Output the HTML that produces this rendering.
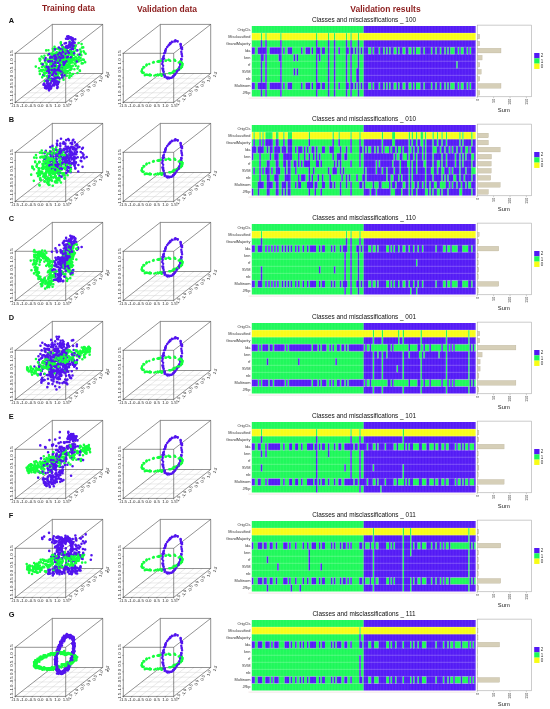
<!DOCTYPE html>
<html><head><meta charset="utf-8"><title>Classification figure</title>
<style>html,body{margin:0;padding:0;background:#fff;overflow:hidden}svg{display:block}</style>
</head><body>
<svg width="550" height="709" viewBox="0 0 550 709">
<defs><pattern id="vgrid" x="251.8" y="0" width="1.49200" height="10" patternUnits="userSpaceOnUse"><rect width="0.35" height="10" fill="#fff" fill-opacity="0.15"/></pattern></defs>
<rect width="550" height="709" fill="#fff"/>
<g font-family="Liberation Sans, Arial, sans-serif" font-weight="bold" font-size="8.5" fill="#8c1d1d" text-anchor="middle">
<text x="68.5" y="11">Training data</text>
<text x="167" y="11.5">Validation data</text>
<text x="385.5" y="12">Validation results</text>
</g>
<text x="8.8" y="22.5" font-family="Liberation Sans, Arial, sans-serif" font-weight="bold" font-size="7.4" fill="#111">A</text>
<path d="M23.7 102.4l37 -28.9M32.1 102.4l37 -28.9M40.5 102.4l37 -28.9M48.9 102.4l37 -28.9M57.3 102.4l37 -28.9M21.47 97.58h50.4M27.63 92.77h50.4M33.8 87.95h50.4M39.97 83.13h50.4M46.13 78.32h50.4" stroke="#c9c9c9" stroke-width="0.4" fill="none"/>
<path d="M15.3 53.3h50.4v49.1h-50.4zM52.3 24.4h50.4v49.1h-50.4zM15.3 53.3l37 -28.9M65.7 53.3l37 -28.9M15.3 102.4l37 -28.9M65.7 102.4l37 -28.9M15.3 102.4h-0.9M15.3 102.4v0.9M15.3 94.22h-0.9M23.7 102.4v0.9M15.3 86.03h-0.9M32.1 102.4v0.9M15.3 77.85h-0.9M40.5 102.4v0.9M15.3 69.67h-0.9M48.9 102.4v0.9M15.3 61.48h-0.9M57.3 102.4v0.9M15.3 53.3h-0.9M65.7 102.4v0.9" stroke="#262626" stroke-width="0.5" fill="none"/>
<g font-family="Liberation Sans, Arial, sans-serif" font-size="4.4" fill="#262626" text-anchor="middle">
<text x="15.3" y="107.4">-1.5</text>
<text x="23.7" y="107.4">-1.0</text>
<text x="32.1" y="107.4">-0.5</text>
<text x="40.5" y="107.4">0.0</text>
<text x="48.9" y="107.4">0.5</text>
<text x="57.3" y="107.4">1.0</text>
<text x="65.7" y="107.4">1.5</text>
<text transform="translate(13.4,102.4) rotate(-90)">-1.5</text>
<text transform="translate(13.4,94.22) rotate(-90)">-1.0</text>
<text transform="translate(13.4,86.03) rotate(-90)">-0.5</text>
<text transform="translate(13.4,77.85) rotate(-90)">0.0</text>
<text transform="translate(13.4,69.67) rotate(-90)">0.5</text>
<text transform="translate(13.4,61.48) rotate(-90)">1.0</text>
<text transform="translate(13.4,53.3) rotate(-90)">1.5</text>
<text transform="translate(71.3,103.6) rotate(-72)" font-size="4.1">-1.5</text>
<text transform="translate(77.47,98.78) rotate(-72)" font-size="4.1">-1.0</text>
<text transform="translate(83.63,93.97) rotate(-72)" font-size="4.1">-0.5</text>
<text transform="translate(89.8,89.15) rotate(-72)" font-size="4.1">0.0</text>
<text transform="translate(95.97,84.33) rotate(-72)" font-size="4.1">0.5</text>
<text transform="translate(102.13,79.52) rotate(-72)" font-size="4.1">1.0</text>
<text transform="translate(108.3,74.7) rotate(-72)" font-size="4.1">1.5</text>
</g>
<path d="M60.97 69.94h0M41.2 63.67h0M57.05 66.67h0M58.08 62.51h0M62.02 71.28h0M65.27 64.36h0M64.56 70.34h0M63.25 77.65h0M55.76 74.55h0M82.85 63.23h0M71.1 54.25h0M56.94 56.14h0M58.31 76.51h0M64.87 62.39h0M56.38 57.38h0M69.6 77.34h0M62.17 49.84h0M74.31 53.45h0M48.15 67.54h0M69.36 67.47h0M45.59 67.47h0M62.87 50.43h0M58.36 53.41h0M67.34 56.07h0M78.33 66.45h0M56.6 52.22h0M75.07 48.02h0M60.88 60.59h0M61.09 69.29h0M73.6 59.85h0M73.35 53.83h0M57.23 68.8h0M59.91 50.19h0M66.1 70.68h0M77.69 54.86h0M72.15 59.61h0M59.11 81.67h0M48.02 76.84h0M63.67 65.18h0M81.29 55.17h0M63.89 66.42h0M61.56 59.69h0M48.43 50.27h0M66.64 56.89h0M67.77 60.61h0M69.29 77.64h0M65.99 51.21h0M70.18 54.06h0M58.05 48.93h0M47.14 72.49h0M79.75 70.57h0M74.11 59.71h0M70.46 50.15h0M74.21 58h0" stroke="#14ff3e" stroke-width="2.6" stroke-linecap="round"/>
<path d="M51.45 72.72h0M52.26 61.9h0M57.34 68.29h0M44.76 67.2h0M59.69 62.78h0M59.13 60.82h0M49.42 76.71h0M46.75 69.02h0M59.82 49.42h0M74.73 63.74h0M52.15 63.97h0M44.8 70.43h0M56.86 57.38h0M57.2 75.47h0M85.15 62.17h0M56.46 61.24h0M48.93 77.85h0M53.81 65.55h0M72.02 47.83h0M45.17 61.36h0M51.79 63.84h0M70.5 62.35h0M51.57 74.8h0M53.19 63.32h0M40.23 59.06h0M54.91 75.86h0M70.11 60.91h0M55.23 75.86h0M71.07 59.39h0M65.06 64.03h0M50.3 64.16h0M64.08 55.21h0M63.05 64.7h0M53.49 71.99h0M46.95 80.88h0M65.79 51.98h0M52.11 56.35h0M54.57 53.92h0M58.88 58.21h0M58.46 77.05h0M55.01 67.86h0M61.65 61.34h0M67.38 72.68h0M39.88 60.84h0M66.47 56.67h0M58.66 68.32h0M57.05 72.37h0M65.09 62.68h0M57.82 56.55h0M52.81 48.84h0M63.68 64.89h0M64.52 66.93h0M62.11 65.61h0M63.37 72.1h0" stroke="#14ff3e" stroke-width="2.6" stroke-linecap="round"/>
<path d="M62.87 76.42h0M71.82 56.92h0M84.07 52.24h0M70.14 49.92h0M68.33 65.81h0M53.79 65.77h0M54.89 63.3h0M75.8 65.8h0M83.56 51.31h0M52.44 73.81h0M65.2 52.58h0M69.5 75.55h0M75.84 45.83h0M66.62 49.2h0M51.32 62.08h0M58.37 59.76h0M53.9 81.71h0M54.16 68.18h0M72.98 74.06h0M76.31 50.42h0M72.95 45.49h0M76.71 59.13h0M65.94 56.09h0M80.91 60.53h0M71.92 46.86h0M49.55 72.33h0M72.21 54.61h0M85.6 53.79h0M47.64 60.12h0M55.51 69.71h0M67.66 51.83h0M58.2 61.26h0M74.39 69.21h0M60.75 60.01h0M57.08 48.7h0M74.01 51.48h0M60.49 62.62h0M58.16 73.73h0M64.73 58.23h0M75.49 60.2h0M66.74 75.84h0M66.67 60.33h0M66.07 57.12h0M67.88 71.09h0M49.92 58.96h0M65.36 66.05h0M65.13 74.75h0M83.75 59.88h0M58.89 54.08h0M53.42 51.22h0M55.85 74.3h0M58.68 62.54h0M61.48 49.35h0M56.58 53.06h0" stroke="#14ff3e" stroke-width="2.6" stroke-linecap="round"/>
<path d="M81.6 44.1h0M39.56 71.26h0M69.11 53.8h0M56.81 55.97h0M35.8 66.6h0M67.29 64.64h0M78.68 61.34h0M80.54 58.01h0M75.48 60.4h0M54.51 58.9h0M46.67 63.89h0M61.32 60.06h0M64.84 68.29h0M60.51 71.03h0M68.67 66.53h0M39.86 73.97h0M46.05 72.86h0M59.09 59.77h0M65.46 58.83h0M43.6 58.19h0M57.35 67.89h0M61.3 55.78h0M67.84 59.01h0M42.17 71.32h0M42.18 77.37h0M54.32 65.32h0M49.2 66.67h0M72.7 62.47h0M51.15 62.67h0M56.78 76.62h0M41.61 56.51h0M51.85 53.58h0M68.72 54.94h0M72.29 54.01h0M64.32 49.54h0M66.88 61.84h0M55.7 63.86h0M72.22 66.23h0M80.92 51.54h0M59.56 72.28h0M77.5 72.98h0M63.24 67.44h0M63.61 52.16h0M40.92 70.03h0M67.73 53.12h0M61.4 44.99h0M62.94 59.55h0M42.04 71.08h0M58.47 72.63h0" stroke="#14ff3e" stroke-width="2.6" stroke-linecap="round"/>
<path d="M49.79 85.36h0M48.29 84.88h0M47.01 70.84h0M63.4 50.48h0M58.02 59.14h0" stroke="#5214ee" stroke-width="2.6" stroke-linecap="round"/>
<path d="M82 47.61h0M52.92 67.23h0M58.6 77.83h0M63.88 49.96h0M47.05 59.86h0M66.05 58.6h0M62.52 67.02h0M55.65 64.79h0M61.88 56.16h0M57.53 60.81h0M60.02 61.3h0M58.8 54.95h0M67.68 67.82h0M56.9 58.57h0M66.36 51.39h0M78.62 42.99h0M60.95 70.63h0M65.17 57.03h0M46.39 65.63h0M49.87 53.73h0M69.48 60.98h0M57.88 71h0M50.26 60.31h0M57.97 66.27h0M62.27 49.36h0M40.09 60.06h0M64.06 61.79h0M44.41 75.78h0M49.29 61.66h0M69.26 58.14h0M72.29 52.75h0M46.17 69.15h0M47.98 54.94h0M62.85 75.85h0M62.9 59.62h0M64.79 57.27h0M49.08 67.39h0M59.6 78.82h0M50.69 58.23h0" stroke="#14ff3e" stroke-width="2.6" stroke-linecap="round"/>
<path d="M67.15 52.21h0M69.23 53.29h0M53.4 78.99h0M62.8 49.87h0M70.43 50.38h0M62.5 55.93h0M68.49 45.53h0M70.82 37.2h0M49.44 73.1h0M64.44 75.38h0M48.98 76.36h0M47.61 82.66h0M54.73 80.42h0M45.02 87.84h0M67.6 47.9h0" stroke="#5214ee" stroke-width="2.6" stroke-linecap="round"/>
<path d="M57.96 60.23h0M69.57 70.24h0M69.15 65.39h0M74.75 60.49h0M57.47 62.26h0M64.56 64.53h0M70.67 69.82h0M47.91 78.62h0M61.49 61.2h0M56.89 78.54h0M63.86 58.07h0M50.03 58.98h0M47.69 59.72h0M70.97 60.3h0M65.76 65.85h0M43.63 65.7h0M61.78 74.97h0M44.73 81.26h0M64.19 50.25h0M74.06 54.95h0M63.68 56.53h0M54.7 57.02h0M65.06 72.38h0M62.77 70.46h0M54.7 61.35h0M55.21 66.59h0M76.61 57.68h0M57.71 54.76h0M68.91 63.4h0M55.98 55.44h0M72.13 52.11h0M65.65 60.59h0M58.57 66.28h0M52.46 72.89h0M75.51 63.18h0M60.75 71.87h0M59.09 52.85h0" stroke="#14ff3e" stroke-width="2.6" stroke-linecap="round"/>
<path d="M56.11 60.05h0M54.02 72.49h0M67.91 38.84h0M47.12 83.32h0M62.41 52.23h0M59.6 55.99h0M55.78 83h0M68.25 60.68h0M62.11 45.39h0M63.61 47.2h0M49.06 71.23h0M55.73 78.57h0M53.06 69.68h0M72.43 44.1h0M60.2 64.9h0M73 47.67h0M73.14 47.16h0M55.37 77.45h0" stroke="#5214ee" stroke-width="2.6" stroke-linecap="round"/>
<path d="M61.42 54.07h0M62.61 70.76h0M45.39 62.47h0M52.98 54.25h0M63.98 51.51h0M74.53 48.08h0M69.65 41.45h0M51.98 71.22h0M57.85 73.28h0M57.57 75.75h0M51.19 63.71h0M54.87 62.67h0M41.94 67.05h0M75.56 57.05h0M39.47 58.84h0M47.17 80.84h0M55.47 56.76h0M60.26 66.82h0M53.77 70.64h0M69.62 59.87h0M50.01 75.81h0M55.78 57.18h0M71.23 61.89h0M70.31 67.1h0M78.73 59.47h0M53.33 71.16h0M55.11 56.81h0M54.93 81.47h0M57.17 53.71h0M77.59 68.51h0M61.36 62h0M54.65 72.09h0" stroke="#14ff3e" stroke-width="2.6" stroke-linecap="round"/>
<path d="M58.88 61.36h0M59.67 56.44h0M56.11 81.72h0M54.55 80.7h0M68.42 38.27h0M59.25 66.41h0M67.16 36.54h0M63.2 71.84h0M54.34 58.5h0M48.15 77.47h0M54.4 76.25h0M52.22 80.74h0M66.82 50.96h0M46.74 66.91h0M49.6 85.43h0M59.67 67.89h0M62.12 68.26h0M70.78 51.14h0M45.5 85.98h0M57.25 62.07h0M55.73 55.41h0M73.83 42.66h0" stroke="#5214ee" stroke-width="2.6" stroke-linecap="round"/>
<path d="M63.85 60.19h0M43.1 75.57h0M55.51 61.66h0M64.52 65.68h0M67.2 57.76h0M70.49 63.25h0M61.74 72.69h0M50.41 59.19h0M55.04 48.92h0M57.72 62.13h0M52.67 68.22h0M59.3 68.99h0M83.21 47.41h0M68.06 65.84h0M42.85 63.87h0M63.21 63.1h0M64.12 68.15h0M63.99 63.41h0M65.63 62.72h0M79.95 70.92h0M53.88 64.38h0M53.41 58.91h0M54.09 68.57h0M79.04 57.13h0M51.17 68.82h0M66.71 51.77h0M59.19 59.94h0M61.62 64.77h0M62.54 46.96h0M48.43 68.43h0M74.92 45.43h0M64.33 65.15h0M60.84 49.88h0M54.54 46.68h0M46.18 50.42h0M62.07 69.17h0M71.55 69.07h0" stroke="#14ff3e" stroke-width="2.6" stroke-linecap="round"/>
<path d="M43.43 74.79h0M49.03 54.04h0M58.8 47.47h0M72.1 42.97h0M44.44 84.6h0M70.11 44.58h0M62.37 72.66h0M67.71 38.42h0M52.95 74.32h0M51.37 78.65h0M46.36 88.57h0M47.89 75.8h0M71.84 49.09h0M50.41 78.96h0M53.72 83.41h0M68.35 36.27h0M70.9 38.24h0" stroke="#5214ee" stroke-width="2.6" stroke-linecap="round"/>
<path d="M76.86 61.52h0M57.29 59.97h0M71.41 75.63h0M70.7 51.26h0M67.11 66.37h0M64.34 60.52h0M69.35 51.84h0M61.02 60.4h0M61.26 68.29h0M67.21 60.02h0M66.18 57.55h0M59.6 71.76h0M64.02 71.35h0M65.27 71.25h0M71.57 56.45h0M55.24 67.05h0M71.94 44.85h0M66.93 65.2h0M61.43 66.19h0M55.46 64.63h0M50.42 60.45h0M60.82 43.36h0M51.76 65.58h0M61.13 52.53h0M51.14 80.81h0M80.64 52.79h0M61.58 61.53h0M38.94 68.32h0M59.67 54.16h0M72.86 58.84h0M61.03 72.26h0M59.84 52.78h0M43.12 69.73h0M58.17 72.68h0M44.44 74.19h0M51.07 69.76h0M58.57 62.74h0M81.69 63.41h0" stroke="#14ff3e" stroke-width="2.6" stroke-linecap="round"/>
<path d="M69.96 43.9h0M61.27 68.74h0M48.23 83.94h0M54.4 81.76h0M46.63 87.51h0M63.04 56.14h0M49.36 72.92h0M74.7 42.77h0M71.88 39.82h0M72.95 48.92h0M72.65 38.53h0M54.92 62.24h0M52.22 75.13h0M48.89 84.47h0M60.63 48.79h0M52.28 61.37h0" stroke="#5214ee" stroke-width="2.6" stroke-linecap="round"/>
<path d="M70.04 65.76h0M68.97 61.15h0M80.12 49.51h0M67.78 65.93h0M82.7 59.57h0M61.36 69.05h0M50.2 79.83h0M60.85 42.19h0M64.85 56.36h0M60.82 73.84h0M62.86 63.18h0M47.07 76.31h0M72.74 65.76h0M57.5 54.99h0M69.94 73.17h0M69.95 53.93h0M56.08 69.25h0M44.43 55.8h0M60.68 55.46h0M62.17 57.85h0M63.56 79.72h0M64.77 48.83h0M55.38 75.71h0M59.68 63.11h0M65.83 68.29h0M62.89 63.78h0M60.48 57.74h0M71.63 61.37h0M57.92 52.89h0M44.13 72.9h0M70.7 54.17h0M67.18 62.03h0M61.12 72.85h0M71.2 68.2h0M56.08 60.48h0M50.2 68.58h0" stroke="#14ff3e" stroke-width="2.6" stroke-linecap="round"/>
<path d="M49.2 73.29h0M56.1 70.38h0M63.93 63.13h0M65.63 53.65h0M54.33 70.89h0M49.08 89.59h0M48.36 66.99h0M44.14 83.67h0M70.52 38.1h0M50.08 57.79h0M72.33 38.02h0M58.62 82.06h0M50.51 56.5h0M72.9 41.06h0M60.89 71.56h0M48.88 88.5h0M42.54 64.39h0M59.25 70.41h0" stroke="#5214ee" stroke-width="2.6" stroke-linecap="round"/>
<path d="M60.06 60.29h0M46.04 86.93h0M48.37 68.91h0M69.28 37.67h0M48.82 61.36h0M54.94 49.42h0M67.83 51.25h0M58 69.92h0M57.67 87.11h0M59.53 57.26h0M68.72 36.77h0M59.52 78.31h0M69.26 38.28h0M70.9 57.28h0M61.83 74.92h0M71.8 44.8h0M57.26 87.91h0M69.04 52.8h0M45.11 87.21h0M52.15 57.42h0M54.87 58.67h0M49.88 87.47h0M43.5 84.67h0M70.75 45.7h0M75.25 39.24h0M66.04 47.41h0M60.99 53.48h0M62.14 77.38h0M69.27 44.47h0M58.12 62.9h0M57.78 84.52h0M63.4 57.37h0M53.99 85.51h0M77.44 50.33h0M49.05 90.34h0M53.73 72.25h0M63.78 64.85h0M61.07 57.81h0M73.69 45.73h0M49.53 83.85h0M45.62 58.09h0M70.19 47.3h0M56.92 85.15h0M48.08 80.64h0M66.96 57.36h0M46.36 80.67h0M57.99 54.52h0M64.61 43.48h0M66.4 46.13h0M51.8 69.96h0M76.85 61.48h0M48.44 85.94h0M72.34 42.56h0M69.21 37.34h0" stroke="#5214ee" stroke-width="2.6" stroke-linecap="round"/>
<path d="M59.73 65.17h0M54.52 72.18h0M73.2 39.69h0M54.74 84.27h0M56.13 73.89h0M49.2 76.33h0M61.66 57.87h0M51.75 81.01h0M72.3 48.74h0M50.77 82.89h0M69.6 42.38h0M52.32 66.35h0M55.07 65.98h0M58.08 83.42h0M68.63 47.14h0M57.75 77.38h0M67.96 56.75h0M48.16 61.44h0M54.48 69.23h0M53.32 64.24h0M54.16 55.86h0M55.49 62.65h0M63.51 62.04h0M69.91 45.24h0M51.01 88.39h0M66.33 61.28h0M55.54 77.87h0M56.2 59.69h0M52.44 85.25h0M44.93 60.23h0M46.32 85.57h0M66 43.01h0M51.56 66.42h0M67.05 46.4h0M56.9 81.21h0M51.48 86.71h0M79.48 54.47h0M50 87.12h0M53.19 78.92h0M47.59 88.07h0M66.03 38.7h0M59.59 52.82h0M46.57 85.76h0M64.73 63.08h0M58.45 68.36h0M62.91 52.09h0M56.53 58.05h0M52.72 80.47h0M56.27 57.19h0M74.04 53.27h0M49.97 61.2h0M49.32 69.91h0M55.19 62.4h0M61.48 55.03h0M49.58 89.02h0" stroke="#5214ee" stroke-width="2.6" stroke-linecap="round"/>
<path d="M131.7 102.4l37 -28.9M140.1 102.4l37 -28.9M148.5 102.4l37 -28.9M156.9 102.4l37 -28.9M165.3 102.4l37 -28.9M129.47 97.58h50.4M135.63 92.77h50.4M141.8 87.95h50.4M147.97 83.13h50.4M154.13 78.32h50.4" stroke="#c9c9c9" stroke-width="0.4" fill="none"/>
<path d="M123.3 53.3h50.4v49.1h-50.4zM160.3 24.4h50.4v49.1h-50.4zM123.3 53.3l37 -28.9M173.7 53.3l37 -28.9M123.3 102.4l37 -28.9M173.7 102.4l37 -28.9M123.3 102.4h-0.9M123.3 102.4v0.9M123.3 94.22h-0.9M131.7 102.4v0.9M123.3 86.03h-0.9M140.1 102.4v0.9M123.3 77.85h-0.9M148.5 102.4v0.9M123.3 69.67h-0.9M156.9 102.4v0.9M123.3 61.48h-0.9M165.3 102.4v0.9M123.3 53.3h-0.9M173.7 102.4v0.9" stroke="#262626" stroke-width="0.5" fill="none"/>
<g font-family="Liberation Sans, Arial, sans-serif" font-size="4.4" fill="#262626" text-anchor="middle">
<text x="123.3" y="107.4">-1.5</text>
<text x="131.7" y="107.4">-1.0</text>
<text x="140.1" y="107.4">-0.5</text>
<text x="148.5" y="107.4">0.0</text>
<text x="156.9" y="107.4">0.5</text>
<text x="165.3" y="107.4">1.0</text>
<text x="173.7" y="107.4">1.5</text>
<text transform="translate(121.4,102.4) rotate(-90)">-1.5</text>
<text transform="translate(121.4,94.22) rotate(-90)">-1.0</text>
<text transform="translate(121.4,86.03) rotate(-90)">-0.5</text>
<text transform="translate(121.4,77.85) rotate(-90)">0.0</text>
<text transform="translate(121.4,69.67) rotate(-90)">0.5</text>
<text transform="translate(121.4,61.48) rotate(-90)">1.0</text>
<text transform="translate(121.4,53.3) rotate(-90)">1.5</text>
<text transform="translate(179.3,103.6) rotate(-72)" font-size="4.1">-1.5</text>
<text transform="translate(185.47,98.78) rotate(-72)" font-size="4.1">-1.0</text>
<text transform="translate(191.63,93.97) rotate(-72)" font-size="4.1">-0.5</text>
<text transform="translate(197.8,89.15) rotate(-72)" font-size="4.1">0.0</text>
<text transform="translate(203.97,84.33) rotate(-72)" font-size="4.1">0.5</text>
<text transform="translate(210.13,79.52) rotate(-72)" font-size="4.1">1.0</text>
<text transform="translate(216.3,74.7) rotate(-72)" font-size="4.1">1.5</text>
</g>
<path d="M180.92 68.15h0M143.51 66.92h0M162.29 74.77h0M168.72 59.68h0M180.17 61.82h0M158.05 75.05h0M153.67 62.54h0M177 70.03h0M141.9 71.09h0M143.32 73.09h0M158 61.45h0M180.8 62.98h0M158.84 61.89h0M181.44 63.79h0M182.06 64.44h0M176.28 71.04h0M152.97 62.62h0M162.74 74.37h0M149.25 64h0M148.14 75.1h0M159.09 61.04h0" stroke="#14ff3e" stroke-width="2.4" stroke-linecap="round"/>
<path d="M165.13 52.43h0M166.76 77.55h0M181.63 59.3h0M173.28 75.94h0M174.56 41.08h0M182.12 56.25h0M168.39 45.62h0M164.92 74.61h0M171.94 41.76h0M176.57 72.15h0M164.48 74.47h0M181.2 60.71h0M174.92 74.82h0M169.5 44.47h0M169.88 43.71h0M164.82 53.01h0M181.06 61.24h0M170.51 77.9h0M169.41 78.23h0M182.1 47.74h0M180.75 44.49h0M162.68 58.91h0M171.24 77.8h0M181.75 54.6h0M178.61 69.9h0" stroke="#5214ee" stroke-width="2.4" stroke-linecap="round"/>
<path d="M144.78 75.18h0M169.99 60.36h0M149.45 74.83h0M160.29 74.29h0M174.99 60.5h0M168.51 59.93h0M164.65 74.44h0M154.27 75.59h0M170.53 73.19h0M180.71 62.87h0M146.24 74.64h0M165.41 60.77h0M157.42 61.6h0M182.53 65.03h0M159.88 74.76h0M181.48 67.09h0M150.73 74.85h0M177.92 69.5h0M182.63 63.87h0M142.43 72.77h0M170.24 60.88h0" stroke="#14ff3e" stroke-width="2.4" stroke-linecap="round"/>
<path d="M163.66 72.02h0M170.59 43.24h0M175.63 40.52h0M181.07 47.62h0M180.16 65.11h0M167.52 78.57h0M180.71 44.65h0M168 77.59h0M163.91 55.83h0M163.28 57.07h0M162.59 60.88h0M162.92 70.11h0M181.65 53.4h0M181.19 59.03h0M163.4 56.46h0M178.68 68.5h0M163.5 74.59h0M173.85 75.74h0M175.16 40.43h0M164.09 58.47h0M168.47 78.09h0M173.48 76.21h0M164.66 76.82h0M162.99 58.54h0M179.25 67.23h0" stroke="#5214ee" stroke-width="2.4" stroke-linecap="round"/>
<path d="M146.58 64.58h0M149.79 75.23h0M181.46 63.39h0M143.69 67.55h0M181.95 65.16h0M153.63 61.88h0M150.88 75.26h0M160.91 60.82h0M144.27 67.21h0M178.72 62.44h0M145.93 74.84h0M174.49 59.63h0M181.39 62.51h0M181.8 62.97h0M142.05 69.43h0M161.66 75.9h0M175.09 70.95h0M181.74 62.68h0M145.83 74.74h0M173.85 71.69h0M147.51 74.59h0M181.22 66.25h0M142.31 72.31h0M169.26 73.23h0M181.43 67.19h0M141.69 71.2h0M175 71.17h0M179.39 69.36h0M158.21 75.18h0M149.85 74.47h0M142.17 69.28h0M175.02 70.6h0M180.35 61.47h0" stroke="#14ff3e" stroke-width="2.4" stroke-linecap="round"/>
<path d="M165.93 49.04h0M163.4 71.13h0M167.22 46.99h0M162.58 62.27h0M174.7 41.38h0M165.25 50.83h0M175.55 73.75h0M162.25 63.94h0M170.43 43.07h0M165.24 51.44h0M172.48 77.29h0M180.04 64.13h0M168.95 77.82h0" stroke="#5214ee" stroke-width="2.4" stroke-linecap="round"/>
<path d="M141.8 71.41h0M141.91 71h0M178.33 68.94h0M181.82 66.13h0M175.31 60.84h0M182.19 63.58h0M157.67 74.57h0M166.1 60.53h0M143.71 72.75h0M172.11 72.67h0M146.3 65.54h0M173.48 71.29h0M149.96 75.33h0M178.04 69.61h0M146.8 64.67h0M182.12 66.7h0M155.69 74.97h0M181.79 62.67h0M180.15 61.76h0M141.8 71.81h0" stroke="#14ff3e" stroke-width="2.4" stroke-linecap="round"/>
<path d="M170.27 43.68h0M166.67 77.7h0M163.22 69.72h0M180.54 43.94h0M175.08 40.83h0M180.79 46.2h0M182.08 49.15h0M181.28 51.76h0M163.04 58.74h0M164.88 75.98h0M177.57 70.71h0M176.84 71.22h0M163.15 68.55h0M163.14 65.78h0M168.92 44.84h0M162.65 59.01h0M177.72 41.21h0M181.35 48.61h0M165.28 50.42h0M172.55 42.12h0M177.66 41.49h0M165.55 50.4h0M179.03 69.33h0M165.45 50.71h0M162.34 68.57h0M164.09 53.34h0M175.68 40.97h0" stroke="#5214ee" stroke-width="2.4" stroke-linecap="round"/>
<text transform="translate(108.6,76) rotate(-90)" font-family="Liberation Sans, Arial, sans-serif" font-size="4.4" fill="#444" text-anchor="middle">x<tspan font-size="3" dy="1">3</tspan></text>
<path fill="#1cf858" d="M251.8 26h111.93v7.08h-111.93zM260.75 33.05h1.52v7.08h-1.52zM265.23 33.05h1.52v7.08h-1.52zM280.15 33.05h1.52v7.08h-1.52zM315.96 33.05h1.52v7.08h-1.52zM327.89 33.05h1.52v7.08h-1.52zM333.86 33.05h1.52v7.08h-1.52zM345.8 33.05h1.52v7.08h-1.52zM350.27 33.05h1.52v7.08h-1.52zM357.73 33.05h1.52v7.08h-1.52zM251.8 40.1h8.98v7.08h-8.98zM262.24 40.1h3.01v7.08h-3.01zM266.72 40.1h13.46v7.08h-13.46zM281.64 40.1h34.35v7.08h-34.35zM317.45 40.1h10.47v7.08h-10.47zM329.38 40.1h4.51v7.08h-4.51zM335.35 40.1h10.47v7.08h-10.47zM347.29 40.1h3.01v7.08h-3.01zM351.76 40.1h6v7.08h-6zM359.22 40.1h4.51v7.08h-4.51zM254.78 47.15h3.01v7.08h-3.01zM266.72 47.15h3.01v7.08h-3.01zM281.64 47.15h1.52v7.08h-1.52zM284.62 47.15h3.01v7.08h-3.01zM292.08 47.15h8.98v7.08h-8.98zM302.53 47.15h3.01v7.08h-3.01zM309.99 47.15h1.52v7.08h-1.52zM312.97 47.15h3.01v7.08h-3.01zM320.43 47.15h1.52v7.08h-1.52zM324.91 47.15h3.01v7.08h-3.01zM329.38 47.15h4.51v7.08h-4.51zM335.35 47.15h3.01v7.08h-3.01zM339.83 47.15h6v7.08h-6zM348.78 47.15h1.52v7.08h-1.52zM353.26 47.15h1.52v7.08h-1.52zM356.24 47.15h1.52v7.08h-1.52zM359.22 47.15h1.52v7.08h-1.52zM362.21 47.15h1.52v7.08h-1.52zM368.18 47.15h3.01v7.08h-3.01zM372.65 47.15h1.52v7.08h-1.52zM378.62 47.15h1.52v7.08h-1.52zM383.1 47.15h1.52v7.08h-1.52zM386.08 47.15h1.52v7.08h-1.52zM389.06 47.15h1.52v7.08h-1.52zM393.54 47.15h3.01v7.08h-3.01zM398.02 47.15h1.52v7.08h-1.52zM402.49 47.15h3.01v7.08h-3.01zM408.46 47.15h3.01v7.08h-3.01zM412.94 47.15h1.52v7.08h-1.52zM415.92 47.15h4.51v7.08h-4.51zM423.38 47.15h1.52v7.08h-1.52zM430.84 47.15h1.52v7.08h-1.52zM435.32 47.15h1.52v7.08h-1.52zM439.79 47.15h1.52v7.08h-1.52zM444.27 47.15h1.52v7.08h-1.52zM447.25 47.15h1.52v7.08h-1.52zM450.24 47.15h4.51v7.08h-4.51zM457.7 47.15h1.52v7.08h-1.52zM460.68 47.15h3.01v7.08h-3.01zM466.65 47.15h1.52v7.08h-1.52zM469.63 47.15h1.52v7.08h-1.52zM251.8 54.2h8.98v7.08h-8.98zM263.74 54.2h1.52v7.08h-1.52zM266.72 54.2h11.97v7.08h-11.97zM281.64 54.2h11.97v7.08h-11.97zM295.07 54.2h1.52v7.08h-1.52zM298.05 54.2h17.93v7.08h-17.93zM317.45 54.2h1.52v7.08h-1.52zM320.43 54.2h7.49v7.08h-7.49zM329.38 54.2h4.51v7.08h-4.51zM335.35 54.2h10.47v7.08h-10.47zM347.29 54.2h3.01v7.08h-3.01zM351.76 54.2h6v7.08h-6zM359.22 54.2h4.51v7.08h-4.51zM251.8 61.25h8.98v7.08h-8.98zM262.24 61.25h3.01v7.08h-3.01zM266.72 61.25h13.46v7.08h-13.46zM281.64 61.25h34.35v7.08h-34.35zM317.45 61.25h10.47v7.08h-10.47zM329.38 61.25h4.51v7.08h-4.51zM335.35 61.25h10.47v7.08h-10.47zM347.29 61.25h3.01v7.08h-3.01zM351.76 61.25h6v7.08h-6zM359.22 61.25h4.51v7.08h-4.51zM456.2 61.25h1.52v7.08h-1.52zM251.8 68.3h8.98v7.08h-8.98zM262.24 68.3h3.01v7.08h-3.01zM266.72 68.3h13.46v7.08h-13.46zM281.64 68.3h11.97v7.08h-11.97zM295.07 68.3h1.52v7.08h-1.52zM298.05 68.3h17.93v7.08h-17.93zM317.45 68.3h10.47v7.08h-10.47zM329.38 68.3h4.51v7.08h-4.51zM335.35 68.3h10.47v7.08h-10.47zM347.29 68.3h3.01v7.08h-3.01zM351.76 68.3h4.51v7.08h-4.51zM359.22 68.3h4.51v7.08h-4.51zM251.8 75.35h8.98v7.08h-8.98zM262.24 75.35h3.01v7.08h-3.01zM266.72 75.35h13.46v7.08h-13.46zM281.64 75.35h34.35v7.08h-34.35zM317.45 75.35h10.47v7.08h-10.47zM329.38 75.35h4.51v7.08h-4.51zM335.35 75.35h10.47v7.08h-10.47zM347.29 75.35h3.01v7.08h-3.01zM351.76 75.35h4.51v7.08h-4.51zM359.22 75.35h4.51v7.08h-4.51zM254.78 82.4h3.01v7.08h-3.01zM266.72 82.4h3.01v7.08h-3.01zM281.64 82.4h1.52v7.08h-1.52zM284.62 82.4h3.01v7.08h-3.01zM292.08 82.4h8.98v7.08h-8.98zM302.53 82.4h3.01v7.08h-3.01zM309.99 82.4h1.52v7.08h-1.52zM312.97 82.4h3.01v7.08h-3.01zM320.43 82.4h1.52v7.08h-1.52zM324.91 82.4h3.01v7.08h-3.01zM329.38 82.4h4.51v7.08h-4.51zM335.35 82.4h3.01v7.08h-3.01zM339.83 82.4h6v7.08h-6zM348.78 82.4h1.52v7.08h-1.52zM353.26 82.4h1.52v7.08h-1.52zM356.24 82.4h1.52v7.08h-1.52zM359.22 82.4h1.52v7.08h-1.52zM362.21 82.4h1.52v7.08h-1.52zM368.18 82.4h3.01v7.08h-3.01zM372.65 82.4h1.52v7.08h-1.52zM378.62 82.4h1.52v7.08h-1.52zM383.1 82.4h1.52v7.08h-1.52zM386.08 82.4h1.52v7.08h-1.52zM389.06 82.4h1.52v7.08h-1.52zM393.54 82.4h3.01v7.08h-3.01zM398.02 82.4h1.52v7.08h-1.52zM402.49 82.4h3.01v7.08h-3.01zM408.46 82.4h3.01v7.08h-3.01zM412.94 82.4h1.52v7.08h-1.52zM415.92 82.4h4.51v7.08h-4.51zM423.38 82.4h1.52v7.08h-1.52zM430.84 82.4h1.52v7.08h-1.52zM435.32 82.4h1.52v7.08h-1.52zM439.79 82.4h1.52v7.08h-1.52zM444.27 82.4h1.52v7.08h-1.52zM447.25 82.4h1.52v7.08h-1.52zM450.24 82.4h4.51v7.08h-4.51zM457.7 82.4h1.52v7.08h-1.52zM460.68 82.4h3.01v7.08h-3.01zM466.65 82.4h1.52v7.08h-1.52zM469.63 82.4h1.52v7.08h-1.52zM251.8 89.45h8.98v7.08h-8.98zM262.24 89.45h3.01v7.08h-3.01zM266.72 89.45h13.46v7.08h-13.46zM281.64 89.45h34.35v7.08h-34.35zM317.45 89.45h10.47v7.08h-10.47zM329.38 89.45h4.51v7.08h-4.51zM335.35 89.45h10.47v7.08h-10.47zM347.29 89.45h3.01v7.08h-3.01zM351.76 89.45h6v7.08h-6zM359.22 89.45h4.51v7.08h-4.51z"/>
<path fill="#5218f5" d="M363.7 26h111.93v7.08h-111.93zM260.75 40.1h1.52v7.08h-1.52zM265.23 40.1h1.52v7.08h-1.52zM280.15 40.1h1.52v7.08h-1.52zM315.96 40.1h1.52v7.08h-1.52zM327.89 40.1h1.52v7.08h-1.52zM333.86 40.1h1.52v7.08h-1.52zM345.8 40.1h1.52v7.08h-1.52zM350.27 40.1h1.52v7.08h-1.52zM357.73 40.1h1.52v7.08h-1.52zM363.7 40.1h111.93v7.08h-111.93zM251.8 47.15h3.01v7.08h-3.01zM257.77 47.15h8.98v7.08h-8.98zM269.7 47.15h11.97v7.08h-11.97zM283.13 47.15h1.52v7.08h-1.52zM287.61 47.15h4.51v7.08h-4.51zM301.04 47.15h1.52v7.08h-1.52zM305.51 47.15h4.51v7.08h-4.51zM311.48 47.15h1.52v7.08h-1.52zM315.96 47.15h4.51v7.08h-4.51zM321.92 47.15h3.01v7.08h-3.01zM327.89 47.15h1.52v7.08h-1.52zM333.86 47.15h1.52v7.08h-1.52zM338.34 47.15h1.52v7.08h-1.52zM345.8 47.15h3.01v7.08h-3.01zM350.27 47.15h3.01v7.08h-3.01zM354.75 47.15h1.52v7.08h-1.52zM357.73 47.15h1.52v7.08h-1.52zM360.72 47.15h1.52v7.08h-1.52zM363.7 47.15h4.51v7.08h-4.51zM371.16 47.15h1.52v7.08h-1.52zM374.14 47.15h4.51v7.08h-4.51zM380.11 47.15h3.01v7.08h-3.01zM384.59 47.15h1.52v7.08h-1.52zM387.57 47.15h1.52v7.08h-1.52zM390.56 47.15h3.01v7.08h-3.01zM396.52 47.15h1.52v7.08h-1.52zM399.51 47.15h3.01v7.08h-3.01zM405.48 47.15h3.01v7.08h-3.01zM411.44 47.15h1.52v7.08h-1.52zM414.43 47.15h1.52v7.08h-1.52zM420.4 47.15h3.01v7.08h-3.01zM424.87 47.15h6v7.08h-6zM432.33 47.15h3.01v7.08h-3.01zM436.81 47.15h3.01v7.08h-3.01zM441.28 47.15h3.01v7.08h-3.01zM445.76 47.15h1.52v7.08h-1.52zM448.74 47.15h1.52v7.08h-1.52zM454.71 47.15h3.01v7.08h-3.01zM459.19 47.15h1.52v7.08h-1.52zM463.66 47.15h3.01v7.08h-3.01zM468.14 47.15h1.52v7.08h-1.52zM471.12 47.15h4.51v7.08h-4.51zM260.75 54.2h3.01v7.08h-3.01zM265.23 54.2h1.52v7.08h-1.52zM278.66 54.2h3.01v7.08h-3.01zM293.58 54.2h1.52v7.08h-1.52zM296.56 54.2h1.52v7.08h-1.52zM315.96 54.2h1.52v7.08h-1.52zM318.94 54.2h1.52v7.08h-1.52zM327.89 54.2h1.52v7.08h-1.52zM333.86 54.2h1.52v7.08h-1.52zM345.8 54.2h1.52v7.08h-1.52zM350.27 54.2h1.52v7.08h-1.52zM357.73 54.2h1.52v7.08h-1.52zM363.7 54.2h111.93v7.08h-111.93zM260.75 61.25h1.52v7.08h-1.52zM265.23 61.25h1.52v7.08h-1.52zM280.15 61.25h1.52v7.08h-1.52zM315.96 61.25h1.52v7.08h-1.52zM327.89 61.25h1.52v7.08h-1.52zM333.86 61.25h1.52v7.08h-1.52zM345.8 61.25h1.52v7.08h-1.52zM350.27 61.25h1.52v7.08h-1.52zM357.73 61.25h1.52v7.08h-1.52zM363.7 61.25h92.53v7.08h-92.53zM457.7 61.25h17.93v7.08h-17.93zM260.75 68.3h1.52v7.08h-1.52zM265.23 68.3h1.52v7.08h-1.52zM280.15 68.3h1.52v7.08h-1.52zM293.58 68.3h1.52v7.08h-1.52zM296.56 68.3h1.52v7.08h-1.52zM315.96 68.3h1.52v7.08h-1.52zM327.89 68.3h1.52v7.08h-1.52zM333.86 68.3h1.52v7.08h-1.52zM345.8 68.3h1.52v7.08h-1.52zM350.27 68.3h1.52v7.08h-1.52zM356.24 68.3h3.01v7.08h-3.01zM363.7 68.3h111.93v7.08h-111.93zM260.75 75.35h1.52v7.08h-1.52zM265.23 75.35h1.52v7.08h-1.52zM280.15 75.35h1.52v7.08h-1.52zM315.96 75.35h1.52v7.08h-1.52zM327.89 75.35h1.52v7.08h-1.52zM333.86 75.35h1.52v7.08h-1.52zM345.8 75.35h1.52v7.08h-1.52zM350.27 75.35h1.52v7.08h-1.52zM356.24 75.35h3.01v7.08h-3.01zM363.7 75.35h111.93v7.08h-111.93zM251.8 82.4h3.01v7.08h-3.01zM257.77 82.4h8.98v7.08h-8.98zM269.7 82.4h11.97v7.08h-11.97zM283.13 82.4h1.52v7.08h-1.52zM287.61 82.4h4.51v7.08h-4.51zM301.04 82.4h1.52v7.08h-1.52zM305.51 82.4h4.51v7.08h-4.51zM311.48 82.4h1.52v7.08h-1.52zM315.96 82.4h4.51v7.08h-4.51zM321.92 82.4h3.01v7.08h-3.01zM327.89 82.4h1.52v7.08h-1.52zM333.86 82.4h1.52v7.08h-1.52zM338.34 82.4h1.52v7.08h-1.52zM345.8 82.4h3.01v7.08h-3.01zM350.27 82.4h3.01v7.08h-3.01zM354.75 82.4h1.52v7.08h-1.52zM357.73 82.4h1.52v7.08h-1.52zM360.72 82.4h1.52v7.08h-1.52zM363.7 82.4h4.51v7.08h-4.51zM371.16 82.4h1.52v7.08h-1.52zM374.14 82.4h4.51v7.08h-4.51zM380.11 82.4h3.01v7.08h-3.01zM384.59 82.4h1.52v7.08h-1.52zM387.57 82.4h1.52v7.08h-1.52zM390.56 82.4h3.01v7.08h-3.01zM396.52 82.4h1.52v7.08h-1.52zM399.51 82.4h3.01v7.08h-3.01zM405.48 82.4h3.01v7.08h-3.01zM411.44 82.4h1.52v7.08h-1.52zM414.43 82.4h1.52v7.08h-1.52zM420.4 82.4h3.01v7.08h-3.01zM424.87 82.4h6v7.08h-6zM432.33 82.4h3.01v7.08h-3.01zM436.81 82.4h3.01v7.08h-3.01zM441.28 82.4h3.01v7.08h-3.01zM445.76 82.4h1.52v7.08h-1.52zM448.74 82.4h1.52v7.08h-1.52zM454.71 82.4h3.01v7.08h-3.01zM459.19 82.4h1.52v7.08h-1.52zM463.66 82.4h3.01v7.08h-3.01zM468.14 82.4h1.52v7.08h-1.52zM471.12 82.4h4.51v7.08h-4.51zM260.75 89.45h1.52v7.08h-1.52zM265.23 89.45h1.52v7.08h-1.52zM280.15 89.45h1.52v7.08h-1.52zM315.96 89.45h1.52v7.08h-1.52zM327.89 89.45h1.52v7.08h-1.52zM333.86 89.45h1.52v7.08h-1.52zM345.8 89.45h1.52v7.08h-1.52zM350.27 89.45h1.52v7.08h-1.52zM357.73 89.45h1.52v7.08h-1.52zM363.7 89.45h111.93v7.08h-111.93z"/>
<path fill="#f8fd14" d="M251.8 33.05h8.98v7.08h-8.98zM262.24 33.05h3.01v7.08h-3.01zM266.72 33.05h13.46v7.08h-13.46zM281.64 33.05h34.35v7.08h-34.35zM317.45 33.05h10.47v7.08h-10.47zM329.38 33.05h4.51v7.08h-4.51zM335.35 33.05h10.47v7.08h-10.47zM347.29 33.05h3.01v7.08h-3.01zM351.76 33.05h6v7.08h-6zM359.22 33.05h116.41v7.08h-116.41z"/>
<rect x="251.8" y="26" width="223.8" height="70.5" fill="url(#vgrid)"/>
<path d="M251.8 33.05H475.6M251.8 40.1H475.6M251.8 47.15H475.6M251.8 54.2H475.6M251.8 61.25H475.6M251.8 68.3H475.6M251.8 75.35H475.6M251.8 82.4H475.6M251.8 89.45H475.6" stroke="#fff" stroke-opacity="0.4" stroke-width="0.6"/>
<g font-family="Liberation Sans, Arial, sans-serif" font-size="3.9" fill="#333" text-anchor="end">
<text x="250.4" y="30.92">OrigCls</text>
<text x="250.4" y="37.97">Misclassified</text>
<text x="250.4" y="45.02">GrandMajority</text>
<text x="250.4" y="52.07">lda</text>
<text x="250.4" y="59.12">knn</text>
<text x="250.4" y="66.18">rf</text>
<text x="250.4" y="73.23">SVM</text>
<text x="250.4" y="80.28">nb</text>
<text x="250.4" y="87.33">Multinom</text>
<text x="250.4" y="94.38">JRip</text>
</g>
<path d="M248.5 98.1H475.6" stroke="#e2c4c4" stroke-width="0.45"/>
<text x="364" y="21.8" font-family="Liberation Sans, Arial, sans-serif" font-size="6.4" text-anchor="middle" fill="#111">Classes and misclassifications _ 100</text>
<rect x="477.2" y="25.1" width="54.4" height="71.7" fill="#fff" stroke="#999" stroke-width="0.5"/>
<rect x="477.4" y="34.15" width="2.4" height="4.7" fill="#d6cfb8" stroke="#b3aa92" stroke-width="0.3"/>
<rect x="477.4" y="41.2" width="2.4" height="4.7" fill="#d6cfb8" stroke="#b3aa92" stroke-width="0.3"/>
<rect x="477.4" y="48.25" width="23.6" height="4.7" fill="#d6cfb8" stroke="#b3aa92" stroke-width="0.3"/>
<rect x="477.4" y="55.3" width="4.7" height="4.7" fill="#d6cfb8" stroke="#b3aa92" stroke-width="0.3"/>
<rect x="477.4" y="62.35" width="2.4" height="4.7" fill="#d6cfb8" stroke="#b3aa92" stroke-width="0.3"/>
<rect x="477.4" y="69.4" width="3.8" height="4.7" fill="#d6cfb8" stroke="#b3aa92" stroke-width="0.3"/>
<rect x="477.4" y="76.45" width="2.4" height="4.7" fill="#d6cfb8" stroke="#b3aa92" stroke-width="0.3"/>
<rect x="477.4" y="83.5" width="23.6" height="4.7" fill="#d6cfb8" stroke="#b3aa92" stroke-width="0.3"/>
<rect x="477.4" y="90.55" width="2.4" height="4.7" fill="#d6cfb8" stroke="#b3aa92" stroke-width="0.3"/>
<path d="M477.2 96.8v1.4" stroke="#777" stroke-width="0.35"/>
<text transform="translate(478.5,98.8) rotate(-90)" text-anchor="end" font-family="Liberation Sans, Arial, sans-serif" font-size="3.6" fill="#333">0</text>
<path d="M493.6 96.8v1.4" stroke="#777" stroke-width="0.35"/>
<text transform="translate(494.9,98.8) rotate(-90)" text-anchor="end" font-family="Liberation Sans, Arial, sans-serif" font-size="3.6" fill="#333">50</text>
<path d="M510 96.8v1.4" stroke="#777" stroke-width="0.35"/>
<text transform="translate(511.3,98.8) rotate(-90)" text-anchor="end" font-family="Liberation Sans, Arial, sans-serif" font-size="3.6" fill="#333">100</text>
<path d="M526.4 96.8v1.4" stroke="#777" stroke-width="0.35"/>
<text transform="translate(527.7,98.8) rotate(-90)" text-anchor="end" font-family="Liberation Sans, Arial, sans-serif" font-size="3.6" fill="#333">150</text>
<text x="503.8" y="112" font-family="Liberation Sans, Arial, sans-serif" font-size="5.8" text-anchor="middle" fill="#222">Sum</text>
<rect x="534.2" y="53" width="5.3" height="5.35" fill="#5218f5"/>
<text x="540.8" y="57.2" font-family="Liberation Sans, Arial, sans-serif" font-size="4.5" fill="#333">2</text>
<rect x="534.2" y="58.3" width="5.3" height="5.35" fill="#1cf858"/>
<text x="540.8" y="62.5" font-family="Liberation Sans, Arial, sans-serif" font-size="4.5" fill="#333">1</text>
<rect x="534.2" y="63.6" width="5.3" height="5.35" fill="#f8fd14"/>
<text x="540.8" y="67.8" font-family="Liberation Sans, Arial, sans-serif" font-size="4.5" fill="#333">0</text>
<text x="8.8" y="121.5" font-family="Liberation Sans, Arial, sans-serif" font-weight="bold" font-size="7.4" fill="#111">B</text>
<path d="M23.7 201.4l37 -28.9M32.1 201.4l37 -28.9M40.5 201.4l37 -28.9M48.9 201.4l37 -28.9M57.3 201.4l37 -28.9M21.47 196.58h50.4M27.63 191.77h50.4M33.8 186.95h50.4M39.97 182.13h50.4M46.13 177.32h50.4" stroke="#c9c9c9" stroke-width="0.4" fill="none"/>
<path d="M15.3 152.3h50.4v49.1h-50.4zM52.3 123.4h50.4v49.1h-50.4zM15.3 152.3l37 -28.9M65.7 152.3l37 -28.9M15.3 201.4l37 -28.9M65.7 201.4l37 -28.9M15.3 201.4h-0.9M15.3 201.4v0.9M15.3 193.22h-0.9M23.7 201.4v0.9M15.3 185.03h-0.9M32.1 201.4v0.9M15.3 176.85h-0.9M40.5 201.4v0.9M15.3 168.67h-0.9M48.9 201.4v0.9M15.3 160.48h-0.9M57.3 201.4v0.9M15.3 152.3h-0.9M65.7 201.4v0.9" stroke="#262626" stroke-width="0.5" fill="none"/>
<g font-family="Liberation Sans, Arial, sans-serif" font-size="4.4" fill="#262626" text-anchor="middle">
<text x="15.3" y="206.4">-1.5</text>
<text x="23.7" y="206.4">-1.0</text>
<text x="32.1" y="206.4">-0.5</text>
<text x="40.5" y="206.4">0.0</text>
<text x="48.9" y="206.4">0.5</text>
<text x="57.3" y="206.4">1.0</text>
<text x="65.7" y="206.4">1.5</text>
<text transform="translate(13.4,201.4) rotate(-90)">-1.5</text>
<text transform="translate(13.4,193.22) rotate(-90)">-1.0</text>
<text transform="translate(13.4,185.03) rotate(-90)">-0.5</text>
<text transform="translate(13.4,176.85) rotate(-90)">0.0</text>
<text transform="translate(13.4,168.67) rotate(-90)">0.5</text>
<text transform="translate(13.4,160.48) rotate(-90)">1.0</text>
<text transform="translate(13.4,152.3) rotate(-90)">1.5</text>
<text transform="translate(71.3,202.6) rotate(-72)" font-size="4.1">-1.5</text>
<text transform="translate(77.47,197.78) rotate(-72)" font-size="4.1">-1.0</text>
<text transform="translate(83.63,192.97) rotate(-72)" font-size="4.1">-0.5</text>
<text transform="translate(89.8,188.15) rotate(-72)" font-size="4.1">0.0</text>
<text transform="translate(95.97,183.33) rotate(-72)" font-size="4.1">0.5</text>
<text transform="translate(102.13,178.52) rotate(-72)" font-size="4.1">1.0</text>
<text transform="translate(108.3,173.7) rotate(-72)" font-size="4.1">1.5</text>
</g>
<path d="M60.96 182.52h0M55.75 176.37h0M43.69 163.68h0M64.97 161.15h0M45.96 173.46h0M49.61 158.65h0M53.9 173.69h0M43.87 175.19h0M58.73 174.28h0M56.56 163.11h0M56.44 178.1h0M44.13 175.74h0M52.07 154.82h0" stroke="#14ff3e" stroke-width="2.6" stroke-linecap="round"/>
<path d="M71.27 157.68h0M53.3 168.02h0M51.84 166.1h0M72.45 163.14h0M75.32 168.57h0M72.74 153.43h0M53.62 158.91h0M55.26 162.29h0M45.86 150.87h0M60.26 152.77h0M71.8 142.78h0M71.24 163.83h0M68.9 154.27h0M68.99 148.15h0M77.19 144.55h0M73.84 157.19h0M77.04 144.44h0M70.35 151.22h0M68.33 163.06h0M59.44 153.56h0M72.67 149.05h0M81.43 161.2h0M60.92 157.63h0M59.59 175.99h0M63.11 158.42h0M57.98 169.91h0M78.24 171.51h0M73.35 139.83h0M55.52 154.16h0M55 160.85h0M66.24 167.64h0M58.93 164.1h0M66.63 161.22h0" stroke="#5214ee" stroke-width="2.6" stroke-linecap="round"/>
<path d="M50.3 159.7h0M49.29 173.99h0M52.53 168.36h0M49.85 158.93h0M40.37 178.05h0M50.18 174.95h0M45.79 157.96h0M65.11 168.88h0M46.22 171.58h0M49.59 180.35h0M35.24 162.2h0M57.8 171.83h0M59.92 177.56h0M47.56 153.98h0M38.92 171.19h0M49.96 171.72h0M54.98 181.67h0M38.94 168.77h0M57.95 164.83h0M33.83 180.87h0M54.08 159.36h0M63.65 167.46h0M61.19 172.94h0M67.63 175.18h0M46.09 166.5h0M52.07 169.6h0M59.46 172.88h0M36.62 165.8h0" stroke="#14ff3e" stroke-width="2.6" stroke-linecap="round"/>
<path d="M53.25 149.24h0M49.79 161.94h0M66.98 148.65h0M65.9 159.98h0M68.41 162.93h0M69.95 171.28h0M52 158.82h0M49.34 161.4h0M57.33 164.16h0M84.35 158.25h0M70.65 155.34h0M56.82 153.39h0M60.59 164.24h0M71.71 152.41h0M70.76 167.69h0M74.33 157.7h0M64.81 162.09h0M78.36 164.97h0M52.08 170h0" stroke="#5214ee" stroke-width="2.6" stroke-linecap="round"/>
<path d="M48.6 168.6h0M39.45 173.7h0M39.63 185.49h0M46.02 169.49h0M51.22 159.83h0M42.16 171.8h0M39.07 168.79h0M45.97 176.14h0M45.87 173h0M42.83 167.92h0M50.11 150.94h0M40.34 180.05h0M45.48 163.61h0M52.03 160.5h0M49.46 178.68h0M44.75 162.76h0M41.11 171.56h0M52.13 159.65h0M48.55 182.16h0M53.67 166.01h0M49.27 159.84h0M35.97 155.11h0M44.99 158.18h0" stroke="#14ff3e" stroke-width="2.6" stroke-linecap="round"/>
<path d="M74.17 161.01h0M61.63 153.48h0M75.88 145.46h0M59.04 165.44h0M73.26 163.38h0M61.4 152.48h0M66.12 157.19h0M55.35 168.9h0M63.63 142.15h0M60.29 146.11h0M74.66 166.02h0M55.67 149.73h0M65.38 143.65h0M60.88 156.24h0M64.21 156.46h0M74.82 142.42h0M75.15 153.44h0M71.92 163.24h0M73.14 154.33h0M82.53 153.23h0M81.3 157.6h0M56.54 169.79h0M75.04 154.07h0M70.36 150.98h0" stroke="#5214ee" stroke-width="2.6" stroke-linecap="round"/>
<path d="M52.87 171.96h0M50.69 151.6h0M37.13 164.2h0M53.79 149.24h0M52.48 155.25h0M53.28 164.01h0M57.18 172.48h0M60.41 162.97h0M51.65 154.17h0M64.89 178.41h0M47.39 165.71h0M52.61 173.8h0M60.36 166.55h0M58.56 155.48h0M55.08 175.46h0M43.35 164.2h0M62.97 175.24h0M44.33 157.56h0M51.21 167.14h0M38.81 170.57h0M46.9 167.24h0M55.11 173.69h0M67.95 157.99h0M47.85 171.09h0M56.21 147.38h0M55.26 162.64h0M50.31 173.38h0" stroke="#14ff3e" stroke-width="2.6" stroke-linecap="round"/>
<path d="M60.74 151.23h0M69.76 168.5h0M67.58 167.47h0M70.7 152.98h0M80.72 160.72h0M70.35 148.19h0M63.58 158.66h0M62.97 162.56h0M65.09 161.94h0M55.89 149.86h0M60.9 164.83h0M56.92 143.62h0M72.22 144.18h0M63.99 149.08h0M59.41 172.86h0M66.84 166.63h0M56.01 159.18h0M61.55 155.6h0M60.07 151.67h0" stroke="#5214ee" stroke-width="2.6" stroke-linecap="round"/>
<path d="M44.88 175.58h0M47.19 171.31h0M43.56 166.28h0M42.52 163.81h0M45.31 175.8h0M42.82 169.02h0M61.43 166.56h0M51.5 164.04h0M48.41 170.22h0M37.03 173.26h0M55.94 171.04h0M50.8 169.01h0M36.48 157.87h0M55.69 172.25h0M50.94 177.08h0M67.57 162.84h0M57.1 170.67h0M64.44 168.24h0M44.83 157.36h0M53.26 161.49h0M53.66 172.88h0M60.89 165.32h0M38.75 173.86h0M58.85 178.17h0M55.02 165.45h0M56.88 170.05h0M64.48 164.01h0M43.09 165h0" stroke="#14ff3e" stroke-width="2.6" stroke-linecap="round"/>
<path d="M63.23 150.19h0M75.65 150.02h0M47.8 158.57h0M61.06 150.11h0M58.15 172.98h0M53.53 156.59h0M63.36 158.46h0M68.02 171.11h0M52.43 160.01h0M46.14 156.09h0M63.79 150.53h0M73.66 149.39h0M75.96 162.19h0M69.82 157.46h0M50.3 147.12h0M59.74 160.87h0M65.39 158.28h0M59.17 156.1h0M77.71 147.56h0" stroke="#5214ee" stroke-width="2.6" stroke-linecap="round"/>
<path d="M49.94 171.07h0M51.22 168.41h0M68.87 154.84h0M61.69 169.65h0M64.35 175.38h0M56.25 177.72h0M56.29 178.33h0M42.73 173.51h0M54.05 152.53h0M54.4 153.33h0M58.26 179.93h0M55.72 182.4h0M49.7 167.27h0M33.98 169.33h0M49.24 168.79h0M46.23 160.26h0M31.2 174.65h0M52.77 161.47h0M61.64 169.86h0M52.74 185.75h0M63.54 152.19h0M48.81 178.2h0M51.93 170.22h0M51.37 176.33h0M55.22 169.83h0" stroke="#14ff3e" stroke-width="2.6" stroke-linecap="round"/>
<path d="M67.7 156.77h0M61.63 157.83h0M55.26 170.02h0M49.56 164.59h0M44.52 153.21h0M57.45 164.48h0M65.92 165.73h0M65.04 156.76h0M76.92 151.92h0M56.03 158.36h0M71.29 146.8h0M83.13 156.63h0M57.13 145.01h0M58.4 154.88h0M68.27 139.15h0M74.41 164.88h0M80.76 151.98h0M82.09 148.8h0M59.37 157.03h0M59.36 153.03h0M69.64 151.69h0M60.31 143.64h0" stroke="#5214ee" stroke-width="2.6" stroke-linecap="round"/>
<path d="M45.72 173.97h0M54.61 163.21h0M41.2 179.97h0M44.96 167.23h0M50.94 159.65h0M44.42 181.35h0M61.69 150.16h0M51.26 179.51h0M63.48 157.65h0M54.77 159.73h0M39.82 175.19h0M55.89 177.29h0M64.5 178.53h0M43.7 168.42h0M62.04 173.22h0M45.07 162.96h0M39.88 171.85h0M56.54 162.38h0M32.19 166.54h0M57.41 168.85h0M58.97 158.35h0M48.06 179.05h0M32.64 166.92h0M46.92 182.47h0M55.95 166.09h0" stroke="#14ff3e" stroke-width="2.6" stroke-linecap="round"/>
<path d="M65.22 160.57h0M76.28 154.22h0M69.65 154.87h0M61.14 154.26h0M51.37 161.04h0M68.96 140.19h0M46.5 162.83h0M60.63 157.74h0M59.74 149.83h0M70.63 164.62h0M62.33 159.62h0M53.18 163.67h0M61.41 151.07h0M64.28 143.69h0M65.99 149.26h0M67.12 163.26h0M82.92 147.82h0M58.94 165.66h0M66.35 148.81h0M74.99 154.09h0M72.76 140.43h0" stroke="#5214ee" stroke-width="2.6" stroke-linecap="round"/>
<path d="M55.37 161.24h0M59.65 170.9h0M40.5 173.71h0M42.66 167.37h0M55.87 157.31h0M43.52 161.03h0M39.96 152.67h0M70.39 165.63h0M44.18 176.54h0M56.18 171.86h0M52.51 147.87h0M47.63 159.73h0M46.47 159.93h0M40.86 173.03h0M43.14 166.25h0M41.73 150.53h0M54.95 167.25h0M36.74 166.68h0M56.59 171.83h0M58.67 173.65h0" stroke="#14ff3e" stroke-width="2.6" stroke-linecap="round"/>
<path d="M63.9 157.43h0M67.06 164.05h0M75.5 163.42h0M61.01 138.74h0M57.18 145.21h0M64.57 148.85h0M62.47 162.46h0M70.63 156.74h0M70.18 161.55h0M67.34 163.15h0M66.54 154.7h0M57.21 162.5h0M72.21 155.09h0M65.5 152.64h0M77.47 145.74h0M67.19 170.2h0M56.52 161.45h0M72.82 158.6h0M69.21 159.29h0M65.46 162.69h0M52.27 168.88h0M64.51 158.28h0M54.08 165.85h0M66.84 156.42h0M56.07 156.29h0M50.42 152.36h0M57.83 151.42h0" stroke="#5214ee" stroke-width="2.6" stroke-linecap="round"/>
<path d="M49.39 158.95h0M38.67 171.7h0M63.72 173.39h0M49.26 162.61h0M52.78 166.66h0M46.13 178.93h0M39.05 162.57h0M41.78 156.89h0M38.14 176.1h0M48.02 157.77h0M59.08 170.11h0M39.68 174.31h0M39.08 172.77h0M40.21 173.54h0M40.04 178.77h0M49.43 184.68h0M59.43 161.31h0M56.12 166.96h0M44.75 173.58h0M43.1 176.5h0M54.49 166.58h0M50.91 159.88h0M56.91 166.92h0M58.9 168.98h0M45.19 152.17h0M54.65 166.58h0M59.4 169.17h0M51.97 180.81h0" stroke="#14ff3e" stroke-width="2.6" stroke-linecap="round"/>
<path d="M60.43 155.74h0M69.66 151.18h0M61.39 164.5h0M67.03 151.53h0M60.57 154.63h0M60.86 168.29h0M55.4 165.42h0M68.96 158.82h0M52.48 145.92h0M59.13 150.42h0M57.68 150.2h0M74.64 151.99h0M61.65 158.03h0M62.47 163.52h0M48.17 161.48h0M67.22 165.23h0M58.18 152.58h0M58.25 156.56h0M56.64 159.24h0" stroke="#5214ee" stroke-width="2.6" stroke-linecap="round"/>
<path d="M51.57 177.48h0M59.48 155.54h0M51.31 158.69h0M46.89 165.39h0M59.54 180.41h0M49.09 166.66h0M57.05 152.22h0M57.48 179.79h0M61.28 163.44h0M48.03 166.53h0M53.61 163.83h0M40.78 157.04h0M47.43 180.6h0M52.84 169.86h0M56.26 181.42h0M50.72 171.36h0M57.74 170.26h0M48.38 163.28h0M47.25 162.94h0" stroke="#14ff3e" stroke-width="2.6" stroke-linecap="round"/>
<path d="M75.3 168.1h0M66.43 173.07h0M63.49 149.63h0M68.15 146.77h0M67.29 151.55h0M65.84 149.02h0M60.73 151.15h0M62.11 168.69h0M66.84 158.21h0M67.27 155.95h0M49.98 154.07h0M82.54 166.87h0M57.35 140.85h0M67.32 148.58h0M63.1 143.57h0M61.55 176.66h0M68.65 167.4h0M69.23 163.19h0M44.34 158.93h0M63.07 159.42h0M73.99 154.35h0M67.07 147.45h0M64.01 149.77h0M67.54 151.47h0M71.66 159.44h0M79.45 147.06h0M77.72 157.19h0" stroke="#5214ee" stroke-width="2.6" stroke-linecap="round"/>
<path d="M58.02 149.97h0M55.1 163.03h0M44.72 181.42h0M50.37 158.84h0M63.84 164.36h0M44.48 156.42h0M41.55 168.28h0M48.1 177.65h0M39.32 161.7h0M54.29 165.68h0M51.74 158.29h0M65.38 167.39h0M39.37 184.86h0M32.49 167.88h0M62.2 154.67h0M57.22 182.46h0M54.02 160.18h0M48.89 184.9h0M47.63 169.16h0M48 161.45h0M44.89 166.99h0M64.56 155.1h0M46.91 155.49h0M48.57 172.72h0M51.62 159.25h0M53.34 177.59h0" stroke="#14ff3e" stroke-width="2.6" stroke-linecap="round"/>
<path d="M52.75 153.44h0M66.18 140.13h0M73.97 162.26h0M70.6 143.28h0M59.83 168.51h0M55.45 164.81h0M60.34 148.89h0M74.12 159.9h0M61.08 157.55h0M51.45 164.9h0M70.72 172.28h0M66.89 165.03h0M67.7 160.69h0M72.74 147.23h0M76.43 149.06h0M74.44 147.62h0M69.78 148.9h0M57.73 166.75h0M76.02 158.1h0M56.06 165.38h0M74.54 157.09h0" stroke="#5214ee" stroke-width="2.6" stroke-linecap="round"/>
<path d="M38.7 174.22h0M45.38 162.03h0M53.73 171.47h0M42.18 153.11h0M35.15 161.62h0M51.68 172.96h0M54.14 150.36h0M67.04 164.74h0M60.48 158.54h0M38.66 168.35h0M70.91 169.15h0M70.48 171.39h0M42.74 156.92h0M48.02 183.96h0M48.59 160.11h0M61.09 161.89h0M44.82 177.66h0M52.21 153.29h0M48.5 170.68h0M49.07 167.94h0M39.52 161.94h0M60.32 161.66h0M57.19 178.46h0M49.62 169.13h0M49.53 153.23h0M52.27 172.79h0M42.86 164.89h0M43.56 158.08h0M47.94 160.93h0M59.96 166.2h0M50.87 166.74h0M56.58 180.35h0M34.17 157.62h0M46.59 168.72h0M41.46 173.06h0M48.26 157.67h0M40.31 157.53h0M54.44 177.03h0" stroke="#14ff3e" stroke-width="2.6" stroke-linecap="round"/>
<path d="M68.68 160.18h0M83.53 154.82h0M74.68 158.03h0M65.62 146.34h0M49.39 165.48h0M86.69 156.96h0M50.69 156.32h0M62.25 162.94h0M67.83 147.46h0" stroke="#5214ee" stroke-width="2.6" stroke-linecap="round"/>
<path d="M131.7 201.4l37 -28.9M140.1 201.4l37 -28.9M148.5 201.4l37 -28.9M156.9 201.4l37 -28.9M165.3 201.4l37 -28.9M129.47 196.58h50.4M135.63 191.77h50.4M141.8 186.95h50.4M147.97 182.13h50.4M154.13 177.32h50.4" stroke="#c9c9c9" stroke-width="0.4" fill="none"/>
<path d="M123.3 152.3h50.4v49.1h-50.4zM160.3 123.4h50.4v49.1h-50.4zM123.3 152.3l37 -28.9M173.7 152.3l37 -28.9M123.3 201.4l37 -28.9M173.7 201.4l37 -28.9M123.3 201.4h-0.9M123.3 201.4v0.9M123.3 193.22h-0.9M131.7 201.4v0.9M123.3 185.03h-0.9M140.1 201.4v0.9M123.3 176.85h-0.9M148.5 201.4v0.9M123.3 168.67h-0.9M156.9 201.4v0.9M123.3 160.48h-0.9M165.3 201.4v0.9M123.3 152.3h-0.9M173.7 201.4v0.9" stroke="#262626" stroke-width="0.5" fill="none"/>
<g font-family="Liberation Sans, Arial, sans-serif" font-size="4.4" fill="#262626" text-anchor="middle">
<text x="123.3" y="206.4">-1.5</text>
<text x="131.7" y="206.4">-1.0</text>
<text x="140.1" y="206.4">-0.5</text>
<text x="148.5" y="206.4">0.0</text>
<text x="156.9" y="206.4">0.5</text>
<text x="165.3" y="206.4">1.0</text>
<text x="173.7" y="206.4">1.5</text>
<text transform="translate(121.4,201.4) rotate(-90)">-1.5</text>
<text transform="translate(121.4,193.22) rotate(-90)">-1.0</text>
<text transform="translate(121.4,185.03) rotate(-90)">-0.5</text>
<text transform="translate(121.4,176.85) rotate(-90)">0.0</text>
<text transform="translate(121.4,168.67) rotate(-90)">0.5</text>
<text transform="translate(121.4,160.48) rotate(-90)">1.0</text>
<text transform="translate(121.4,152.3) rotate(-90)">1.5</text>
<text transform="translate(179.3,202.6) rotate(-72)" font-size="4.1">-1.5</text>
<text transform="translate(185.47,197.78) rotate(-72)" font-size="4.1">-1.0</text>
<text transform="translate(191.63,192.97) rotate(-72)" font-size="4.1">-0.5</text>
<text transform="translate(197.8,188.15) rotate(-72)" font-size="4.1">0.0</text>
<text transform="translate(203.97,183.33) rotate(-72)" font-size="4.1">0.5</text>
<text transform="translate(210.13,178.52) rotate(-72)" font-size="4.1">1.0</text>
<text transform="translate(216.3,173.7) rotate(-72)" font-size="4.1">1.5</text>
</g>
<path d="M146.24 173.64h0M181.48 166.09h0M180.71 161.87h0M178.33 167.94h0M175.31 159.84h0M173.85 170.69h0M158.21 174.18h0M141.8 170.41h0M141.91 170h0M149.79 174.23h0M149.45 173.83h0M181.82 165.13h0M180.17 160.82h0M182.06 163.44h0M181.46 162.39h0M153.67 161.54h0M142.05 168.43h0M141.9 170.09h0M148.14 174.1h0M150.88 174.26h0M169.99 159.36h0M177 169.03h0" stroke="#14ff3e" stroke-width="2.4" stroke-linecap="round"/>
<path d="M171.94 140.76h0M180.04 163.13h0M173.28 174.94h0M162.65 158.01h0M164.92 173.61h0M169.88 142.71h0M181.28 150.76h0M177.72 140.21h0M162.59 159.88h0M170.43 142.07h0M162.68 157.91h0M162.34 167.57h0M163.66 171.02h0M168.47 177.09h0M180.16 164.11h0M164.88 174.98h0M172.55 141.12h0M170.27 142.68h0M163.04 157.74h0M181.06 160.24h0M174.92 173.82h0M168.95 176.82h0M176.84 170.22h0M170.59 142.24h0" stroke="#5214ee" stroke-width="2.4" stroke-linecap="round"/>
<path d="M164.65 173.44h0M157.67 173.57h0M143.51 165.92h0M145.93 173.84h0M143.69 166.55h0M165.41 159.77h0M157.42 160.6h0M182.12 165.7h0M181.44 162.79h0M181.95 164.16h0M175 170.17h0M181.43 166.19h0M178.04 168.61h0M182.19 162.58h0M142.17 168.28h0M162.29 173.77h0M181.79 161.67h0M150.73 173.85h0M161.66 174.9h0M170.24 159.88h0M176.28 170.04h0M168.72 158.68h0" stroke="#14ff3e" stroke-width="2.4" stroke-linecap="round"/>
<path d="M165.93 148.04h0M166.76 176.55h0M165.24 150.44h0M181.65 152.4h0M182.08 148.15h0M175.55 172.75h0M179.25 166.23h0M169.41 177.23h0M165.25 149.83h0M180.71 143.65h0M173.85 174.74h0M175.68 139.97h0M167.22 145.99h0M165.45 149.71h0M180.54 142.94h0M163.4 170.13h0M163.15 167.55h0M181.07 146.62h0M169.5 143.47h0M171.24 176.8h0M181.63 158.3h0M175.08 139.83h0M163.5 173.59h0M163.14 164.78h0" stroke="#5214ee" stroke-width="2.4" stroke-linecap="round"/>
<path d="M155.69 173.97h0M144.78 174.18h0M147.51 173.59h0M146.3 164.54h0M158.05 174.05h0M152.97 161.62h0M170.53 172.19h0M180.92 167.15h0M180.35 160.47h0M162.74 173.37h0M159.09 160.04h0M149.96 174.33h0M174.99 159.5h0M160.29 173.29h0M175.09 169.95h0M166.1 159.53h0M143.71 171.75h0M143.32 172.09h0M149.85 173.47h0M173.48 170.29h0M178.72 161.44h0M172.11 171.67h0M181.39 161.51h0M141.8 170.81h0M144.27 166.21h0" stroke="#14ff3e" stroke-width="2.4" stroke-linecap="round"/>
<path d="M162.25 162.94h0M162.92 169.11h0M164.09 152.34h0M163.22 168.72h0M165.55 149.4h0M172.48 176.29h0M162.99 157.54h0M170.51 176.9h0M177.57 169.71h0M168.92 143.84h0M178.68 167.5h0M168 176.59h0M165.13 151.43h0M164.66 175.82h0M163.4 155.46h0M175.63 139.52h0M163.91 154.83h0M174.7 140.38h0M181.75 153.6h0M167.52 177.57h0M177.66 140.49h0" stroke="#5214ee" stroke-width="2.4" stroke-linecap="round"/>
<path d="M175.02 169.6h0M182.63 162.87h0M179.39 168.36h0M142.43 171.77h0M146.8 163.67h0M182.53 164.03h0M158 160.45h0M169.26 172.23h0M181.22 165.25h0M149.25 163h0M158.84 160.89h0M160.91 159.82h0M174.49 158.63h0M177.92 168.5h0M180.8 161.98h0M146.58 163.58h0M141.69 170.2h0M168.51 158.93h0M154.27 174.59h0M159.88 173.76h0M145.83 173.74h0M142.31 171.31h0M181.74 161.68h0M180.15 160.76h0M153.63 160.88h0M181.8 161.97h0" stroke="#14ff3e" stroke-width="2.4" stroke-linecap="round"/>
<path d="M175.16 139.43h0M180.75 143.49h0M176.57 171.15h0M180.79 145.2h0M178.61 168.9h0M164.48 173.47h0M164.82 152.01h0M162.58 161.27h0M182.12 155.25h0M181.2 159.71h0M166.67 176.7h0M181.19 158.03h0M163.28 156.07h0M181.35 147.61h0M165.28 149.42h0M168.39 144.62h0M173.48 175.21h0M182.1 146.74h0M179.03 168.33h0M174.56 140.08h0M164.09 157.47h0" stroke="#5214ee" stroke-width="2.4" stroke-linecap="round"/>
<text transform="translate(108.6,175) rotate(-90)" font-family="Liberation Sans, Arial, sans-serif" font-size="4.4" fill="#444" text-anchor="middle">x<tspan font-size="3" dy="1">3</tspan></text>
<path fill="#1cf858" d="M251.8 125h111.93v7.08h-111.93zM253.29 132.05h1.52v7.08h-1.52zM259.26 132.05h1.52v7.08h-1.52zM262.24 132.05h1.52v7.08h-1.52zM265.23 132.05h7.49v7.08h-7.49zM275.67 132.05h3.01v7.08h-3.01zM283.13 132.05h1.52v7.08h-1.52zM287.61 132.05h4.51v7.08h-4.51zM308.5 132.05h1.52v7.08h-1.52zM332.37 132.05h1.52v7.08h-1.52zM338.34 132.05h1.52v7.08h-1.52zM350.27 132.05h1.52v7.08h-1.52zM359.22 132.05h1.52v7.08h-1.52zM381.6 132.05h1.52v7.08h-1.52zM392.05 132.05h3.01v7.08h-3.01zM408.46 132.05h1.52v7.08h-1.52zM411.44 132.05h1.52v7.08h-1.52zM415.92 132.05h1.52v7.08h-1.52zM420.4 132.05h3.01v7.08h-3.01zM424.87 132.05h1.52v7.08h-1.52zM432.33 132.05h1.52v7.08h-1.52zM436.81 132.05h1.52v7.08h-1.52zM441.28 132.05h1.52v7.08h-1.52zM445.76 132.05h1.52v7.08h-1.52zM459.19 132.05h1.52v7.08h-1.52zM462.17 132.05h1.52v7.08h-1.52zM471.12 132.05h1.52v7.08h-1.52zM251.8 139.1h1.52v7.08h-1.52zM254.78 139.1h4.51v7.08h-4.51zM260.75 139.1h1.52v7.08h-1.52zM263.74 139.1h1.52v7.08h-1.52zM272.69 139.1h3.01v7.08h-3.01zM278.66 139.1h4.51v7.08h-4.51zM284.62 139.1h3.01v7.08h-3.01zM292.08 139.1h16.44v7.08h-16.44zM309.99 139.1h22.41v7.08h-22.41zM333.86 139.1h4.51v7.08h-4.51zM339.83 139.1h10.47v7.08h-10.47zM351.76 139.1h7.49v7.08h-7.49zM360.72 139.1h3.01v7.08h-3.01zM381.6 139.1h1.52v7.08h-1.52zM392.05 139.1h3.01v7.08h-3.01zM408.46 139.1h1.52v7.08h-1.52zM411.44 139.1h1.52v7.08h-1.52zM415.92 139.1h1.52v7.08h-1.52zM420.4 139.1h3.01v7.08h-3.01zM424.87 139.1h1.52v7.08h-1.52zM432.33 139.1h1.52v7.08h-1.52zM436.81 139.1h1.52v7.08h-1.52zM441.28 139.1h1.52v7.08h-1.52zM445.76 139.1h1.52v7.08h-1.52zM459.19 139.1h1.52v7.08h-1.52zM462.17 139.1h1.52v7.08h-1.52zM471.12 139.1h1.52v7.08h-1.52zM256.28 146.15h1.52v7.08h-1.52zM263.74 146.15h3.01v7.08h-3.01zM268.21 146.15h1.52v7.08h-1.52zM272.69 146.15h1.52v7.08h-1.52zM280.15 146.15h1.52v7.08h-1.52zM286.12 146.15h1.52v7.08h-1.52zM292.08 146.15h3.01v7.08h-3.01zM296.56 146.15h1.52v7.08h-1.52zM302.53 146.15h1.52v7.08h-1.52zM305.51 146.15h1.52v7.08h-1.52zM308.5 146.15h3.01v7.08h-3.01zM314.46 146.15h1.52v7.08h-1.52zM317.45 146.15h4.51v7.08h-4.51zM324.91 146.15h4.51v7.08h-4.51zM333.86 146.15h6v7.08h-6zM341.32 146.15h4.51v7.08h-4.51zM347.29 146.15h3.01v7.08h-3.01zM351.76 146.15h7.49v7.08h-7.49zM362.21 146.15h1.52v7.08h-1.52zM365.19 146.15h1.52v7.08h-1.52zM368.18 146.15h3.01v7.08h-3.01zM374.14 146.15h1.52v7.08h-1.52zM377.13 146.15h1.52v7.08h-1.52zM381.6 146.15h1.52v7.08h-1.52zM384.59 146.15h4.51v7.08h-4.51zM390.56 146.15h1.52v7.08h-1.52zM395.03 146.15h1.52v7.08h-1.52zM398.02 146.15h3.01v7.08h-3.01zM402.49 146.15h1.52v7.08h-1.52zM408.46 146.15h3.01v7.08h-3.01zM412.94 146.15h1.52v7.08h-1.52zM417.41 146.15h1.52v7.08h-1.52zM421.89 146.15h1.52v7.08h-1.52zM424.87 146.15h1.52v7.08h-1.52zM432.33 146.15h4.51v7.08h-4.51zM439.79 146.15h1.52v7.08h-1.52zM444.27 146.15h1.52v7.08h-1.52zM448.74 146.15h1.52v7.08h-1.52zM451.73 146.15h1.52v7.08h-1.52zM456.2 146.15h1.52v7.08h-1.52zM460.68 146.15h1.52v7.08h-1.52zM465.16 146.15h3.01v7.08h-3.01zM469.63 146.15h1.52v7.08h-1.52zM253.29 153.2h6v7.08h-6zM260.75 153.2h8.98v7.08h-8.98zM271.2 153.2h3.01v7.08h-3.01zM278.66 153.2h4.51v7.08h-4.51zM292.08 153.2h6v7.08h-6zM299.54 153.2h4.51v7.08h-4.51zM305.51 153.2h3.01v7.08h-3.01zM309.99 153.2h3.01v7.08h-3.01zM314.46 153.2h1.52v7.08h-1.52zM317.45 153.2h1.52v7.08h-1.52zM320.43 153.2h11.97v7.08h-11.97zM333.86 153.2h3.01v7.08h-3.01zM341.32 153.2h3.01v7.08h-3.01zM347.29 153.2h11.97v7.08h-11.97zM360.72 153.2h3.01v7.08h-3.01zM393.54 153.2h1.52v7.08h-1.52zM396.52 153.2h3.01v7.08h-3.01zM402.49 153.2h4.51v7.08h-4.51zM408.46 153.2h1.52v7.08h-1.52zM412.94 153.2h1.52v7.08h-1.52zM415.92 153.2h1.52v7.08h-1.52zM421.89 153.2h1.52v7.08h-1.52zM424.87 153.2h1.52v7.08h-1.52zM432.33 153.2h1.52v7.08h-1.52zM441.28 153.2h1.52v7.08h-1.52zM445.76 153.2h1.52v7.08h-1.52zM454.71 153.2h1.52v7.08h-1.52zM459.19 153.2h1.52v7.08h-1.52zM462.17 153.2h1.52v7.08h-1.52zM465.16 153.2h1.52v7.08h-1.52zM471.12 153.2h3.01v7.08h-3.01zM251.8 160.25h7.49v7.08h-7.49zM260.75 160.25h6v7.08h-6zM269.7 160.25h6v7.08h-6zM278.66 160.25h4.51v7.08h-4.51zM286.12 160.25h1.52v7.08h-1.52zM290.59 160.25h3.01v7.08h-3.01zM296.56 160.25h1.52v7.08h-1.52zM299.54 160.25h1.52v7.08h-1.52zM302.53 160.25h1.52v7.08h-1.52zM309.99 160.25h6v7.08h-6zM318.94 160.25h1.52v7.08h-1.52zM321.92 160.25h11.97v7.08h-11.97zM335.35 160.25h1.52v7.08h-1.52zM338.34 160.25h1.52v7.08h-1.52zM341.32 160.25h8.98v7.08h-8.98zM351.76 160.25h7.49v7.08h-7.49zM360.72 160.25h3.01v7.08h-3.01zM375.64 160.25h1.52v7.08h-1.52zM378.62 160.25h1.52v7.08h-1.52zM392.05 160.25h1.52v7.08h-1.52zM399.51 160.25h1.52v7.08h-1.52zM406.97 160.25h3.01v7.08h-3.01zM411.44 160.25h1.52v7.08h-1.52zM415.92 160.25h1.52v7.08h-1.52zM423.38 160.25h3.01v7.08h-3.01zM432.33 160.25h1.52v7.08h-1.52zM436.81 160.25h3.01v7.08h-3.01zM441.28 160.25h1.52v7.08h-1.52zM445.76 160.25h1.52v7.08h-1.52zM454.71 160.25h1.52v7.08h-1.52zM459.19 160.25h1.52v7.08h-1.52zM462.17 160.25h1.52v7.08h-1.52zM471.12 160.25h1.52v7.08h-1.52zM251.8 167.3h1.52v7.08h-1.52zM254.78 167.3h4.51v7.08h-4.51zM260.75 167.3h1.52v7.08h-1.52zM263.74 167.3h1.52v7.08h-1.52zM269.7 167.3h1.52v7.08h-1.52zM272.69 167.3h3.01v7.08h-3.01zM280.15 167.3h4.51v7.08h-4.51zM286.12 167.3h1.52v7.08h-1.52zM290.59 167.3h4.51v7.08h-4.51zM296.56 167.3h11.97v7.08h-11.97zM309.99 167.3h3.01v7.08h-3.01zM314.46 167.3h13.46v7.08h-13.46zM329.38 167.3h3.01v7.08h-3.01zM336.84 167.3h3.01v7.08h-3.01zM341.32 167.3h1.52v7.08h-1.52zM344.3 167.3h19.43v7.08h-19.43zM365.19 167.3h1.52v7.08h-1.52zM375.64 167.3h1.52v7.08h-1.52zM381.6 167.3h1.52v7.08h-1.52zM386.08 167.3h1.52v7.08h-1.52zM393.54 167.3h1.52v7.08h-1.52zM399.51 167.3h1.52v7.08h-1.52zM408.46 167.3h1.52v7.08h-1.52zM411.44 167.3h1.52v7.08h-1.52zM415.92 167.3h1.52v7.08h-1.52zM424.87 167.3h1.52v7.08h-1.52zM430.84 167.3h3.01v7.08h-3.01zM436.81 167.3h1.52v7.08h-1.52zM441.28 167.3h3.01v7.08h-3.01zM448.74 167.3h1.52v7.08h-1.52zM451.73 167.3h1.52v7.08h-1.52zM459.19 167.3h1.52v7.08h-1.52zM465.16 167.3h1.52v7.08h-1.52zM471.12 167.3h4.51v7.08h-4.51zM251.8 174.35h7.49v7.08h-7.49zM260.75 174.35h6v7.08h-6zM269.7 174.35h4.51v7.08h-4.51zM278.66 174.35h6v7.08h-6zM290.59 174.35h7.49v7.08h-7.49zM299.54 174.35h1.52v7.08h-1.52zM305.51 174.35h3.01v7.08h-3.01zM309.99 174.35h1.52v7.08h-1.52zM312.97 174.35h4.51v7.08h-4.51zM318.94 174.35h3.01v7.08h-3.01zM323.42 174.35h6v7.08h-6zM330.88 174.35h10.47v7.08h-10.47zM342.81 174.35h3.01v7.08h-3.01zM347.29 174.35h1.52v7.08h-1.52zM350.27 174.35h6v7.08h-6zM357.73 174.35h4.51v7.08h-4.51zM365.19 174.35h1.52v7.08h-1.52zM386.08 174.35h1.52v7.08h-1.52zM390.56 174.35h3.01v7.08h-3.01zM398.02 174.35h1.52v7.08h-1.52zM401 174.35h1.52v7.08h-1.52zM408.46 174.35h1.52v7.08h-1.52zM411.44 174.35h1.52v7.08h-1.52zM424.87 174.35h1.52v7.08h-1.52zM432.33 174.35h1.52v7.08h-1.52zM441.28 174.35h1.52v7.08h-1.52zM444.27 174.35h1.52v7.08h-1.52zM447.25 174.35h1.52v7.08h-1.52zM453.22 174.35h3.01v7.08h-3.01zM459.19 174.35h1.52v7.08h-1.52zM463.66 174.35h1.52v7.08h-1.52zM471.12 174.35h1.52v7.08h-1.52zM251.8 181.4h6v7.08h-6zM263.74 181.4h3.01v7.08h-3.01zM272.69 181.4h3.01v7.08h-3.01zM278.66 181.4h3.01v7.08h-3.01zM286.12 181.4h1.52v7.08h-1.52zM290.59 181.4h4.51v7.08h-4.51zM296.56 181.4h1.52v7.08h-1.52zM301.04 181.4h6v7.08h-6zM312.97 181.4h1.52v7.08h-1.52zM317.45 181.4h4.51v7.08h-4.51zM324.91 181.4h4.51v7.08h-4.51zM332.37 181.4h1.52v7.08h-1.52zM335.35 181.4h4.51v7.08h-4.51zM341.32 181.4h4.51v7.08h-4.51zM347.29 181.4h3.01v7.08h-3.01zM351.76 181.4h7.49v7.08h-7.49zM362.21 181.4h1.52v7.08h-1.52zM365.19 181.4h7.49v7.08h-7.49zM374.14 181.4h4.51v7.08h-4.51zM381.6 181.4h7.49v7.08h-7.49zM390.56 181.4h1.52v7.08h-1.52zM395.03 181.4h1.52v7.08h-1.52zM402.49 181.4h3.01v7.08h-3.01zM408.46 181.4h1.52v7.08h-1.52zM411.44 181.4h3.01v7.08h-3.01zM417.41 181.4h1.52v7.08h-1.52zM421.89 181.4h1.52v7.08h-1.52zM424.87 181.4h1.52v7.08h-1.52zM429.35 181.4h1.52v7.08h-1.52zM433.82 181.4h3.01v7.08h-3.01zM439.79 181.4h6v7.08h-6zM448.74 181.4h1.52v7.08h-1.52zM451.73 181.4h1.52v7.08h-1.52zM456.2 181.4h1.52v7.08h-1.52zM460.68 181.4h1.52v7.08h-1.52zM465.16 181.4h1.52v7.08h-1.52zM468.14 181.4h3.01v7.08h-3.01zM253.29 188.45h4.51v7.08h-4.51zM259.26 188.45h7.49v7.08h-7.49zM269.7 188.45h6v7.08h-6zM278.66 188.45h3.01v7.08h-3.01zM283.13 188.45h1.52v7.08h-1.52zM286.12 188.45h1.52v7.08h-1.52zM290.59 188.45h17.93v7.08h-17.93zM309.99 188.45h4.51v7.08h-4.51zM315.96 188.45h4.51v7.08h-4.51zM321.92 188.45h17.93v7.08h-17.93zM341.32 188.45h8.98v7.08h-8.98zM351.76 188.45h11.97v7.08h-11.97zM369.67 188.45h1.52v7.08h-1.52zM375.64 188.45h1.52v7.08h-1.52zM390.56 188.45h4.51v7.08h-4.51zM401 188.45h1.52v7.08h-1.52zM408.46 188.45h1.52v7.08h-1.52zM411.44 188.45h1.52v7.08h-1.52zM415.92 188.45h1.52v7.08h-1.52zM424.87 188.45h3.01v7.08h-3.01zM429.35 188.45h1.52v7.08h-1.52zM432.33 188.45h1.52v7.08h-1.52zM436.81 188.45h3.01v7.08h-3.01zM441.28 188.45h1.52v7.08h-1.52zM447.25 188.45h1.52v7.08h-1.52zM459.19 188.45h3.01v7.08h-3.01zM471.12 188.45h1.52v7.08h-1.52z"/>
<path fill="#5218f5" d="M363.7 125h111.93v7.08h-111.93zM253.29 139.1h1.52v7.08h-1.52zM259.26 139.1h1.52v7.08h-1.52zM262.24 139.1h1.52v7.08h-1.52zM265.23 139.1h7.49v7.08h-7.49zM275.67 139.1h3.01v7.08h-3.01zM283.13 139.1h1.52v7.08h-1.52zM287.61 139.1h4.51v7.08h-4.51zM308.5 139.1h1.52v7.08h-1.52zM332.37 139.1h1.52v7.08h-1.52zM338.34 139.1h1.52v7.08h-1.52zM350.27 139.1h1.52v7.08h-1.52zM359.22 139.1h1.52v7.08h-1.52zM363.7 139.1h17.93v7.08h-17.93zM383.1 139.1h8.98v7.08h-8.98zM395.03 139.1h13.46v7.08h-13.46zM409.95 139.1h1.52v7.08h-1.52zM412.94 139.1h3.01v7.08h-3.01zM417.41 139.1h3.01v7.08h-3.01zM423.38 139.1h1.52v7.08h-1.52zM426.36 139.1h6v7.08h-6zM433.82 139.1h3.01v7.08h-3.01zM438.3 139.1h3.01v7.08h-3.01zM442.78 139.1h3.01v7.08h-3.01zM447.25 139.1h11.97v7.08h-11.97zM460.68 139.1h1.52v7.08h-1.52zM463.66 139.1h7.49v7.08h-7.49zM472.62 139.1h3.01v7.08h-3.01zM251.8 146.15h4.51v7.08h-4.51zM257.77 146.15h6v7.08h-6zM266.72 146.15h1.52v7.08h-1.52zM269.7 146.15h3.01v7.08h-3.01zM274.18 146.15h6v7.08h-6zM281.64 146.15h4.51v7.08h-4.51zM287.61 146.15h4.51v7.08h-4.51zM295.07 146.15h1.52v7.08h-1.52zM298.05 146.15h4.51v7.08h-4.51zM304.02 146.15h1.52v7.08h-1.52zM307 146.15h1.52v7.08h-1.52zM311.48 146.15h3.01v7.08h-3.01zM315.96 146.15h1.52v7.08h-1.52zM321.92 146.15h3.01v7.08h-3.01zM329.38 146.15h4.51v7.08h-4.51zM339.83 146.15h1.52v7.08h-1.52zM345.8 146.15h1.52v7.08h-1.52zM350.27 146.15h1.52v7.08h-1.52zM359.22 146.15h3.01v7.08h-3.01zM363.7 146.15h1.52v7.08h-1.52zM366.68 146.15h1.52v7.08h-1.52zM371.16 146.15h3.01v7.08h-3.01zM375.64 146.15h1.52v7.08h-1.52zM378.62 146.15h3.01v7.08h-3.01zM383.1 146.15h1.52v7.08h-1.52zM389.06 146.15h1.52v7.08h-1.52zM392.05 146.15h3.01v7.08h-3.01zM396.52 146.15h1.52v7.08h-1.52zM401 146.15h1.52v7.08h-1.52zM403.98 146.15h4.51v7.08h-4.51zM411.44 146.15h1.52v7.08h-1.52zM414.43 146.15h3.01v7.08h-3.01zM418.9 146.15h3.01v7.08h-3.01zM423.38 146.15h1.52v7.08h-1.52zM426.36 146.15h6v7.08h-6zM436.81 146.15h3.01v7.08h-3.01zM441.28 146.15h3.01v7.08h-3.01zM445.76 146.15h3.01v7.08h-3.01zM450.24 146.15h1.52v7.08h-1.52zM453.22 146.15h3.01v7.08h-3.01zM457.7 146.15h3.01v7.08h-3.01zM462.17 146.15h3.01v7.08h-3.01zM468.14 146.15h1.52v7.08h-1.52zM471.12 146.15h4.51v7.08h-4.51zM251.8 153.2h1.52v7.08h-1.52zM259.26 153.2h1.52v7.08h-1.52zM269.7 153.2h1.52v7.08h-1.52zM274.18 153.2h4.51v7.08h-4.51zM283.13 153.2h8.98v7.08h-8.98zM298.05 153.2h1.52v7.08h-1.52zM304.02 153.2h1.52v7.08h-1.52zM308.5 153.2h1.52v7.08h-1.52zM312.97 153.2h1.52v7.08h-1.52zM315.96 153.2h1.52v7.08h-1.52zM318.94 153.2h1.52v7.08h-1.52zM332.37 153.2h1.52v7.08h-1.52zM336.84 153.2h4.51v7.08h-4.51zM344.3 153.2h3.01v7.08h-3.01zM359.22 153.2h1.52v7.08h-1.52zM363.7 153.2h29.87v7.08h-29.87zM395.03 153.2h1.52v7.08h-1.52zM399.51 153.2h3.01v7.08h-3.01zM406.97 153.2h1.52v7.08h-1.52zM409.95 153.2h3.01v7.08h-3.01zM414.43 153.2h1.52v7.08h-1.52zM417.41 153.2h4.51v7.08h-4.51zM423.38 153.2h1.52v7.08h-1.52zM426.36 153.2h6v7.08h-6zM433.82 153.2h7.49v7.08h-7.49zM442.78 153.2h3.01v7.08h-3.01zM447.25 153.2h7.49v7.08h-7.49zM456.2 153.2h3.01v7.08h-3.01zM460.68 153.2h1.52v7.08h-1.52zM463.66 153.2h1.52v7.08h-1.52zM466.65 153.2h4.51v7.08h-4.51zM474.11 153.2h1.52v7.08h-1.52zM259.26 160.25h1.52v7.08h-1.52zM266.72 160.25h3.01v7.08h-3.01zM275.67 160.25h3.01v7.08h-3.01zM283.13 160.25h3.01v7.08h-3.01zM287.61 160.25h3.01v7.08h-3.01zM293.58 160.25h3.01v7.08h-3.01zM298.05 160.25h1.52v7.08h-1.52zM301.04 160.25h1.52v7.08h-1.52zM304.02 160.25h6v7.08h-6zM315.96 160.25h3.01v7.08h-3.01zM320.43 160.25h1.52v7.08h-1.52zM333.86 160.25h1.52v7.08h-1.52zM336.84 160.25h1.52v7.08h-1.52zM339.83 160.25h1.52v7.08h-1.52zM350.27 160.25h1.52v7.08h-1.52zM359.22 160.25h1.52v7.08h-1.52zM363.7 160.25h11.97v7.08h-11.97zM377.13 160.25h1.52v7.08h-1.52zM380.11 160.25h11.97v7.08h-11.97zM393.54 160.25h6v7.08h-6zM401 160.25h6v7.08h-6zM409.95 160.25h1.52v7.08h-1.52zM412.94 160.25h3.01v7.08h-3.01zM417.41 160.25h6v7.08h-6zM426.36 160.25h6v7.08h-6zM433.82 160.25h3.01v7.08h-3.01zM439.79 160.25h1.52v7.08h-1.52zM442.78 160.25h3.01v7.08h-3.01zM447.25 160.25h7.49v7.08h-7.49zM456.2 160.25h3.01v7.08h-3.01zM460.68 160.25h1.52v7.08h-1.52zM463.66 160.25h7.49v7.08h-7.49zM472.62 160.25h3.01v7.08h-3.01zM253.29 167.3h1.52v7.08h-1.52zM259.26 167.3h1.52v7.08h-1.52zM262.24 167.3h1.52v7.08h-1.52zM265.23 167.3h4.51v7.08h-4.51zM271.2 167.3h1.52v7.08h-1.52zM275.67 167.3h4.51v7.08h-4.51zM284.62 167.3h1.52v7.08h-1.52zM287.61 167.3h3.01v7.08h-3.01zM295.07 167.3h1.52v7.08h-1.52zM308.5 167.3h1.52v7.08h-1.52zM312.97 167.3h1.52v7.08h-1.52zM327.89 167.3h1.52v7.08h-1.52zM332.37 167.3h4.51v7.08h-4.51zM339.83 167.3h1.52v7.08h-1.52zM342.81 167.3h1.52v7.08h-1.52zM363.7 167.3h1.52v7.08h-1.52zM366.68 167.3h8.98v7.08h-8.98zM377.13 167.3h4.51v7.08h-4.51zM383.1 167.3h3.01v7.08h-3.01zM387.57 167.3h6v7.08h-6zM395.03 167.3h4.51v7.08h-4.51zM401 167.3h7.49v7.08h-7.49zM409.95 167.3h1.52v7.08h-1.52zM412.94 167.3h3.01v7.08h-3.01zM417.41 167.3h7.49v7.08h-7.49zM426.36 167.3h4.51v7.08h-4.51zM433.82 167.3h3.01v7.08h-3.01zM438.3 167.3h3.01v7.08h-3.01zM444.27 167.3h4.51v7.08h-4.51zM450.24 167.3h1.52v7.08h-1.52zM453.22 167.3h6v7.08h-6zM460.68 167.3h4.51v7.08h-4.51zM466.65 167.3h4.51v7.08h-4.51zM259.26 174.35h1.52v7.08h-1.52zM266.72 174.35h3.01v7.08h-3.01zM274.18 174.35h4.51v7.08h-4.51zM284.62 174.35h6v7.08h-6zM298.05 174.35h1.52v7.08h-1.52zM301.04 174.35h4.51v7.08h-4.51zM308.5 174.35h1.52v7.08h-1.52zM311.48 174.35h1.52v7.08h-1.52zM317.45 174.35h1.52v7.08h-1.52zM321.92 174.35h1.52v7.08h-1.52zM329.38 174.35h1.52v7.08h-1.52zM341.32 174.35h1.52v7.08h-1.52zM345.8 174.35h1.52v7.08h-1.52zM348.78 174.35h1.52v7.08h-1.52zM356.24 174.35h1.52v7.08h-1.52zM362.21 174.35h3.01v7.08h-3.01zM366.68 174.35h19.43v7.08h-19.43zM387.57 174.35h3.01v7.08h-3.01zM393.54 174.35h4.51v7.08h-4.51zM399.51 174.35h1.52v7.08h-1.52zM402.49 174.35h6v7.08h-6zM409.95 174.35h1.52v7.08h-1.52zM412.94 174.35h11.97v7.08h-11.97zM426.36 174.35h6v7.08h-6zM433.82 174.35h7.49v7.08h-7.49zM442.78 174.35h1.52v7.08h-1.52zM445.76 174.35h1.52v7.08h-1.52zM448.74 174.35h4.51v7.08h-4.51zM456.2 174.35h3.01v7.08h-3.01zM460.68 174.35h3.01v7.08h-3.01zM465.16 174.35h6v7.08h-6zM472.62 174.35h3.01v7.08h-3.01zM257.77 181.4h6v7.08h-6zM266.72 181.4h6v7.08h-6zM275.67 181.4h3.01v7.08h-3.01zM281.64 181.4h4.51v7.08h-4.51zM287.61 181.4h3.01v7.08h-3.01zM295.07 181.4h1.52v7.08h-1.52zM298.05 181.4h3.01v7.08h-3.01zM307 181.4h6v7.08h-6zM314.46 181.4h3.01v7.08h-3.01zM321.92 181.4h3.01v7.08h-3.01zM329.38 181.4h3.01v7.08h-3.01zM333.86 181.4h1.52v7.08h-1.52zM339.83 181.4h1.52v7.08h-1.52zM345.8 181.4h1.52v7.08h-1.52zM350.27 181.4h1.52v7.08h-1.52zM359.22 181.4h3.01v7.08h-3.01zM363.7 181.4h1.52v7.08h-1.52zM372.65 181.4h1.52v7.08h-1.52zM378.62 181.4h3.01v7.08h-3.01zM389.06 181.4h1.52v7.08h-1.52zM392.05 181.4h3.01v7.08h-3.01zM396.52 181.4h6v7.08h-6zM405.48 181.4h3.01v7.08h-3.01zM409.95 181.4h1.52v7.08h-1.52zM414.43 181.4h3.01v7.08h-3.01zM418.9 181.4h3.01v7.08h-3.01zM423.38 181.4h1.52v7.08h-1.52zM426.36 181.4h3.01v7.08h-3.01zM430.84 181.4h3.01v7.08h-3.01zM436.81 181.4h3.01v7.08h-3.01zM445.76 181.4h3.01v7.08h-3.01zM450.24 181.4h1.52v7.08h-1.52zM453.22 181.4h3.01v7.08h-3.01zM457.7 181.4h3.01v7.08h-3.01zM462.17 181.4h3.01v7.08h-3.01zM466.65 181.4h1.52v7.08h-1.52zM471.12 181.4h4.51v7.08h-4.51zM251.8 188.45h1.52v7.08h-1.52zM257.77 188.45h1.52v7.08h-1.52zM266.72 188.45h3.01v7.08h-3.01zM275.67 188.45h3.01v7.08h-3.01zM281.64 188.45h1.52v7.08h-1.52zM284.62 188.45h1.52v7.08h-1.52zM287.61 188.45h3.01v7.08h-3.01zM308.5 188.45h1.52v7.08h-1.52zM314.46 188.45h1.52v7.08h-1.52zM320.43 188.45h1.52v7.08h-1.52zM339.83 188.45h1.52v7.08h-1.52zM350.27 188.45h1.52v7.08h-1.52zM363.7 188.45h6v7.08h-6zM371.16 188.45h4.51v7.08h-4.51zM377.13 188.45h13.46v7.08h-13.46zM395.03 188.45h6v7.08h-6zM402.49 188.45h6v7.08h-6zM409.95 188.45h1.52v7.08h-1.52zM412.94 188.45h3.01v7.08h-3.01zM417.41 188.45h7.49v7.08h-7.49zM427.86 188.45h1.52v7.08h-1.52zM430.84 188.45h1.52v7.08h-1.52zM433.82 188.45h3.01v7.08h-3.01zM439.79 188.45h1.52v7.08h-1.52zM442.78 188.45h4.51v7.08h-4.51zM448.74 188.45h10.47v7.08h-10.47zM462.17 188.45h8.98v7.08h-8.98zM472.62 188.45h3.01v7.08h-3.01z"/>
<path fill="#f8fd14" d="M251.8 132.05h1.52v7.08h-1.52zM254.78 132.05h4.51v7.08h-4.51zM260.75 132.05h1.52v7.08h-1.52zM263.74 132.05h1.52v7.08h-1.52zM272.69 132.05h3.01v7.08h-3.01zM278.66 132.05h4.51v7.08h-4.51zM284.62 132.05h3.01v7.08h-3.01zM292.08 132.05h16.44v7.08h-16.44zM309.99 132.05h22.41v7.08h-22.41zM333.86 132.05h4.51v7.08h-4.51zM339.83 132.05h10.47v7.08h-10.47zM351.76 132.05h7.49v7.08h-7.49zM360.72 132.05h20.92v7.08h-20.92zM383.1 132.05h8.98v7.08h-8.98zM395.03 132.05h13.46v7.08h-13.46zM409.95 132.05h1.52v7.08h-1.52zM412.94 132.05h3.01v7.08h-3.01zM417.41 132.05h3.01v7.08h-3.01zM423.38 132.05h1.52v7.08h-1.52zM426.36 132.05h6v7.08h-6zM433.82 132.05h3.01v7.08h-3.01zM438.3 132.05h3.01v7.08h-3.01zM442.78 132.05h3.01v7.08h-3.01zM447.25 132.05h11.97v7.08h-11.97zM460.68 132.05h1.52v7.08h-1.52zM463.66 132.05h7.49v7.08h-7.49zM472.62 132.05h3.01v7.08h-3.01z"/>
<rect x="251.8" y="125" width="223.8" height="70.5" fill="url(#vgrid)"/>
<path d="M251.8 132.05H475.6M251.8 139.1H475.6M251.8 146.15H475.6M251.8 153.2H475.6M251.8 160.25H475.6M251.8 167.3H475.6M251.8 174.35H475.6M251.8 181.4H475.6M251.8 188.45H475.6" stroke="#fff" stroke-opacity="0.4" stroke-width="0.6"/>
<g font-family="Liberation Sans, Arial, sans-serif" font-size="3.9" fill="#333" text-anchor="end">
<text x="250.4" y="129.93">OrigCls</text>
<text x="250.4" y="136.98">Misclassified</text>
<text x="250.4" y="144.03">GrandMajority</text>
<text x="250.4" y="151.08">lda</text>
<text x="250.4" y="158.12">knn</text>
<text x="250.4" y="165.18">rf</text>
<text x="250.4" y="172.23">SVM</text>
<text x="250.4" y="179.28">nb</text>
<text x="250.4" y="186.33">Multinom</text>
<text x="250.4" y="193.38">JRip</text>
</g>
<path d="M248.5 197.1H475.6" stroke="#e2c4c4" stroke-width="0.45"/>
<text x="364" y="120.8" font-family="Liberation Sans, Arial, sans-serif" font-size="6.4" text-anchor="middle" fill="#111">Classes and misclassifications _ 010</text>
<rect x="477.2" y="124.1" width="54.4" height="71.7" fill="#fff" stroke="#999" stroke-width="0.5"/>
<rect x="477.4" y="133.15" width="11" height="4.7" fill="#d6cfb8" stroke="#b3aa92" stroke-width="0.3"/>
<rect x="477.4" y="140.2" width="11" height="4.7" fill="#d6cfb8" stroke="#b3aa92" stroke-width="0.3"/>
<rect x="477.4" y="147.25" width="22.8" height="4.7" fill="#d6cfb8" stroke="#b3aa92" stroke-width="0.3"/>
<rect x="477.4" y="154.3" width="14.1" height="4.7" fill="#d6cfb8" stroke="#b3aa92" stroke-width="0.3"/>
<rect x="477.4" y="161.35" width="13.8" height="4.7" fill="#d6cfb8" stroke="#b3aa92" stroke-width="0.3"/>
<rect x="477.4" y="168.4" width="13.8" height="4.7" fill="#d6cfb8" stroke="#b3aa92" stroke-width="0.3"/>
<rect x="477.4" y="175.45" width="13.3" height="4.7" fill="#d6cfb8" stroke="#b3aa92" stroke-width="0.3"/>
<rect x="477.4" y="182.5" width="22.8" height="4.7" fill="#d6cfb8" stroke="#b3aa92" stroke-width="0.3"/>
<rect x="477.4" y="189.55" width="11" height="4.7" fill="#d6cfb8" stroke="#b3aa92" stroke-width="0.3"/>
<path d="M477.2 195.8v1.4" stroke="#777" stroke-width="0.35"/>
<text transform="translate(478.5,197.8) rotate(-90)" text-anchor="end" font-family="Liberation Sans, Arial, sans-serif" font-size="3.6" fill="#333">0</text>
<path d="M493.6 195.8v1.4" stroke="#777" stroke-width="0.35"/>
<text transform="translate(494.9,197.8) rotate(-90)" text-anchor="end" font-family="Liberation Sans, Arial, sans-serif" font-size="3.6" fill="#333">50</text>
<path d="M510 195.8v1.4" stroke="#777" stroke-width="0.35"/>
<text transform="translate(511.3,197.8) rotate(-90)" text-anchor="end" font-family="Liberation Sans, Arial, sans-serif" font-size="3.6" fill="#333">100</text>
<path d="M526.4 195.8v1.4" stroke="#777" stroke-width="0.35"/>
<text transform="translate(527.7,197.8) rotate(-90)" text-anchor="end" font-family="Liberation Sans, Arial, sans-serif" font-size="3.6" fill="#333">150</text>
<text x="503.8" y="211" font-family="Liberation Sans, Arial, sans-serif" font-size="5.8" text-anchor="middle" fill="#222">Sum</text>
<rect x="534.2" y="152" width="5.3" height="5.35" fill="#5218f5"/>
<text x="540.8" y="156.2" font-family="Liberation Sans, Arial, sans-serif" font-size="4.5" fill="#333">2</text>
<rect x="534.2" y="157.3" width="5.3" height="5.35" fill="#1cf858"/>
<text x="540.8" y="161.5" font-family="Liberation Sans, Arial, sans-serif" font-size="4.5" fill="#333">1</text>
<rect x="534.2" y="162.6" width="5.3" height="5.35" fill="#f8fd14"/>
<text x="540.8" y="166.8" font-family="Liberation Sans, Arial, sans-serif" font-size="4.5" fill="#333">0</text>
<text x="8.8" y="220.5" font-family="Liberation Sans, Arial, sans-serif" font-weight="bold" font-size="7.4" fill="#111">C</text>
<path d="M23.7 300.4l37 -28.9M32.1 300.4l37 -28.9M40.5 300.4l37 -28.9M48.9 300.4l37 -28.9M57.3 300.4l37 -28.9M21.47 295.58h50.4M27.63 290.77h50.4M33.8 285.95h50.4M39.97 281.13h50.4M46.13 276.32h50.4" stroke="#c9c9c9" stroke-width="0.4" fill="none"/>
<path d="M15.3 251.3h50.4v49.1h-50.4zM52.3 222.4h50.4v49.1h-50.4zM15.3 251.3l37 -28.9M65.7 251.3l37 -28.9M15.3 300.4l37 -28.9M65.7 300.4l37 -28.9M15.3 300.4h-0.9M15.3 300.4v0.9M15.3 292.22h-0.9M23.7 300.4v0.9M15.3 284.03h-0.9M32.1 300.4v0.9M15.3 275.85h-0.9M40.5 300.4v0.9M15.3 267.67h-0.9M48.9 300.4v0.9M15.3 259.48h-0.9M57.3 300.4v0.9M15.3 251.3h-0.9M65.7 300.4v0.9" stroke="#262626" stroke-width="0.5" fill="none"/>
<g font-family="Liberation Sans, Arial, sans-serif" font-size="4.4" fill="#262626" text-anchor="middle">
<text x="15.3" y="305.4">-1.5</text>
<text x="23.7" y="305.4">-1.0</text>
<text x="32.1" y="305.4">-0.5</text>
<text x="40.5" y="305.4">0.0</text>
<text x="48.9" y="305.4">0.5</text>
<text x="57.3" y="305.4">1.0</text>
<text x="65.7" y="305.4">1.5</text>
<text transform="translate(13.4,300.4) rotate(-90)">-1.5</text>
<text transform="translate(13.4,292.22) rotate(-90)">-1.0</text>
<text transform="translate(13.4,284.03) rotate(-90)">-0.5</text>
<text transform="translate(13.4,275.85) rotate(-90)">0.0</text>
<text transform="translate(13.4,267.67) rotate(-90)">0.5</text>
<text transform="translate(13.4,259.48) rotate(-90)">1.0</text>
<text transform="translate(13.4,251.3) rotate(-90)">1.5</text>
<text transform="translate(71.3,301.6) rotate(-72)" font-size="4.1">-1.5</text>
<text transform="translate(77.47,296.78) rotate(-72)" font-size="4.1">-1.0</text>
<text transform="translate(83.63,291.97) rotate(-72)" font-size="4.1">-0.5</text>
<text transform="translate(89.8,287.15) rotate(-72)" font-size="4.1">0.0</text>
<text transform="translate(95.97,282.33) rotate(-72)" font-size="4.1">0.5</text>
<text transform="translate(102.13,277.52) rotate(-72)" font-size="4.1">1.0</text>
<text transform="translate(108.3,272.7) rotate(-72)" font-size="4.1">1.5</text>
</g>
<path d="M38.82 276.62h0M37.13 269.2h0M38.27 252.11h0M38.99 272.84h0M52.08 266.71h0M41.75 256.47h0M48.26 279.04h0M53.75 261h0M43.58 253.43h0M49.21 266.39h0M38.3 276.13h0M51.38 283.32h0M53.97 274.94h0M65.97 256.14h0M67.77 264.19h0M50.37 269.57h0M40.44 254.26h0M70.54 265.81h0M41.2 253.11h0M43.78 255.16h0M48.9 277.94h0M39.37 278.67h0M39 253.86h0M55.29 277.43h0M72.67 256.37h0M44.09 258.42h0M52.57 286.71h0M72.56 274.46h0M37.26 255.05h0M65.32 256.56h0M64.08 264.59h0M43.26 282.35h0M43.11 254.83h0M48.75 278.48h0M66.84 254.62h0M48.46 277.39h0M67.3 261.36h0M65.37 261.7h0M71.05 257.32h0M62.84 255.04h0M68.62 250.03h0M51.95 271.73h0M50.33 276.37h0M68.33 261.01h0M74.06 254.59h0M38.44 278.89h0M67.11 250h0" stroke="#14ff3e" stroke-width="2.6" stroke-linecap="round"/>
<path d="M41.03 279.23h0M44.8 278.6h0M43.14 280.29h0M66.31 261.05h0M69.25 256.27h0M36.49 269.88h0M34.52 262.9h0M49.18 287.11h0M39.08 253.63h0M73.12 252.53h0M47.45 264.87h0M71.56 249.19h0M46.22 265.86h0M76.16 248.72h0M43.11 257.9h0M35.26 270.2h0M67.4 267.87h0M48.37 264.47h0M67.81 270.81h0M63.35 261.94h0M50.99 271.27h0M48.75 282.66h0M69.93 249.15h0M68.04 255.73h0M51.36 276.12h0M69.09 267.97h0M69.46 251.72h0M70.44 254.8h0M71.66 266.88h0M34.68 257.41h0M52.99 280.82h0M51.07 281.45h0M50.45 283.59h0M72.12 257.65h0" stroke="#14ff3e" stroke-width="2.6" stroke-linecap="round"/>
<path d="M54.39 261.83h0M63.45 252.11h0M58.69 278.31h0M62.89 254.34h0M65.63 257.41h0M64.14 253.33h0M78.13 247.65h0M56.13 260.11h0M59.01 259.36h0M69.65 241.21h0M71.23 270.96h0M68.04 262.41h0M71.01 238.2h0M62.9 264.39h0" stroke="#5214ee" stroke-width="2.6" stroke-linecap="round"/>
<path d="M72.28 262.33h0M50.62 284.8h0M66.22 264.59h0M39.87 261.93h0M44.68 277.7h0M41.56 286.27h0M68.66 255.35h0M49.95 262.75h0M45.93 281.65h0M40.18 254.02h0M41.12 280.63h0M70.17 260.95h0M65.51 269.22h0M59.5 272.02h0M71.8 261.67h0M33.78 263.48h0M71.42 249.96h0M36.57 275.1h0M62.69 264.85h0M48.31 271.21h0M71.15 257.52h0M35.42 264.72h0M55.31 273.38h0M46.01 258.17h0M54.18 272.61h0" stroke="#14ff3e" stroke-width="2.6" stroke-linecap="round"/>
<path d="M58.57 281.35h0M75.4 238.67h0M70.6 251.11h0M70.07 263.54h0M72.63 272.76h0M56.37 265.82h0M74.5 240.21h0M60.86 264.91h0M67.56 258.3h0M64.59 240.89h0M61.27 273.94h0M65.47 246.48h0M62.36 272.52h0M70.22 271.95h0M67.43 250.1h0M55.1 262.71h0M56.53 279.78h0M68.59 249.07h0M65.67 256.85h0M55.5 257.7h0M71.95 246.24h0M66.93 256.14h0" stroke="#5214ee" stroke-width="2.6" stroke-linecap="round"/>
<path d="M30.73 260.58h0M54.85 266.11h0M50.65 281.46h0M43.49 255.66h0M50.2 275.59h0M48.26 282.43h0M71.73 266.69h0M35.9 252.32h0M40.89 254.66h0M51.09 261.34h0M34.31 250.17h0M38.84 258.1h0M44.94 255.29h0M70.54 244.95h0M70.11 261.87h0M65 275.16h0M46.73 258.65h0M42.92 280.08h0M47.08 283.44h0M73.15 245.95h0M50.92 268.77h0M34.32 256.56h0M52.11 265.06h0M41.02 254.38h0M37.77 274.09h0M48.14 263.58h0M42.28 282.88h0M50.47 274.51h0M31.47 270.22h0M49.63 275.86h0M49.3 281.66h0" stroke="#14ff3e" stroke-width="2.6" stroke-linecap="round"/>
<path d="M63.49 253.79h0M60.4 261.68h0M63.82 264.83h0M72.46 236.63h0M69.26 255.45h0M57.96 280.44h0M64.74 260h0M69.53 253.83h0M66.16 255.54h0M71.54 245.93h0M61.93 260.39h0M58.55 266.94h0M63.24 273.6h0M67.43 244.31h0M65.36 250.59h0M60.69 259.3h0M66.62 256.55h0" stroke="#5214ee" stroke-width="2.6" stroke-linecap="round"/>
<path d="M35.52 267.64h0M69.97 256.48h0M71.3 251.51h0M71.08 264.58h0M69.59 246.08h0M50.16 283.1h0M62.78 265.71h0M34.49 267.36h0M46.29 257.86h0M51.44 280.21h0M42.05 285.74h0M45.56 282.26h0M49.16 283.88h0M74.14 253.78h0M75.45 244.26h0M36.64 259.26h0M70.1 265.8h0M70.81 259.08h0M70.93 264.64h0M68.75 263.1h0M46.31 252.88h0M36.51 270.47h0M40.56 252.68h0M47.66 285.88h0M35.73 272.27h0M49.55 277.19h0M68.86 259.16h0" stroke="#14ff3e" stroke-width="2.6" stroke-linecap="round"/>
<path d="M71.6 271.4h0M71.03 245.61h0M64.93 247.49h0M60.96 274.78h0M65.5 265.22h0M58.35 278.34h0M59.8 271.91h0M59.29 244.98h0M59.96 280.94h0M60.2 264.52h0M68.98 239.57h0M57.59 257.75h0M54.41 265.5h0M58.93 269.76h0M71.03 239.46h0M57.99 262.42h0M67.16 271.08h0M68.87 248.5h0M61.83 261.77h0M63.82 248.53h0" stroke="#5214ee" stroke-width="2.6" stroke-linecap="round"/>
<path d="M66.6 263.54h0M45.07 280.67h0M68.56 266.09h0M68.29 263.9h0M50.6 273.43h0M47.93 286.09h0M69.69 266.01h0M69.24 269.98h0M69.66 255.21h0M68.45 254.17h0M45.3 283.71h0M70.4 255.65h0M34.22 254.86h0M72.96 265.57h0M38.71 277.98h0M65.28 274.03h0M52.01 275.44h0M73.3 256.62h0M70.12 256.94h0M38.17 253.26h0M65.14 261.92h0M40.04 259.71h0M35.63 269.76h0M66.39 260.33h0M74.39 253.12h0M67.73 270.87h0M67.03 280.96h0M45.14 288.61h0M63.14 273.84h0M39.43 264.66h0M36.28 267.85h0" stroke="#14ff3e" stroke-width="2.6" stroke-linecap="round"/>
<path d="M66.69 262.75h0M55.3 269.82h0M71.44 251.01h0M68.32 244.16h0M58.3 274.81h0M68.44 241.43h0M63.4 243.43h0M60.68 274.46h0M59.67 276.73h0M62.99 251.26h0M63.41 258.07h0M67.17 259.83h0M63.63 268.24h0M71.23 253.31h0M78.03 248.8h0M60.5 281.02h0M63.51 256.96h0" stroke="#5214ee" stroke-width="2.6" stroke-linecap="round"/>
<path d="M49.46 261.15h0M76.34 259.53h0M40.8 252.15h0M71.55 258.13h0M69.96 266.99h0M54.23 276.37h0M68.34 269.35h0M70.43 244.9h0M40.39 276.87h0M71.36 258.31h0M35.35 256.96h0M40.92 259.94h0M50.12 278.07h0M73.33 247.17h0M51.91 265.28h0M43.54 253.48h0M70.6 260.78h0M36.97 272.44h0M72.82 259.07h0M49.69 278.32h0M69.63 269.97h0M64.66 264.51h0M72.72 270.39h0M35.95 257.5h0M70.05 267.44h0M69.96 270.73h0M49.65 270.06h0M37.29 258.9h0M68.9 269.79h0M34.66 251.62h0" stroke="#14ff3e" stroke-width="2.6" stroke-linecap="round"/>
<path d="M58.59 280.72h0M55.46 248.39h0M62.28 261.82h0M63.2 259.71h0M71.39 248.4h0M58.22 257.4h0M74.55 238.3h0M59.62 261.97h0M62.85 257.52h0M62.6 261.48h0M51.92 251.74h0M76.2 241.75h0M59.31 257.87h0M74.74 241.18h0M70.95 236.52h0M69.61 250.45h0M58.95 270.37h0" stroke="#5214ee" stroke-width="2.6" stroke-linecap="round"/>
<path d="M56.47 271.33h0M65.64 266.04h0M48.12 284.8h0M49.34 263.9h0M66.69 266.03h0M76.87 244.67h0M64.53 256.53h0M50.14 265.89h0M73.64 251.28h0M68.56 258.56h0M66.63 252.56h0M63.06 266.55h0M68.89 243.05h0M53.28 284.2h0M67.58 264.01h0M51.69 270.98h0M43.86 256.55h0M68.18 265.5h0M38.45 276.25h0M35.7 267.4h0M63.13 263.72h0M46.38 280.87h0M44.92 250.89h0M47.13 287.35h0M40.45 256.05h0M37.31 258.64h0M67.52 269.24h0M37.88 256.42h0M65.97 261.72h0" stroke="#14ff3e" stroke-width="2.6" stroke-linecap="round"/>
<path d="M81.65 246.98h0M55.7 279.78h0M68.75 240.37h0M63.93 252.42h0M65.9 250.04h0M67.8 259.26h0M65.17 266.48h0M70.6 241.6h0M55.3 273.88h0M60.07 275.81h0M57.94 275.37h0M63.62 267.81h0M71.78 243.87h0M64.83 258.21h0M69.97 246.89h0M66.08 257.94h0M77.13 249.69h0M63.26 280.91h0M60.3 259.99h0" stroke="#5214ee" stroke-width="2.6" stroke-linecap="round"/>
<path d="M49.11 284.62h0M67.98 255.08h0M65.28 259.34h0M33.09 264.43h0M65.39 254.42h0M67.69 279.12h0M69.95 251.26h0M68.1 261.82h0M47.74 261.45h0M70.52 261.36h0M66.23 277.75h0M33.77 251.44h0M51.68 277.67h0M62.06 271.46h0M42.22 250.49h0M66.78 246.8h0M69.33 272.12h0M49.84 273.23h0M72.33 254.68h0M39.48 253.4h0M46.02 259.98h0M65.17 258.27h0M40.8 284.07h0M37.33 260.15h0M37.07 270.73h0M42.58 280.45h0M41.83 253.19h0M38.65 272.3h0M67.56 265.33h0M35.96 269.01h0" stroke="#14ff3e" stroke-width="2.6" stroke-linecap="round"/>
<path d="M60.9 279.15h0M69.92 252.33h0M64.86 262.65h0M56.55 250.44h0M61.26 261.95h0M64.63 268.09h0M64.11 245.28h0M58.55 277.37h0M65.26 245.03h0M59.32 278.23h0M62.77 257.73h0M55.45 276.19h0M65.94 244.51h0M66.64 244.76h0M74.23 243.23h0M52.34 270.25h0M61.05 260.68h0" stroke="#5214ee" stroke-width="2.6" stroke-linecap="round"/>
<path d="M74.93 253.01h0M71.82 264.33h0M47.68 258.15h0M65.84 258.53h0M61.15 263.04h0M50.66 281.35h0M50.97 276.37h0M53.42 276.87h0M35.98 263.36h0M47.85 272.18h0M74 243.4h0M50.13 282.74h0M49.31 259.43h0M71.64 253.63h0M69.42 260.38h0M37.5 267.78h0M34.03 260.74h0M70.74 274.38h0M39.1 255.94h0M49.44 281.44h0M42.09 285.15h0M71.63 257.2h0M52.23 276.06h0M63.96 251.43h0M36.18 260.82h0M49.13 265.91h0M52.42 262.19h0M62.93 267.37h0M70.91 266.21h0M76.91 248.87h0" stroke="#14ff3e" stroke-width="2.6" stroke-linecap="round"/>
<path d="M66.55 240.75h0M64.19 252.13h0M66.41 240.76h0M59.73 276.59h0M73.24 270.01h0M64.02 261.78h0M62.68 281.29h0M61.4 257.57h0M58.35 264.21h0M66.14 237.9h0M64.69 261.56h0M69.43 257.14h0M62.2 257.67h0M61.32 260.51h0M57.11 259.56h0M60.91 252.38h0M63.74 241.63h0M68.13 250.28h0" stroke="#5214ee" stroke-width="2.6" stroke-linecap="round"/>
<path d="M63.62 252.37h0M34.03 273.41h0M44.4 261.6h0M73.06 248.44h0M68.62 248.94h0M35.7 254.85h0M61.17 271.3h0M33.81 259.96h0M62.21 263.96h0M68.02 265.52h0M48.9 281.65h0M36.45 263.69h0M49.08 271.01h0M46.77 260.54h0M40.46 253.44h0M42.19 284.24h0M53.7 274.97h0M69.86 271.34h0M70.24 278.14h0M39.53 251.87h0M45.8 256.99h0M73.69 245.02h0M47.53 259.18h0M37.09 269.71h0M36.99 261.26h0M49.1 265.22h0" stroke="#14ff3e" stroke-width="2.6" stroke-linecap="round"/>
<path d="M61.53 252.27h0M60.12 262.89h0M66.99 260.01h0M65.54 256.32h0M65.46 253.59h0M60.27 276.51h0M65.95 247.83h0M68.42 241.16h0M60.17 279.24h0M73.17 241.75h0M59.89 272.52h0M56.91 252.19h0M72.12 251.68h0M70.87 240.63h0M60.98 265.24h0M63.37 253.72h0M73.98 237.15h0M60.86 258.26h0M73.99 243h0M66.41 258.92h0M67.55 257.28h0" stroke="#5214ee" stroke-width="2.6" stroke-linecap="round"/>
<path d="M59.66 279.09h0M60.59 250.17h0M70.66 273.78h0M57.35 278.49h0M61.94 252.16h0M59.71 273.63h0M66.87 256.11h0M72.21 244.54h0M55.8 264.22h0M71.99 238.6h0M64.23 276.45h0M64.67 258.26h0M65.47 253.16h0M71.01 242.45h0M57.53 274.19h0M70.33 235.82h0M75.03 238.89h0M61.43 267.15h0M60.95 264.26h0M69.82 240.02h0M68.87 268.18h0M53.68 269.38h0M65.85 270.81h0M64.73 264.84h0M66.7 256.14h0M64.64 276.73h0M60.53 268.21h0M69.25 247.53h0M69.1 246.65h0M61.65 259.05h0M69.22 256.27h0M60.7 270.71h0M68 265.97h0M57.31 267.07h0M67.31 266.3h0M66.39 247.44h0M64.35 258.65h0M59.84 269.2h0M59.67 261.01h0M62.4 263.08h0M61.18 274.4h0M60.22 272.22h0M54.06 279.87h0M65.19 260.66h0M61.75 260.7h0M59.74 268.21h0M62.87 242.96h0M56.03 266.19h0" stroke="#5214ee" stroke-width="2.6" stroke-linecap="round"/>
<path d="M131.7 300.4l37 -28.9M140.1 300.4l37 -28.9M148.5 300.4l37 -28.9M156.9 300.4l37 -28.9M165.3 300.4l37 -28.9M129.47 295.58h50.4M135.63 290.77h50.4M141.8 285.95h50.4M147.97 281.13h50.4M154.13 276.32h50.4" stroke="#c9c9c9" stroke-width="0.4" fill="none"/>
<path d="M123.3 251.3h50.4v49.1h-50.4zM160.3 222.4h50.4v49.1h-50.4zM123.3 251.3l37 -28.9M173.7 251.3l37 -28.9M123.3 300.4l37 -28.9M173.7 300.4l37 -28.9M123.3 300.4h-0.9M123.3 300.4v0.9M123.3 292.22h-0.9M131.7 300.4v0.9M123.3 284.03h-0.9M140.1 300.4v0.9M123.3 275.85h-0.9M148.5 300.4v0.9M123.3 267.67h-0.9M156.9 300.4v0.9M123.3 259.48h-0.9M165.3 300.4v0.9M123.3 251.3h-0.9M173.7 300.4v0.9" stroke="#262626" stroke-width="0.5" fill="none"/>
<g font-family="Liberation Sans, Arial, sans-serif" font-size="4.4" fill="#262626" text-anchor="middle">
<text x="123.3" y="305.4">-1.5</text>
<text x="131.7" y="305.4">-1.0</text>
<text x="140.1" y="305.4">-0.5</text>
<text x="148.5" y="305.4">0.0</text>
<text x="156.9" y="305.4">0.5</text>
<text x="165.3" y="305.4">1.0</text>
<text x="173.7" y="305.4">1.5</text>
<text transform="translate(121.4,300.4) rotate(-90)">-1.5</text>
<text transform="translate(121.4,292.22) rotate(-90)">-1.0</text>
<text transform="translate(121.4,284.03) rotate(-90)">-0.5</text>
<text transform="translate(121.4,275.85) rotate(-90)">0.0</text>
<text transform="translate(121.4,267.67) rotate(-90)">0.5</text>
<text transform="translate(121.4,259.48) rotate(-90)">1.0</text>
<text transform="translate(121.4,251.3) rotate(-90)">1.5</text>
<text transform="translate(179.3,301.6) rotate(-72)" font-size="4.1">-1.5</text>
<text transform="translate(185.47,296.78) rotate(-72)" font-size="4.1">-1.0</text>
<text transform="translate(191.63,291.97) rotate(-72)" font-size="4.1">-0.5</text>
<text transform="translate(197.8,287.15) rotate(-72)" font-size="4.1">0.0</text>
<text transform="translate(203.97,282.33) rotate(-72)" font-size="4.1">0.5</text>
<text transform="translate(210.13,277.52) rotate(-72)" font-size="4.1">1.0</text>
<text transform="translate(216.3,272.7) rotate(-72)" font-size="4.1">1.5</text>
</g>
<path d="M142.17 267.28h0M181.43 265.19h0M164.65 272.44h0M162.74 272.37h0M182.53 263.03h0M160.91 258.82h0M143.32 271.09h0M173.85 269.69h0M166.1 258.53h0M158.05 273.05h0M150.88 273.26h0M174.49 257.63h0M175.02 268.6h0M158.84 259.89h0M146.24 272.64h0M143.51 264.92h0M154.27 273.59h0M180.15 259.76h0M158 259.45h0M170.24 258.88h0M142.05 267.43h0M146.8 262.67h0" stroke="#14ff3e" stroke-width="2.4" stroke-linecap="round"/>
<path d="M163.66 270.02h0M164.09 256.47h0M166.76 275.55h0M163.4 269.13h0M181.75 252.6h0M179.25 265.23h0M163.04 256.74h0M162.65 257.01h0M170.27 241.68h0M181.28 249.76h0M172.48 275.29h0M181.2 258.71h0M180.79 244.2h0M177.72 239.21h0M171.94 239.76h0M163.91 253.83h0M176.57 270.15h0M168.92 242.84h0M169.5 242.47h0M180.04 262.13h0M172.55 240.12h0M175.63 238.52h0M162.92 268.11h0M164.92 272.61h0" stroke="#5214ee" stroke-width="2.4" stroke-linecap="round"/>
<path d="M158.21 273.18h0M173.48 269.29h0M152.97 260.62h0M142.43 270.77h0M143.69 265.55h0M149.96 273.33h0M157.67 272.57h0M149.85 272.47h0M175.31 258.84h0M175.09 268.95h0M144.78 273.18h0M181.8 260.97h0M147.51 272.59h0M168.72 257.68h0M180.8 260.98h0M178.33 266.94h0M159.88 272.76h0M181.74 260.68h0M178.72 260.44h0M180.17 259.82h0M172.11 270.67h0M148.14 273.1h0M178.04 267.61h0M181.44 261.79h0M182.63 261.87h0M180.92 266.15h0" stroke="#14ff3e" stroke-width="2.4" stroke-linecap="round"/>
<path d="M175.08 238.83h0M165.28 248.42h0M177.66 239.49h0M169.88 241.71h0M163.28 255.07h0M177.57 268.71h0M181.19 257.03h0M178.61 267.9h0M167.22 244.99h0M182.08 247.15h0M166.67 275.7h0M173.85 273.74h0M171.24 275.8h0M167.52 276.57h0M168.39 243.62h0M163.22 267.72h0M173.28 273.94h0M165.55 248.4h0M182.12 254.25h0M162.68 256.91h0" stroke="#5214ee" stroke-width="2.4" stroke-linecap="round"/>
<path d="M176.28 269.04h0M149.25 262h0M181.48 265.09h0M153.67 260.54h0M179.39 267.36h0M150.73 272.85h0M160.29 272.29h0M144.27 265.21h0M181.79 260.67h0M153.63 259.88h0M145.93 272.84h0M181.82 264.13h0M181.22 264.25h0M182.06 262.44h0M161.66 273.9h0M141.8 269.81h0M175 269.17h0M180.35 259.47h0M162.29 272.77h0M159.09 259.04h0M142.31 270.31h0M146.3 263.54h0M141.9 269.09h0M177 268.03h0" stroke="#14ff3e" stroke-width="2.4" stroke-linecap="round"/>
<path d="M164.09 251.34h0M181.35 246.61h0M175.16 238.43h0M168 275.59h0M162.25 261.94h0M180.54 241.94h0M180.71 242.65h0M165.93 247.04h0M176.84 269.22h0M164.88 273.98h0M181.63 257.3h0M179.03 267.33h0M181.65 251.4h0M170.51 275.9h0M181.07 245.62h0M175.55 271.75h0M162.58 260.27h0M163.5 272.59h0M181.06 259.24h0M164.48 272.47h0M174.92 272.82h0M162.99 256.54h0" stroke="#5214ee" stroke-width="2.4" stroke-linecap="round"/>
<path d="M145.83 272.74h0M143.71 270.75h0M149.45 272.83h0M141.8 269.41h0M169.26 271.23h0M168.51 257.93h0M180.71 260.87h0M157.42 259.6h0M169.99 258.36h0M141.91 269h0M165.41 258.77h0M146.58 262.58h0M170.53 271.19h0M174.99 258.5h0M149.79 273.23h0M182.12 264.7h0M181.39 260.51h0M181.46 261.39h0M141.69 269.2h0M182.19 261.58h0M155.69 272.97h0M177.92 267.5h0M181.95 263.16h0" stroke="#14ff3e" stroke-width="2.4" stroke-linecap="round"/>
<path d="M182.1 245.74h0M163.15 266.55h0M175.68 238.97h0M170.43 241.07h0M168.47 276.09h0M163.14 263.78h0M164.82 251.01h0M165.25 248.83h0M174.56 239.08h0M178.68 266.5h0M174.7 239.38h0M165.45 248.71h0M169.41 276.23h0M162.59 258.88h0M165.24 249.44h0M163.4 254.46h0M164.66 274.82h0M180.16 263.11h0M173.48 274.21h0M165.13 250.43h0M162.34 266.57h0M168.95 275.82h0M180.75 242.49h0M170.59 241.24h0" stroke="#5214ee" stroke-width="2.4" stroke-linecap="round"/>
<text transform="translate(108.6,274) rotate(-90)" font-family="Liberation Sans, Arial, sans-serif" font-size="4.4" fill="#444" text-anchor="middle">x<tspan font-size="3" dy="1">3</tspan></text>
<path fill="#1cf858" d="M251.8 224h111.93v7.08h-111.93zM260.75 231.05h1.52v7.08h-1.52zM345.8 231.05h1.52v7.08h-1.52zM350.27 231.05h1.52v7.08h-1.52zM359.22 231.05h1.52v7.08h-1.52zM251.8 238.1h8.98v7.08h-8.98zM262.24 238.1h83.58v7.08h-83.58zM347.29 238.1h3.01v7.08h-3.01zM351.76 238.1h7.49v7.08h-7.49zM360.72 238.1h3.01v7.08h-3.01zM254.78 245.15h3.01v7.08h-3.01zM262.24 245.15h3.01v7.08h-3.01zM266.72 245.15h1.52v7.08h-1.52zM269.7 245.15h1.52v7.08h-1.52zM272.69 245.15h1.52v7.08h-1.52zM275.67 245.15h1.52v7.08h-1.52zM278.66 245.15h3.01v7.08h-3.01zM283.13 245.15h1.52v7.08h-1.52zM286.12 245.15h1.52v7.08h-1.52zM289.1 245.15h1.52v7.08h-1.52zM292.08 245.15h3.01v7.08h-3.01zM296.56 245.15h1.52v7.08h-1.52zM299.54 245.15h3.01v7.08h-3.01zM304.02 245.15h3.01v7.08h-3.01zM308.5 245.15h1.52v7.08h-1.52zM315.96 245.15h3.01v7.08h-3.01zM320.43 245.15h1.52v7.08h-1.52zM324.91 245.15h6v7.08h-6zM332.37 245.15h1.52v7.08h-1.52zM335.35 245.15h4.51v7.08h-4.51zM341.32 245.15h1.52v7.08h-1.52zM347.29 245.15h3.01v7.08h-3.01zM351.76 245.15h4.51v7.08h-4.51zM359.22 245.15h1.52v7.08h-1.52zM362.21 245.15h1.52v7.08h-1.52zM368.18 245.15h3.01v7.08h-3.01zM372.65 245.15h3.01v7.08h-3.01zM377.13 245.15h1.52v7.08h-1.52zM386.08 245.15h3.01v7.08h-3.01zM390.56 245.15h1.52v7.08h-1.52zM393.54 245.15h1.52v7.08h-1.52zM398.02 245.15h1.52v7.08h-1.52zM402.49 245.15h3.01v7.08h-3.01zM408.46 245.15h1.52v7.08h-1.52zM412.94 245.15h1.52v7.08h-1.52zM417.41 245.15h1.52v7.08h-1.52zM421.89 245.15h1.52v7.08h-1.52zM435.32 245.15h1.52v7.08h-1.52zM442.78 245.15h3.01v7.08h-3.01zM447.25 245.15h3.01v7.08h-3.01zM451.73 245.15h6v7.08h-6zM462.17 245.15h6v7.08h-6zM471.12 245.15h1.52v7.08h-1.52zM251.8 252.2h92.53v7.08h-92.53zM345.8 252.2h4.51v7.08h-4.51zM351.76 252.2h6v7.08h-6zM359.22 252.2h4.51v7.08h-4.51zM251.8 259.25h92.53v7.08h-92.53zM345.8 259.25h4.51v7.08h-4.51zM351.76 259.25h6v7.08h-6zM359.22 259.25h4.51v7.08h-4.51zM415.92 259.25h1.52v7.08h-1.52zM251.8 266.3h8.98v7.08h-8.98zM262.24 266.3h56.73v7.08h-56.73zM320.43 266.3h13.46v7.08h-13.46zM335.35 266.3h8.98v7.08h-8.98zM345.8 266.3h4.51v7.08h-4.51zM351.76 266.3h6v7.08h-6zM359.22 266.3h4.51v7.08h-4.51zM251.8 273.35h8.98v7.08h-8.98zM262.24 273.35h82.09v7.08h-82.09zM345.8 273.35h4.51v7.08h-4.51zM351.76 273.35h6v7.08h-6zM359.22 273.35h4.51v7.08h-4.51zM254.78 280.4h3.01v7.08h-3.01zM262.24 280.4h3.01v7.08h-3.01zM266.72 280.4h1.52v7.08h-1.52zM269.7 280.4h1.52v7.08h-1.52zM272.69 280.4h1.52v7.08h-1.52zM275.67 280.4h1.52v7.08h-1.52zM278.66 280.4h3.01v7.08h-3.01zM283.13 280.4h1.52v7.08h-1.52zM286.12 280.4h1.52v7.08h-1.52zM289.1 280.4h1.52v7.08h-1.52zM292.08 280.4h3.01v7.08h-3.01zM296.56 280.4h1.52v7.08h-1.52zM299.54 280.4h3.01v7.08h-3.01zM304.02 280.4h3.01v7.08h-3.01zM308.5 280.4h1.52v7.08h-1.52zM315.96 280.4h3.01v7.08h-3.01zM320.43 280.4h1.52v7.08h-1.52zM324.91 280.4h6v7.08h-6zM332.37 280.4h1.52v7.08h-1.52zM335.35 280.4h4.51v7.08h-4.51zM341.32 280.4h1.52v7.08h-1.52zM347.29 280.4h3.01v7.08h-3.01zM351.76 280.4h4.51v7.08h-4.51zM359.22 280.4h1.52v7.08h-1.52zM362.21 280.4h1.52v7.08h-1.52zM368.18 280.4h3.01v7.08h-3.01zM372.65 280.4h3.01v7.08h-3.01zM377.13 280.4h1.52v7.08h-1.52zM386.08 280.4h3.01v7.08h-3.01zM390.56 280.4h1.52v7.08h-1.52zM393.54 280.4h1.52v7.08h-1.52zM398.02 280.4h1.52v7.08h-1.52zM402.49 280.4h3.01v7.08h-3.01zM408.46 280.4h1.52v7.08h-1.52zM412.94 280.4h1.52v7.08h-1.52zM417.41 280.4h1.52v7.08h-1.52zM421.89 280.4h1.52v7.08h-1.52zM435.32 280.4h1.52v7.08h-1.52zM442.78 280.4h3.01v7.08h-3.01zM447.25 280.4h3.01v7.08h-3.01zM451.73 280.4h6v7.08h-6zM462.17 280.4h6v7.08h-6zM471.12 280.4h1.52v7.08h-1.52zM251.8 287.45h92.53v7.08h-92.53zM345.8 287.45h4.51v7.08h-4.51zM351.76 287.45h6v7.08h-6zM359.22 287.45h4.51v7.08h-4.51zM409.95 287.45h1.52v7.08h-1.52zM415.92 287.45h1.52v7.08h-1.52z"/>
<path fill="#5218f5" d="M363.7 224h111.93v7.08h-111.93zM260.75 238.1h1.52v7.08h-1.52zM345.8 238.1h1.52v7.08h-1.52zM350.27 238.1h1.52v7.08h-1.52zM359.22 238.1h1.52v7.08h-1.52zM363.7 238.1h111.93v7.08h-111.93zM251.8 245.15h3.01v7.08h-3.01zM257.77 245.15h4.51v7.08h-4.51zM265.23 245.15h1.52v7.08h-1.52zM268.21 245.15h1.52v7.08h-1.52zM271.2 245.15h1.52v7.08h-1.52zM274.18 245.15h1.52v7.08h-1.52zM277.16 245.15h1.52v7.08h-1.52zM281.64 245.15h1.52v7.08h-1.52zM284.62 245.15h1.52v7.08h-1.52zM287.61 245.15h1.52v7.08h-1.52zM290.59 245.15h1.52v7.08h-1.52zM295.07 245.15h1.52v7.08h-1.52zM298.05 245.15h1.52v7.08h-1.52zM302.53 245.15h1.52v7.08h-1.52zM307 245.15h1.52v7.08h-1.52zM309.99 245.15h6v7.08h-6zM318.94 245.15h1.52v7.08h-1.52zM321.92 245.15h3.01v7.08h-3.01zM330.88 245.15h1.52v7.08h-1.52zM333.86 245.15h1.52v7.08h-1.52zM339.83 245.15h1.52v7.08h-1.52zM342.81 245.15h4.51v7.08h-4.51zM350.27 245.15h1.52v7.08h-1.52zM356.24 245.15h3.01v7.08h-3.01zM360.72 245.15h1.52v7.08h-1.52zM363.7 245.15h4.51v7.08h-4.51zM371.16 245.15h1.52v7.08h-1.52zM375.64 245.15h1.52v7.08h-1.52zM378.62 245.15h7.49v7.08h-7.49zM389.06 245.15h1.52v7.08h-1.52zM392.05 245.15h1.52v7.08h-1.52zM395.03 245.15h3.01v7.08h-3.01zM399.51 245.15h3.01v7.08h-3.01zM405.48 245.15h3.01v7.08h-3.01zM409.95 245.15h3.01v7.08h-3.01zM414.43 245.15h3.01v7.08h-3.01zM418.9 245.15h3.01v7.08h-3.01zM423.38 245.15h11.97v7.08h-11.97zM436.81 245.15h6v7.08h-6zM445.76 245.15h1.52v7.08h-1.52zM450.24 245.15h1.52v7.08h-1.52zM457.7 245.15h4.51v7.08h-4.51zM468.14 245.15h3.01v7.08h-3.01zM472.62 245.15h3.01v7.08h-3.01zM344.3 252.2h1.52v7.08h-1.52zM350.27 252.2h1.52v7.08h-1.52zM357.73 252.2h1.52v7.08h-1.52zM363.7 252.2h111.93v7.08h-111.93zM344.3 259.25h1.52v7.08h-1.52zM350.27 259.25h1.52v7.08h-1.52zM357.73 259.25h1.52v7.08h-1.52zM363.7 259.25h52.25v7.08h-52.25zM417.41 259.25h58.22v7.08h-58.22zM260.75 266.3h1.52v7.08h-1.52zM318.94 266.3h1.52v7.08h-1.52zM333.86 266.3h1.52v7.08h-1.52zM344.3 266.3h1.52v7.08h-1.52zM350.27 266.3h1.52v7.08h-1.52zM357.73 266.3h1.52v7.08h-1.52zM363.7 266.3h111.93v7.08h-111.93zM260.75 273.35h1.52v7.08h-1.52zM344.3 273.35h1.52v7.08h-1.52zM350.27 273.35h1.52v7.08h-1.52zM357.73 273.35h1.52v7.08h-1.52zM363.7 273.35h111.93v7.08h-111.93zM251.8 280.4h3.01v7.08h-3.01zM257.77 280.4h4.51v7.08h-4.51zM265.23 280.4h1.52v7.08h-1.52zM268.21 280.4h1.52v7.08h-1.52zM271.2 280.4h1.52v7.08h-1.52zM274.18 280.4h1.52v7.08h-1.52zM277.16 280.4h1.52v7.08h-1.52zM281.64 280.4h1.52v7.08h-1.52zM284.62 280.4h1.52v7.08h-1.52zM287.61 280.4h1.52v7.08h-1.52zM290.59 280.4h1.52v7.08h-1.52zM295.07 280.4h1.52v7.08h-1.52zM298.05 280.4h1.52v7.08h-1.52zM302.53 280.4h1.52v7.08h-1.52zM307 280.4h1.52v7.08h-1.52zM309.99 280.4h6v7.08h-6zM318.94 280.4h1.52v7.08h-1.52zM321.92 280.4h3.01v7.08h-3.01zM330.88 280.4h1.52v7.08h-1.52zM333.86 280.4h1.52v7.08h-1.52zM339.83 280.4h1.52v7.08h-1.52zM342.81 280.4h4.51v7.08h-4.51zM350.27 280.4h1.52v7.08h-1.52zM356.24 280.4h3.01v7.08h-3.01zM360.72 280.4h1.52v7.08h-1.52zM363.7 280.4h4.51v7.08h-4.51zM371.16 280.4h1.52v7.08h-1.52zM375.64 280.4h1.52v7.08h-1.52zM378.62 280.4h7.49v7.08h-7.49zM389.06 280.4h1.52v7.08h-1.52zM392.05 280.4h1.52v7.08h-1.52zM395.03 280.4h3.01v7.08h-3.01zM399.51 280.4h3.01v7.08h-3.01zM405.48 280.4h3.01v7.08h-3.01zM409.95 280.4h3.01v7.08h-3.01zM414.43 280.4h3.01v7.08h-3.01zM418.9 280.4h3.01v7.08h-3.01zM423.38 280.4h11.97v7.08h-11.97zM436.81 280.4h6v7.08h-6zM445.76 280.4h1.52v7.08h-1.52zM450.24 280.4h1.52v7.08h-1.52zM457.7 280.4h4.51v7.08h-4.51zM468.14 280.4h3.01v7.08h-3.01zM472.62 280.4h3.01v7.08h-3.01zM344.3 287.45h1.52v7.08h-1.52zM350.27 287.45h1.52v7.08h-1.52zM357.73 287.45h1.52v7.08h-1.52zM363.7 287.45h46.28v7.08h-46.28zM411.44 287.45h4.51v7.08h-4.51zM417.41 287.45h58.22v7.08h-58.22z"/>
<path fill="#f8fd14" d="M251.8 231.05h8.98v7.08h-8.98zM262.24 231.05h83.58v7.08h-83.58zM347.29 231.05h3.01v7.08h-3.01zM351.76 231.05h7.49v7.08h-7.49zM360.72 231.05h114.91v7.08h-114.91z"/>
<rect x="251.8" y="224" width="223.8" height="70.5" fill="url(#vgrid)"/>
<path d="M251.8 231.05H475.6M251.8 238.1H475.6M251.8 245.15H475.6M251.8 252.2H475.6M251.8 259.25H475.6M251.8 266.3H475.6M251.8 273.35H475.6M251.8 280.4H475.6M251.8 287.45H475.6" stroke="#fff" stroke-opacity="0.4" stroke-width="0.6"/>
<g font-family="Liberation Sans, Arial, sans-serif" font-size="3.9" fill="#333" text-anchor="end">
<text x="250.4" y="228.93">OrigCls</text>
<text x="250.4" y="235.98">Misclassified</text>
<text x="250.4" y="243.03">GrandMajority</text>
<text x="250.4" y="250.08">lda</text>
<text x="250.4" y="257.12">knn</text>
<text x="250.4" y="264.17">rf</text>
<text x="250.4" y="271.22">SVM</text>
<text x="250.4" y="278.27">nb</text>
<text x="250.4" y="285.32">Multinom</text>
<text x="250.4" y="292.37">JRip</text>
</g>
<path d="M248.5 296.1H475.6" stroke="#e2c4c4" stroke-width="0.45"/>
<text x="364" y="219.8" font-family="Liberation Sans, Arial, sans-serif" font-size="6.4" text-anchor="middle" fill="#111">Classes and misclassifications _ 110</text>
<rect x="477.2" y="223.1" width="54.4" height="71.7" fill="#fff" stroke="#999" stroke-width="0.5"/>
<rect x="477.4" y="232.15" width="1.8" height="4.7" fill="#d6cfb8" stroke="#b3aa92" stroke-width="0.3"/>
<rect x="477.4" y="239.2" width="1.3" height="4.7" fill="#d6cfb8" stroke="#b3aa92" stroke-width="0.3"/>
<rect x="477.4" y="246.25" width="21.4" height="4.7" fill="#d6cfb8" stroke="#b3aa92" stroke-width="0.3"/>
<rect x="477.4" y="253.3" width="0.8" height="4.7" fill="#d6cfb8" stroke="#b3aa92" stroke-width="0.3"/>
<rect x="477.4" y="260.35" width="0.8" height="4.7" fill="#d6cfb8" stroke="#b3aa92" stroke-width="0.3"/>
<rect x="477.4" y="267.4" width="1.3" height="4.7" fill="#d6cfb8" stroke="#b3aa92" stroke-width="0.3"/>
<rect x="477.4" y="274.45" width="0.8" height="4.7" fill="#d6cfb8" stroke="#b3aa92" stroke-width="0.3"/>
<rect x="477.4" y="281.5" width="21.4" height="4.7" fill="#d6cfb8" stroke="#b3aa92" stroke-width="0.3"/>
<rect x="477.4" y="288.55" width="0.8" height="4.7" fill="#d6cfb8" stroke="#b3aa92" stroke-width="0.3"/>
<path d="M477.2 294.8v1.4" stroke="#777" stroke-width="0.35"/>
<text transform="translate(478.5,296.8) rotate(-90)" text-anchor="end" font-family="Liberation Sans, Arial, sans-serif" font-size="3.6" fill="#333">0</text>
<path d="M493.6 294.8v1.4" stroke="#777" stroke-width="0.35"/>
<text transform="translate(494.9,296.8) rotate(-90)" text-anchor="end" font-family="Liberation Sans, Arial, sans-serif" font-size="3.6" fill="#333">50</text>
<path d="M510 294.8v1.4" stroke="#777" stroke-width="0.35"/>
<text transform="translate(511.3,296.8) rotate(-90)" text-anchor="end" font-family="Liberation Sans, Arial, sans-serif" font-size="3.6" fill="#333">100</text>
<path d="M526.4 294.8v1.4" stroke="#777" stroke-width="0.35"/>
<text transform="translate(527.7,296.8) rotate(-90)" text-anchor="end" font-family="Liberation Sans, Arial, sans-serif" font-size="3.6" fill="#333">150</text>
<text x="503.8" y="310" font-family="Liberation Sans, Arial, sans-serif" font-size="5.8" text-anchor="middle" fill="#222">Sum</text>
<rect x="534.2" y="251" width="5.3" height="5.35" fill="#5218f5"/>
<text x="540.8" y="255.2" font-family="Liberation Sans, Arial, sans-serif" font-size="4.5" fill="#333">2</text>
<rect x="534.2" y="256.3" width="5.3" height="5.35" fill="#1cf858"/>
<text x="540.8" y="260.5" font-family="Liberation Sans, Arial, sans-serif" font-size="4.5" fill="#333">1</text>
<rect x="534.2" y="261.6" width="5.3" height="5.35" fill="#f8fd14"/>
<text x="540.8" y="265.8" font-family="Liberation Sans, Arial, sans-serif" font-size="4.5" fill="#333">0</text>
<text x="8.8" y="319.5" font-family="Liberation Sans, Arial, sans-serif" font-weight="bold" font-size="7.4" fill="#111">D</text>
<path d="M23.7 399.4l37 -28.9M32.1 399.4l37 -28.9M40.5 399.4l37 -28.9M48.9 399.4l37 -28.9M57.3 399.4l37 -28.9M21.47 394.58h50.4M27.63 389.77h50.4M33.8 384.95h50.4M39.97 380.13h50.4M46.13 375.32h50.4" stroke="#c9c9c9" stroke-width="0.4" fill="none"/>
<path d="M15.3 350.3h50.4v49.1h-50.4zM52.3 321.4h50.4v49.1h-50.4zM15.3 350.3l37 -28.9M65.7 350.3l37 -28.9M15.3 399.4l37 -28.9M65.7 399.4l37 -28.9M15.3 399.4h-0.9M15.3 399.4v0.9M15.3 391.22h-0.9M23.7 399.4v0.9M15.3 383.03h-0.9M32.1 399.4v0.9M15.3 374.85h-0.9M40.5 399.4v0.9M15.3 366.67h-0.9M48.9 399.4v0.9M15.3 358.48h-0.9M57.3 399.4v0.9M15.3 350.3h-0.9M65.7 399.4v0.9" stroke="#262626" stroke-width="0.5" fill="none"/>
<g font-family="Liberation Sans, Arial, sans-serif" font-size="4.4" fill="#262626" text-anchor="middle">
<text x="15.3" y="404.4">-1.5</text>
<text x="23.7" y="404.4">-1.0</text>
<text x="32.1" y="404.4">-0.5</text>
<text x="40.5" y="404.4">0.0</text>
<text x="48.9" y="404.4">0.5</text>
<text x="57.3" y="404.4">1.0</text>
<text x="65.7" y="404.4">1.5</text>
<text transform="translate(13.4,399.4) rotate(-90)">-1.5</text>
<text transform="translate(13.4,391.22) rotate(-90)">-1.0</text>
<text transform="translate(13.4,383.03) rotate(-90)">-0.5</text>
<text transform="translate(13.4,374.85) rotate(-90)">0.0</text>
<text transform="translate(13.4,366.67) rotate(-90)">0.5</text>
<text transform="translate(13.4,358.48) rotate(-90)">1.0</text>
<text transform="translate(13.4,350.3) rotate(-90)">1.5</text>
<text transform="translate(71.3,400.6) rotate(-72)" font-size="4.1">-1.5</text>
<text transform="translate(77.47,395.78) rotate(-72)" font-size="4.1">-1.0</text>
<text transform="translate(83.63,390.97) rotate(-72)" font-size="4.1">-0.5</text>
<text transform="translate(89.8,386.15) rotate(-72)" font-size="4.1">0.0</text>
<text transform="translate(95.97,381.33) rotate(-72)" font-size="4.1">0.5</text>
<text transform="translate(102.13,376.52) rotate(-72)" font-size="4.1">1.0</text>
<text transform="translate(108.3,371.7) rotate(-72)" font-size="4.1">1.5</text>
</g>
<path d="M66.75 349.7h0M50.99 353.49h0M47.9 365.52h0M60.59 361.26h0M66.49 371.56h0M49.57 367.98h0M58.19 370.47h0M65.37 373.48h0M65.86 350.93h0M57.34 356.38h0M39.64 364.75h0M56.66 360.61h0M64.81 349.51h0M42.76 368.72h0M68.03 361.28h0M64.07 344.3h0M66.42 368.04h0M51.3 364.63h0M57.44 365.3h0M44.88 344.4h0M57.71 364.77h0M62.7 370.53h0M58 348.97h0M52.88 372.69h0M76.81 346.23h0M48.33 383.61h0M52.36 374.83h0M57.13 352.23h0M63.12 362.57h0M51.58 369.48h0M63.98 365.59h0M73.09 345.87h0M55.01 358.35h0M56.8 364.79h0M56.65 371.05h0M61.73 355.09h0M66.1 348.37h0M60.68 340.74h0M67.23 352.23h0M63.41 350.03h0M66.78 361.52h0M63.04 366.14h0M43.19 363.12h0M53.59 379.51h0M52.16 360.71h0M65.23 364.4h0M64.46 369.36h0M56.43 374.31h0M60.61 373.96h0M72.2 361.99h0M54.66 361.49h0M55.63 360.52h0" stroke="#5214ee" stroke-width="2.6" stroke-linecap="round"/>
<path d="M52.43 364.24h0M67.95 343.42h0M53.36 354.71h0M41.68 350.39h0M54.62 349.6h0M57.18 338.97h0M72.52 375.43h0M59.43 373.02h0M44.35 348.6h0M59.28 356.82h0M73.85 354.96h0M58.34 379.12h0M68.76 366.59h0M59.78 362.58h0M56.83 350.95h0M48.44 346.14h0M52.26 363.11h0M50.72 369.17h0M53.49 381.52h0M51.15 376.75h0M41.41 382.66h0M47.6 346.08h0M55.03 358h0M58.01 348.58h0M64.94 368.27h0M50.68 352.4h0M59.14 357.74h0M76.59 355.5h0M57.94 351.54h0M61.14 360.99h0M52.51 384.1h0M59.41 376.63h0M58.22 352.56h0M71.15 378.15h0M51.17 339.91h0M63.43 361.64h0M52.16 368.51h0M47.6 356.18h0M73.68 350.04h0M60.84 345.04h0M73.03 364.35h0M58.93 359.7h0M47.03 374.95h0M66.71 362.74h0M52.37 342.79h0M40.42 353.93h0M49 375.08h0M56.18 348.71h0M67.07 361.28h0M48.6 383.54h0M57.68 343.85h0M49.02 362.6h0M50.64 374.6h0" stroke="#5214ee" stroke-width="2.6" stroke-linecap="round"/>
<path d="M38.89 365.67h0M77.27 356.31h0M83.29 347.98h0M51.76 365.33h0M62.35 352.88h0M36.02 370.66h0M32.85 369.15h0M87.76 348.79h0M89.69 350.11h0M38.45 368.74h0M67.27 362.53h0M66.48 354.99h0M79.77 355.66h0M57.9 360.9h0M86.93 348.44h0" stroke="#14ff3e" stroke-width="2.6" stroke-linecap="round"/>
<path d="M59.82 343.88h0M40.49 345.78h0M41.61 381.28h0M62.71 371.77h0M65.4 365.51h0M39.14 359.89h0M66.78 357.09h0M65.78 365.65h0M57.62 359.58h0M60.73 370.23h0M68.29 371.72h0M67.55 371.34h0M49.57 360.85h0M74.15 365.85h0M68.98 367.31h0M50.44 359.58h0M42.22 357.52h0M62.46 383.08h0M47.89 375.26h0M65.89 364.03h0M77.8 354.48h0M66.3 368.66h0M59.34 374.49h0M75.46 364.71h0M50.78 376.76h0M67.15 347.24h0M59.83 353.89h0M43.76 355.2h0M44.12 379.97h0M63.35 358.4h0M64.03 382.15h0M65.58 383.06h0M38.48 356.29h0M46.07 367.74h0M54.04 362.07h0M50.52 357.22h0M45.74 363.03h0" stroke="#5214ee" stroke-width="2.6" stroke-linecap="round"/>
<path d="M82.8 352.17h0M84.14 347.14h0M56.16 366.83h0M60.34 359.98h0M88.96 348.45h0M81.42 353.23h0M55.14 366.82h0M31.87 371.85h0M49.25 359.93h0M35.21 370.73h0M85.57 350.54h0M87.67 352.27h0M59.55 352.59h0M42.42 362.96h0M45.64 359.93h0M85.5 352.42h0M49.73 366.66h0M48.67 369.64h0M69.48 360.61h0" stroke="#14ff3e" stroke-width="2.6" stroke-linecap="round"/>
<path d="M50.38 352.21h0M52.98 375.25h0M52.13 361.9h0M55.28 357.11h0M54.46 351h0M68.41 364.33h0M51.12 366.66h0M62.69 363.57h0M60.62 355.34h0M71.73 371.24h0M53.05 361.07h0M61.16 358.2h0M47.77 353.26h0M56.89 382.16h0M39.87 366.07h0M54.96 349.23h0M57.38 356.95h0M72.47 359.27h0M58.81 351.11h0M66.95 357.57h0M73.54 364.16h0M51.92 369.32h0M61.67 351.84h0M45.71 358.34h0M64.44 371.97h0M66.38 382.77h0M60.45 375.82h0M57.83 372.2h0M51.46 367.54h0M57 368.76h0M67.02 370.24h0M58.7 351.8h0M53.6 344.8h0M76.74 368.39h0" stroke="#5214ee" stroke-width="2.6" stroke-linecap="round"/>
<path d="M71.51 359.22h0M48.93 360.21h0M64.34 370.94h0M49.94 355.55h0M75.67 350.26h0M58.35 360.26h0M89.72 351.8h0M36.08 373.25h0M66.86 354.31h0M62.81 356.17h0M47.96 360.98h0M72.3 354.8h0M82.61 351.01h0M84.2 357.28h0M66.02 359.42h0M54.58 373.17h0M64.76 357.96h0" stroke="#14ff3e" stroke-width="2.6" stroke-linecap="round"/>
<path d="M50.59 364.36h0M38.63 362.53h0M47.91 368.52h0M74.96 365.64h0M45.11 355.83h0M55.5 354.48h0M61.69 355.44h0M65.62 352.13h0M61.28 375.87h0M44.57 380.02h0M44.74 362.2h0M52.47 346.98h0M45.49 351.9h0M69.15 375.02h0M74.24 366.78h0M66.54 366.07h0M52.56 346.55h0M50.29 364.91h0M41.99 357.77h0M67.73 362.17h0M50.35 363.93h0M62.39 344.14h0M70.93 357.88h0M55.57 358.43h0M60.11 371.88h0M48.79 350.29h0M49.83 361.97h0M71.84 358.25h0M52.14 374.09h0M63.54 358.92h0M58.83 357.55h0M63.95 346.79h0M49.35 371.71h0M62.19 369.26h0M56.61 360.82h0" stroke="#5214ee" stroke-width="2.6" stroke-linecap="round"/>
<path d="M42.39 362.2h0M84.98 347.51h0M79.15 353.97h0M74.95 353.78h0M57.2 355.97h0M53.32 353.38h0M55.24 363.61h0M49.81 352.48h0M73.15 353.35h0M83.28 349.71h0M58.23 360h0M56.23 356.91h0M85.56 353.68h0M67.42 361.48h0M67.84 350.48h0M48.53 362.36h0M32.06 371.19h0M72.3 353.24h0M77.93 352.85h0" stroke="#14ff3e" stroke-width="2.6" stroke-linecap="round"/>
<path d="M59.94 362.1h0M66.31 353.62h0M51.56 360.54h0M59.07 371.31h0M58.67 356.51h0M70.07 364.69h0M41.86 379.44h0M59.98 364.27h0M62.58 353.27h0M57.23 355.49h0M47.3 362.74h0M59.54 355.95h0M43.7 355.24h0M67.43 379.43h0M34.45 366.55h0M40.55 374.92h0M65.62 356.41h0M55.76 355.99h0M54.82 344.49h0M73.36 364.71h0M61 346.29h0M76.74 363.37h0M46.99 366.17h0M43.14 380.39h0M45.94 357.63h0M58.21 339.22h0M62.23 355.31h0M42.69 368.31h0M53.41 346.74h0M71.96 360.02h0M67.32 344.9h0M73.14 361.66h0M56.22 366.95h0M67.13 362.91h0" stroke="#5214ee" stroke-width="2.6" stroke-linecap="round"/>
<path d="M27.94 368.53h0M85.06 348.73h0M33.39 369.18h0M48.34 353.51h0M64.62 359.57h0M30.44 370.22h0M68.3 352.34h0M88.85 346.92h0M46.58 368.13h0M53.42 368.85h0M48.99 367.57h0M48.23 364.11h0M53.13 363.89h0M82.11 352.11h0M70.58 358.38h0M80.95 352.31h0M37.42 369.55h0M56.14 359.73h0M50.87 362.95h0" stroke="#14ff3e" stroke-width="2.6" stroke-linecap="round"/>
<path d="M50.78 371.65h0M56.98 372.96h0M50.45 368.98h0M62.67 340.47h0M59.21 360.09h0M60.96 347h0M45.71 357.31h0M63.86 353.82h0M43.21 366.51h0M53.07 377.33h0M53.7 370.22h0M77.14 360.05h0M54.1 355.12h0M62.54 361.72h0M59.53 383.12h0M46.24 364.68h0M50.13 366.5h0M60.82 354.61h0M59.37 345.93h0M63.56 341.78h0M50.92 352.22h0M54.07 349.38h0M54.46 359.57h0M46.98 359.71h0M60.73 358.33h0M55.76 366.81h0M53.2 360.96h0M53.88 371.4h0M41.89 370.97h0M73.05 355.46h0M51.82 346.11h0M55.27 370.52h0M42.33 355.51h0" stroke="#5214ee" stroke-width="2.6" stroke-linecap="round"/>
<path d="M73.09 356.94h0M69.41 357.73h0M36.9 369.63h0M56.25 366.9h0M27.57 370.3h0M56.11 357.48h0M87.22 350.24h0M44.81 367.87h0M59.65 362.57h0M90.04 348.59h0M73.72 353.44h0M43.16 361.12h0M84.79 351.45h0M40.05 369.81h0M58.59 357.72h0M71.03 358.14h0M68.7 359.93h0M27.17 367.29h0" stroke="#14ff3e" stroke-width="2.6" stroke-linecap="round"/>
<path d="M49.57 361.16h0M57.96 356.43h0M50.34 365.11h0M47.68 358.48h0M62.13 348.02h0M64.17 354.36h0M55.21 341.38h0M47.39 366.59h0M66.09 375.78h0M56.59 336.78h0M55.52 367.31h0M55.07 355.09h0M71.84 340.45h0M53.68 378h0M70.17 377.67h0M47.01 355.39h0M73.06 356.39h0M53.8 365.99h0M51.71 370.01h0M60.03 367.63h0M61.38 346.12h0M65.35 366.66h0M63.56 371.62h0M69.01 361.43h0M50.27 375.55h0M68.23 345.15h0M42.32 342.69h0M50.63 358.63h0M44.24 373.98h0M65.18 379.51h0M52.82 345.85h0M57.83 363.59h0M56.11 355.76h0M58.97 336.85h0M71.89 354.19h0" stroke="#5214ee" stroke-width="2.6" stroke-linecap="round"/>
<path d="M47.29 358.75h0M53.75 363.99h0M30.63 366.49h0M49.1 366.96h0M28.86 371.51h0M43.93 367.23h0M41.25 365.72h0M47.27 368.4h0M73.62 359.4h0M89.88 347.94h0M83.66 348.92h0M35.97 367.83h0M88.33 351.47h0M68.89 350.28h0M69.21 356.47h0M64.22 354.38h0" stroke="#14ff3e" stroke-width="2.6" stroke-linecap="round"/>
<path d="M39.12 369.95h0M47.36 387.15h0M59.97 378.94h0M50.13 373.89h0M67.09 344.81h0M76.64 360.85h0M60.48 354.18h0M56.35 365.78h0M57.64 368.77h0M56.74 378.52h0M67.32 367.47h0M58.18 369.22h0M56.82 352.89h0M60.22 372.79h0M56.47 389.45h0M60.93 364.48h0M60.49 347.3h0M47.2 349.15h0M48.21 357.28h0M67.28 384.14h0M56.04 354.69h0M53.9 363.71h0M64.32 352.17h0M38.46 374.43h0M69.05 346.42h0M67.85 350.87h0M72.07 362.1h0M55.97 351.18h0M62.57 370.28h0M61.03 345.13h0M67.81 363.2h0M46.6 362.98h0M63.02 365.5h0M74.51 353.08h0M51.16 361.61h0M55.18 386.18h0" stroke="#5214ee" stroke-width="2.6" stroke-linecap="round"/>
<path d="M85.3 352.14h0M45.37 359.43h0M27.83 368.75h0M61.05 359.6h0M38 362.42h0M84.51 354.83h0M71.37 351.95h0M39.01 367.65h0M69.04 351.11h0M37.91 375.37h0M82.37 359.31h0M61.68 357.79h0M85.04 348.61h0M44.97 367.86h0M79.52 357.7h0M56.22 357.28h0" stroke="#14ff3e" stroke-width="2.6" stroke-linecap="round"/>
<path d="M53.86 356.94h0M54.89 371h0M52.36 345.4h0M76.88 344.51h0M66.19 353.11h0M62.12 371.95h0M51.94 371.75h0M58.89 359.15h0M61.19 362.61h0M56.55 367.09h0M62.41 343.29h0M72.84 364.81h0M56.19 346.57h0M61.39 344.61h0M58.51 370.39h0M68.72 364.16h0M74 360.85h0M40.78 373.65h0M60.24 342.99h0M63.5 357.82h0M58.34 358.97h0M54.48 360.64h0M63.16 366.69h0M57.28 372.61h0M52.68 376.32h0M54.11 355.57h0M51.14 347.06h0M46.01 348.94h0M48.66 345.39h0M49.86 372.28h0M55.32 376.95h0M66.8 369.92h0M55.15 364.93h0M57.93 377.54h0M50.11 372.78h0M55.54 350.4h0M40.9 358.6h0" stroke="#5214ee" stroke-width="2.6" stroke-linecap="round"/>
<path d="M80.27 353.29h0M72.82 356.94h0M47.81 365.98h0M53.2 363.63h0M80.44 355.24h0M43.4 368.32h0M66.64 350.82h0M44.43 363.54h0M79.11 354.49h0M52.12 363.59h0M86.4 351.51h0M31.42 372.48h0M34.86 371.35h0M68.34 356.07h0M48.88 363.35h0M72.57 360.49h0M39.9 365.17h0M31.2 367.95h0" stroke="#14ff3e" stroke-width="2.6" stroke-linecap="round"/>
<path d="M54.28 355.55h0M56.4 375.48h0M49.15 349.25h0M67.74 362.86h0M48.26 354.4h0M79.17 356.51h0M51.52 379.58h0M47.95 378.71h0M74.79 365.48h0M61.27 374.78h0M51.44 344.52h0M58.74 364.5h0M51.65 380.18h0M57.51 357.73h0M66.48 380.21h0M50.38 355.71h0M42.24 377.92h0M46.28 345.18h0M49.06 349.14h0M63.6 372.35h0M66.74 370.53h0M69.44 376h0M52.52 357.17h0M58.5 355.18h0M41.61 379.6h0M44.83 350.98h0M63.17 350.69h0M59.47 387.19h0M55.47 348.71h0M73.18 340.13h0M63.33 345.66h0M39.18 366.64h0M57.47 382.27h0M70.42 363.7h0" stroke="#5214ee" stroke-width="2.6" stroke-linecap="round"/>
<path d="M49.47 362.34h0M83.99 355.28h0M44.22 363.13h0M65.27 362.83h0M67.57 361.8h0M84.99 357.3h0M87.5 349.43h0M64.64 360.69h0M81.83 347.55h0M41.11 370.86h0M33.98 372.72h0M62.61 362.05h0M65.54 361.03h0M76.71 362.4h0M58.47 366.58h0M27.11 369.08h0M35.98 358.94h0M69.78 358.56h0M38.82 369.73h0M57.99 358h0M76.36 351.33h0M32.07 374.74h0M89.49 348.81h0M76.83 350.47h0M53.12 364.16h0M45.18 366.48h0M37.14 369.79h0M77.96 351.59h0M44.67 373.72h0M88.32 346.93h0M41.63 367.28h0M75.2 362.58h0M87.85 348.99h0M30.61 370.31h0M89.65 354.63h0M62.54 356.7h0M65.34 357.16h0M68.74 359.47h0M34.35 373.48h0M65.67 357.84h0M61.78 357.3h0M37.46 374.53h0M80.37 350.85h0M61.48 358.89h0M30.68 367.85h0M60.76 356.84h0M58.78 358.87h0M60.05 361.2h0M43.45 366.45h0M54.6 359.55h0M55.17 364.04h0M69.84 350.57h0M78.34 352.09h0" stroke="#14ff3e" stroke-width="2.6" stroke-linecap="round"/>
<path d="M131.7 399.4l37 -28.9M140.1 399.4l37 -28.9M148.5 399.4l37 -28.9M156.9 399.4l37 -28.9M165.3 399.4l37 -28.9M129.47 394.58h50.4M135.63 389.77h50.4M141.8 384.95h50.4M147.97 380.13h50.4M154.13 375.32h50.4" stroke="#c9c9c9" stroke-width="0.4" fill="none"/>
<path d="M123.3 350.3h50.4v49.1h-50.4zM160.3 321.4h50.4v49.1h-50.4zM123.3 350.3l37 -28.9M173.7 350.3l37 -28.9M123.3 399.4l37 -28.9M173.7 399.4l37 -28.9M123.3 399.4h-0.9M123.3 399.4v0.9M123.3 391.22h-0.9M131.7 399.4v0.9M123.3 383.03h-0.9M140.1 399.4v0.9M123.3 374.85h-0.9M148.5 399.4v0.9M123.3 366.67h-0.9M156.9 399.4v0.9M123.3 358.48h-0.9M165.3 399.4v0.9M123.3 350.3h-0.9M173.7 399.4v0.9" stroke="#262626" stroke-width="0.5" fill="none"/>
<g font-family="Liberation Sans, Arial, sans-serif" font-size="4.4" fill="#262626" text-anchor="middle">
<text x="123.3" y="404.4">-1.5</text>
<text x="131.7" y="404.4">-1.0</text>
<text x="140.1" y="404.4">-0.5</text>
<text x="148.5" y="404.4">0.0</text>
<text x="156.9" y="404.4">0.5</text>
<text x="165.3" y="404.4">1.0</text>
<text x="173.7" y="404.4">1.5</text>
<text transform="translate(121.4,399.4) rotate(-90)">-1.5</text>
<text transform="translate(121.4,391.22) rotate(-90)">-1.0</text>
<text transform="translate(121.4,383.03) rotate(-90)">-0.5</text>
<text transform="translate(121.4,374.85) rotate(-90)">0.0</text>
<text transform="translate(121.4,366.67) rotate(-90)">0.5</text>
<text transform="translate(121.4,358.48) rotate(-90)">1.0</text>
<text transform="translate(121.4,350.3) rotate(-90)">1.5</text>
<text transform="translate(179.3,400.6) rotate(-72)" font-size="4.1">-1.5</text>
<text transform="translate(185.47,395.78) rotate(-72)" font-size="4.1">-1.0</text>
<text transform="translate(191.63,390.97) rotate(-72)" font-size="4.1">-0.5</text>
<text transform="translate(197.8,386.15) rotate(-72)" font-size="4.1">0.0</text>
<text transform="translate(203.97,381.33) rotate(-72)" font-size="4.1">0.5</text>
<text transform="translate(210.13,376.52) rotate(-72)" font-size="4.1">1.0</text>
<text transform="translate(216.3,371.7) rotate(-72)" font-size="4.1">1.5</text>
</g>
<path d="M180.15 358.76h0M149.96 372.33h0M143.51 363.92h0M164.65 371.44h0M158.84 358.89h0M172.11 369.67h0M178.72 359.44h0M141.69 368.2h0M170.53 370.19h0M175 368.17h0M147.51 371.59h0M159.09 358.04h0M181.79 359.67h0M182.19 360.58h0M173.85 368.69h0M157.42 358.6h0M174.49 356.63h0M155.69 371.97h0M150.73 371.85h0M170.24 357.88h0M178.33 365.94h0M144.27 364.21h0M142.31 369.31h0M181.46 360.39h0" stroke="#14ff3e" stroke-width="2.4" stroke-linecap="round"/>
<path d="M163.28 354.07h0M165.25 347.83h0M176.84 368.22h0M181.35 345.61h0M174.7 338.38h0M175.16 337.43h0M163.04 355.74h0M168 374.59h0M181.06 358.24h0M177.66 338.49h0M181.63 356.3h0M178.68 365.5h0M169.88 340.71h0M168.95 374.82h0M180.79 343.2h0M174.56 338.08h0M172.55 339.12h0M181.28 348.76h0M163.15 365.55h0M163.4 353.46h0M173.85 372.74h0M162.65 356.01h0" stroke="#5214ee" stroke-width="2.4" stroke-linecap="round"/>
<path d="M181.48 364.09h0M173.48 368.29h0M149.79 372.23h0M168.51 356.93h0M153.67 359.54h0M142.05 366.43h0M149.25 361h0M160.91 357.82h0M142.17 366.28h0M174.99 357.5h0M175.02 367.6h0M160.29 371.29h0M180.92 365.15h0M143.32 370.09h0M181.82 363.13h0M181.44 360.79h0M182.06 361.44h0M166.1 357.53h0M182.63 360.87h0" stroke="#14ff3e" stroke-width="2.4" stroke-linecap="round"/>
<path d="M179.03 366.33h0M182.1 344.74h0M163.5 371.59h0M162.99 355.54h0M180.75 341.49h0M164.82 350.01h0M164.88 372.98h0M180.71 341.65h0M175.08 337.83h0M181.65 350.4h0M169.5 341.47h0M163.4 368.13h0M162.92 367.11h0M171.94 338.76h0M173.48 373.21h0M164.09 350.34h0M165.24 348.44h0M170.51 374.9h0M165.28 347.42h0M179.25 364.23h0M164.09 355.47h0M175.63 337.52h0M173.28 372.94h0M181.19 356.03h0M165.55 347.4h0M178.61 366.9h0M164.92 371.61h0" stroke="#5214ee" stroke-width="2.4" stroke-linecap="round"/>
<path d="M146.3 362.54h0M162.29 371.77h0M145.93 371.84h0M146.58 361.58h0M181.43 364.19h0M158 358.45h0M177 367.03h0M142.43 369.77h0M149.45 371.83h0M169.26 370.23h0M176.28 368.04h0M152.97 359.62h0M146.24 371.64h0M148.14 372.1h0M158.05 372.05h0M181.8 359.97h0M141.9 368.09h0M153.63 358.88h0M162.74 371.37h0M145.83 371.74h0M144.78 372.18h0M143.69 364.55h0M143.71 369.75h0M178.04 366.61h0" stroke="#14ff3e" stroke-width="2.4" stroke-linecap="round"/>
<path d="M167.52 375.57h0M176.57 369.15h0M166.67 374.7h0M165.13 349.43h0M162.58 359.27h0M177.57 367.71h0M175.68 337.97h0M163.66 369.02h0M181.2 357.71h0M164.66 373.82h0M177.72 338.21h0M162.68 355.91h0M175.55 370.75h0M181.07 344.62h0M168.39 342.62h0M170.43 340.07h0M163.91 352.83h0M166.76 374.55h0M170.59 340.24h0M180.04 361.13h0M172.48 374.29h0M180.16 362.11h0" stroke="#5214ee" stroke-width="2.4" stroke-linecap="round"/>
<path d="M146.8 361.67h0M141.8 368.41h0M150.88 372.26h0M141.8 368.81h0M181.95 362.16h0M165.41 357.77h0M175.31 357.84h0M168.72 356.68h0M182.12 363.7h0M175.09 367.95h0M169.99 357.36h0M180.35 358.47h0M149.85 371.47h0M181.22 363.25h0M141.91 368h0M177.92 366.5h0M158.21 372.18h0M161.66 372.9h0M182.53 362.03h0M159.88 371.76h0M180.71 359.87h0M157.67 371.57h0M181.74 359.68h0M181.39 359.51h0M180.8 359.98h0M154.27 372.59h0M180.17 358.82h0M179.39 366.36h0" stroke="#14ff3e" stroke-width="2.4" stroke-linecap="round"/>
<path d="M180.54 340.94h0M162.25 360.94h0M168.47 375.09h0M181.75 351.6h0M163.14 362.78h0M165.93 346.04h0M174.92 371.82h0M169.41 375.23h0M163.22 366.72h0M162.34 365.57h0M165.45 347.71h0M164.48 371.47h0M182.12 353.25h0M171.24 374.8h0M167.22 343.99h0M168.92 341.84h0M162.59 357.88h0M182.08 346.15h0M170.27 340.68h0" stroke="#5214ee" stroke-width="2.4" stroke-linecap="round"/>
<text transform="translate(108.6,373) rotate(-90)" font-family="Liberation Sans, Arial, sans-serif" font-size="4.4" fill="#444" text-anchor="middle">x<tspan font-size="3" dy="1">3</tspan></text>
<path fill="#1cf858" d="M251.8 323h111.93v7.08h-111.93zM372.65 330.05h1.52v7.08h-1.52zM381.6 330.05h1.52v7.08h-1.52zM398.02 330.05h1.52v7.08h-1.52zM402.49 330.05h1.52v7.08h-1.52zM420.4 330.05h1.52v7.08h-1.52zM445.76 330.05h1.52v7.08h-1.52zM468.14 330.05h1.52v7.08h-1.52zM251.8 337.1h111.93v7.08h-111.93zM372.65 337.1h1.52v7.08h-1.52zM381.6 337.1h1.52v7.08h-1.52zM398.02 337.1h1.52v7.08h-1.52zM402.49 337.1h1.52v7.08h-1.52zM420.4 337.1h1.52v7.08h-1.52zM445.76 337.1h1.52v7.08h-1.52zM468.14 337.1h1.52v7.08h-1.52zM257.77 344.15h1.52v7.08h-1.52zM260.75 344.15h1.52v7.08h-1.52zM268.21 344.15h1.52v7.08h-1.52zM272.69 344.15h1.52v7.08h-1.52zM284.62 344.15h1.52v7.08h-1.52zM287.61 344.15h1.52v7.08h-1.52zM311.48 344.15h1.52v7.08h-1.52zM317.45 344.15h1.52v7.08h-1.52zM320.43 344.15h1.52v7.08h-1.52zM326.4 344.15h3.01v7.08h-3.01zM330.88 344.15h1.52v7.08h-1.52zM333.86 344.15h3.01v7.08h-3.01zM339.83 344.15h1.52v7.08h-1.52zM344.3 344.15h1.52v7.08h-1.52zM347.29 344.15h1.52v7.08h-1.52zM363.7 344.15h1.52v7.08h-1.52zM366.68 344.15h3.01v7.08h-3.01zM371.16 344.15h16.44v7.08h-16.44zM390.56 344.15h1.52v7.08h-1.52zM393.54 344.15h14.95v7.08h-14.95zM409.95 344.15h7.49v7.08h-7.49zM420.4 344.15h3.01v7.08h-3.01zM424.87 344.15h4.51v7.08h-4.51zM430.84 344.15h10.47v7.08h-10.47zM442.78 344.15h4.51v7.08h-4.51zM448.74 344.15h1.52v7.08h-1.52zM451.73 344.15h1.52v7.08h-1.52zM454.71 344.15h14.95v7.08h-14.95zM471.12 344.15h1.52v7.08h-1.52zM474.11 344.15h1.52v7.08h-1.52zM251.8 351.2h111.93v7.08h-111.93zM372.65 351.2h1.52v7.08h-1.52zM377.13 351.2h1.52v7.08h-1.52zM381.6 351.2h1.52v7.08h-1.52zM386.08 351.2h1.52v7.08h-1.52zM402.49 351.2h1.52v7.08h-1.52zM408.46 351.2h1.52v7.08h-1.52zM418.9 351.2h3.01v7.08h-3.01zM423.38 351.2h1.52v7.08h-1.52zM438.3 351.2h1.52v7.08h-1.52zM445.76 351.2h1.52v7.08h-1.52zM468.14 351.2h1.52v7.08h-1.52zM251.8 358.25h14.95v7.08h-14.95zM268.21 358.25h29.87v7.08h-29.87zM299.54 358.25h35.84v7.08h-35.84zM336.84 358.25h26.89v7.08h-26.89zM372.65 358.25h1.52v7.08h-1.52zM381.6 358.25h1.52v7.08h-1.52zM402.49 358.25h1.52v7.08h-1.52zM420.4 358.25h1.52v7.08h-1.52zM445.76 358.25h1.52v7.08h-1.52zM468.14 358.25h1.52v7.08h-1.52zM251.8 365.3h111.93v7.08h-111.93zM372.65 365.3h1.52v7.08h-1.52zM381.6 365.3h1.52v7.08h-1.52zM396.52 365.3h1.52v7.08h-1.52zM402.49 365.3h1.52v7.08h-1.52zM420.4 365.3h1.52v7.08h-1.52zM445.76 365.3h1.52v7.08h-1.52zM468.14 365.3h1.52v7.08h-1.52zM251.8 372.35h111.93v7.08h-111.93zM372.65 372.35h1.52v7.08h-1.52zM381.6 372.35h1.52v7.08h-1.52zM402.49 372.35h1.52v7.08h-1.52zM420.4 372.35h1.52v7.08h-1.52zM445.76 372.35h1.52v7.08h-1.52zM468.14 372.35h1.52v7.08h-1.52zM257.77 379.4h1.52v7.08h-1.52zM260.75 379.4h1.52v7.08h-1.52zM268.21 379.4h1.52v7.08h-1.52zM272.69 379.4h1.52v7.08h-1.52zM284.62 379.4h1.52v7.08h-1.52zM287.61 379.4h1.52v7.08h-1.52zM311.48 379.4h1.52v7.08h-1.52zM317.45 379.4h1.52v7.08h-1.52zM320.43 379.4h1.52v7.08h-1.52zM326.4 379.4h3.01v7.08h-3.01zM330.88 379.4h1.52v7.08h-1.52zM333.86 379.4h3.01v7.08h-3.01zM339.83 379.4h1.52v7.08h-1.52zM344.3 379.4h1.52v7.08h-1.52zM347.29 379.4h1.52v7.08h-1.52zM363.7 379.4h1.52v7.08h-1.52zM366.68 379.4h3.01v7.08h-3.01zM371.16 379.4h16.44v7.08h-16.44zM390.56 379.4h1.52v7.08h-1.52zM393.54 379.4h14.95v7.08h-14.95zM409.95 379.4h7.49v7.08h-7.49zM420.4 379.4h3.01v7.08h-3.01zM424.87 379.4h4.51v7.08h-4.51zM430.84 379.4h10.47v7.08h-10.47zM442.78 379.4h4.51v7.08h-4.51zM448.74 379.4h1.52v7.08h-1.52zM451.73 379.4h1.52v7.08h-1.52zM454.71 379.4h14.95v7.08h-14.95zM471.12 379.4h1.52v7.08h-1.52zM474.11 379.4h1.52v7.08h-1.52zM251.8 386.45h111.93v7.08h-111.93zM372.65 386.45h1.52v7.08h-1.52zM381.6 386.45h1.52v7.08h-1.52zM402.49 386.45h1.52v7.08h-1.52zM420.4 386.45h1.52v7.08h-1.52zM445.76 386.45h1.52v7.08h-1.52zM468.14 386.45h1.52v7.08h-1.52z"/>
<path fill="#5218f5" d="M363.7 323h111.93v7.08h-111.93zM363.7 337.1h8.98v7.08h-8.98zM374.14 337.1h7.49v7.08h-7.49zM383.1 337.1h14.95v7.08h-14.95zM399.51 337.1h3.01v7.08h-3.01zM403.98 337.1h16.44v7.08h-16.44zM421.89 337.1h23.9v7.08h-23.9zM447.25 337.1h20.92v7.08h-20.92zM469.63 337.1h6v7.08h-6zM251.8 344.15h6v7.08h-6zM259.26 344.15h1.52v7.08h-1.52zM262.24 344.15h6v7.08h-6zM269.7 344.15h3.01v7.08h-3.01zM274.18 344.15h10.47v7.08h-10.47zM286.12 344.15h1.52v7.08h-1.52zM289.1 344.15h22.41v7.08h-22.41zM312.97 344.15h4.51v7.08h-4.51zM318.94 344.15h1.52v7.08h-1.52zM321.92 344.15h4.51v7.08h-4.51zM329.38 344.15h1.52v7.08h-1.52zM332.37 344.15h1.52v7.08h-1.52zM336.84 344.15h3.01v7.08h-3.01zM341.32 344.15h3.01v7.08h-3.01zM345.8 344.15h1.52v7.08h-1.52zM348.78 344.15h14.95v7.08h-14.95zM365.19 344.15h1.52v7.08h-1.52zM369.67 344.15h1.52v7.08h-1.52zM387.57 344.15h3.01v7.08h-3.01zM392.05 344.15h1.52v7.08h-1.52zM408.46 344.15h1.52v7.08h-1.52zM417.41 344.15h3.01v7.08h-3.01zM423.38 344.15h1.52v7.08h-1.52zM429.35 344.15h1.52v7.08h-1.52zM441.28 344.15h1.52v7.08h-1.52zM447.25 344.15h1.52v7.08h-1.52zM450.24 344.15h1.52v7.08h-1.52zM453.22 344.15h1.52v7.08h-1.52zM469.63 344.15h1.52v7.08h-1.52zM472.62 344.15h1.52v7.08h-1.52zM363.7 351.2h8.98v7.08h-8.98zM374.14 351.2h3.01v7.08h-3.01zM378.62 351.2h3.01v7.08h-3.01zM383.1 351.2h3.01v7.08h-3.01zM387.57 351.2h14.95v7.08h-14.95zM403.98 351.2h4.51v7.08h-4.51zM409.95 351.2h8.98v7.08h-8.98zM421.89 351.2h1.52v7.08h-1.52zM424.87 351.2h13.46v7.08h-13.46zM439.79 351.2h6v7.08h-6zM447.25 351.2h20.92v7.08h-20.92zM469.63 351.2h6v7.08h-6zM266.72 358.25h1.52v7.08h-1.52zM298.05 358.25h1.52v7.08h-1.52zM335.35 358.25h1.52v7.08h-1.52zM363.7 358.25h8.98v7.08h-8.98zM374.14 358.25h7.49v7.08h-7.49zM383.1 358.25h19.43v7.08h-19.43zM403.98 358.25h16.44v7.08h-16.44zM421.89 358.25h23.9v7.08h-23.9zM447.25 358.25h20.92v7.08h-20.92zM469.63 358.25h6v7.08h-6zM363.7 365.3h8.98v7.08h-8.98zM374.14 365.3h7.49v7.08h-7.49zM383.1 365.3h13.46v7.08h-13.46zM398.02 365.3h4.51v7.08h-4.51zM403.98 365.3h16.44v7.08h-16.44zM421.89 365.3h23.9v7.08h-23.9zM447.25 365.3h20.92v7.08h-20.92zM469.63 365.3h6v7.08h-6zM363.7 372.35h8.98v7.08h-8.98zM374.14 372.35h7.49v7.08h-7.49zM383.1 372.35h19.43v7.08h-19.43zM403.98 372.35h16.44v7.08h-16.44zM421.89 372.35h23.9v7.08h-23.9zM447.25 372.35h20.92v7.08h-20.92zM469.63 372.35h6v7.08h-6zM251.8 379.4h6v7.08h-6zM259.26 379.4h1.52v7.08h-1.52zM262.24 379.4h6v7.08h-6zM269.7 379.4h3.01v7.08h-3.01zM274.18 379.4h10.47v7.08h-10.47zM286.12 379.4h1.52v7.08h-1.52zM289.1 379.4h22.41v7.08h-22.41zM312.97 379.4h4.51v7.08h-4.51zM318.94 379.4h1.52v7.08h-1.52zM321.92 379.4h4.51v7.08h-4.51zM329.38 379.4h1.52v7.08h-1.52zM332.37 379.4h1.52v7.08h-1.52zM336.84 379.4h3.01v7.08h-3.01zM341.32 379.4h3.01v7.08h-3.01zM345.8 379.4h1.52v7.08h-1.52zM348.78 379.4h14.95v7.08h-14.95zM365.19 379.4h1.52v7.08h-1.52zM369.67 379.4h1.52v7.08h-1.52zM387.57 379.4h3.01v7.08h-3.01zM392.05 379.4h1.52v7.08h-1.52zM408.46 379.4h1.52v7.08h-1.52zM417.41 379.4h3.01v7.08h-3.01zM423.38 379.4h1.52v7.08h-1.52zM429.35 379.4h1.52v7.08h-1.52zM441.28 379.4h1.52v7.08h-1.52zM447.25 379.4h1.52v7.08h-1.52zM450.24 379.4h1.52v7.08h-1.52zM453.22 379.4h1.52v7.08h-1.52zM469.63 379.4h1.52v7.08h-1.52zM472.62 379.4h1.52v7.08h-1.52zM363.7 386.45h8.98v7.08h-8.98zM374.14 386.45h7.49v7.08h-7.49zM383.1 386.45h19.43v7.08h-19.43zM403.98 386.45h16.44v7.08h-16.44zM421.89 386.45h23.9v7.08h-23.9zM447.25 386.45h20.92v7.08h-20.92zM469.63 386.45h6v7.08h-6z"/>
<path fill="#f8fd14" d="M251.8 330.05h120.88v7.08h-120.88zM374.14 330.05h7.49v7.08h-7.49zM383.1 330.05h14.95v7.08h-14.95zM399.51 330.05h3.01v7.08h-3.01zM403.98 330.05h16.44v7.08h-16.44zM421.89 330.05h23.9v7.08h-23.9zM447.25 330.05h20.92v7.08h-20.92zM469.63 330.05h6v7.08h-6z"/>
<rect x="251.8" y="323" width="223.8" height="70.5" fill="url(#vgrid)"/>
<path d="M251.8 330.05H475.6M251.8 337.1H475.6M251.8 344.15H475.6M251.8 351.2H475.6M251.8 358.25H475.6M251.8 365.3H475.6M251.8 372.35H475.6M251.8 379.4H475.6M251.8 386.45H475.6" stroke="#fff" stroke-opacity="0.4" stroke-width="0.6"/>
<g font-family="Liberation Sans, Arial, sans-serif" font-size="3.9" fill="#333" text-anchor="end">
<text x="250.4" y="327.92">OrigCls</text>
<text x="250.4" y="334.97">Misclassified</text>
<text x="250.4" y="342.02">GrandMajority</text>
<text x="250.4" y="349.07">lda</text>
<text x="250.4" y="356.12">knn</text>
<text x="250.4" y="363.17">rf</text>
<text x="250.4" y="370.22">SVM</text>
<text x="250.4" y="377.27">nb</text>
<text x="250.4" y="384.32">Multinom</text>
<text x="250.4" y="391.37">JRip</text>
</g>
<path d="M248.5 395.1H475.6" stroke="#e2c4c4" stroke-width="0.45"/>
<text x="364" y="318.8" font-family="Liberation Sans, Arial, sans-serif" font-size="6.4" text-anchor="middle" fill="#111">Classes and misclassifications _ 001</text>
<rect x="477.2" y="322.1" width="54.4" height="71.7" fill="#fff" stroke="#999" stroke-width="0.5"/>
<rect x="477.4" y="331.15" width="2.4" height="4.7" fill="#d6cfb8" stroke="#b3aa92" stroke-width="0.3"/>
<rect x="477.4" y="338.2" width="2.4" height="4.7" fill="#d6cfb8" stroke="#b3aa92" stroke-width="0.3"/>
<rect x="477.4" y="345.25" width="38.5" height="4.7" fill="#d6cfb8" stroke="#b3aa92" stroke-width="0.3"/>
<rect x="477.4" y="352.3" width="4.7" height="4.7" fill="#d6cfb8" stroke="#b3aa92" stroke-width="0.3"/>
<rect x="477.4" y="359.35" width="2.7" height="4.7" fill="#d6cfb8" stroke="#b3aa92" stroke-width="0.3"/>
<rect x="477.4" y="366.4" width="2.7" height="4.7" fill="#d6cfb8" stroke="#b3aa92" stroke-width="0.3"/>
<rect x="477.4" y="373.45" width="1.5" height="4.7" fill="#d6cfb8" stroke="#b3aa92" stroke-width="0.3"/>
<rect x="477.4" y="380.5" width="38.5" height="4.7" fill="#d6cfb8" stroke="#b3aa92" stroke-width="0.3"/>
<rect x="477.4" y="387.55" width="1.3" height="4.7" fill="#d6cfb8" stroke="#b3aa92" stroke-width="0.3"/>
<path d="M477.2 393.8v1.4" stroke="#777" stroke-width="0.35"/>
<text transform="translate(478.5,395.8) rotate(-90)" text-anchor="end" font-family="Liberation Sans, Arial, sans-serif" font-size="3.6" fill="#333">0</text>
<path d="M493.6 393.8v1.4" stroke="#777" stroke-width="0.35"/>
<text transform="translate(494.9,395.8) rotate(-90)" text-anchor="end" font-family="Liberation Sans, Arial, sans-serif" font-size="3.6" fill="#333">50</text>
<path d="M510 393.8v1.4" stroke="#777" stroke-width="0.35"/>
<text transform="translate(511.3,395.8) rotate(-90)" text-anchor="end" font-family="Liberation Sans, Arial, sans-serif" font-size="3.6" fill="#333">100</text>
<path d="M526.4 393.8v1.4" stroke="#777" stroke-width="0.35"/>
<text transform="translate(527.7,395.8) rotate(-90)" text-anchor="end" font-family="Liberation Sans, Arial, sans-serif" font-size="3.6" fill="#333">150</text>
<text x="503.8" y="409" font-family="Liberation Sans, Arial, sans-serif" font-size="5.8" text-anchor="middle" fill="#222">Sum</text>
<rect x="534.2" y="350" width="5.3" height="5.35" fill="#5218f5"/>
<text x="540.8" y="354.2" font-family="Liberation Sans, Arial, sans-serif" font-size="4.5" fill="#333">2</text>
<rect x="534.2" y="355.3" width="5.3" height="5.35" fill="#1cf858"/>
<text x="540.8" y="359.5" font-family="Liberation Sans, Arial, sans-serif" font-size="4.5" fill="#333">1</text>
<rect x="534.2" y="360.6" width="5.3" height="5.35" fill="#f8fd14"/>
<text x="540.8" y="364.8" font-family="Liberation Sans, Arial, sans-serif" font-size="4.5" fill="#333">0</text>
<text x="8.8" y="418.5" font-family="Liberation Sans, Arial, sans-serif" font-weight="bold" font-size="7.4" fill="#111">E</text>
<path d="M23.7 498.4l37 -28.9M32.1 498.4l37 -28.9M40.5 498.4l37 -28.9M48.9 498.4l37 -28.9M57.3 498.4l37 -28.9M21.47 493.58h50.4M27.63 488.77h50.4M33.8 483.95h50.4M39.97 479.13h50.4M46.13 474.32h50.4" stroke="#c9c9c9" stroke-width="0.4" fill="none"/>
<path d="M15.3 449.3h50.4v49.1h-50.4zM52.3 420.4h50.4v49.1h-50.4zM15.3 449.3l37 -28.9M65.7 449.3l37 -28.9M15.3 498.4l37 -28.9M65.7 498.4l37 -28.9M15.3 498.4h-0.9M15.3 498.4v0.9M15.3 490.22h-0.9M23.7 498.4v0.9M15.3 482.03h-0.9M32.1 498.4v0.9M15.3 473.85h-0.9M40.5 498.4v0.9M15.3 465.67h-0.9M48.9 498.4v0.9M15.3 457.48h-0.9M57.3 498.4v0.9M15.3 449.3h-0.9M65.7 498.4v0.9" stroke="#262626" stroke-width="0.5" fill="none"/>
<g font-family="Liberation Sans, Arial, sans-serif" font-size="4.4" fill="#262626" text-anchor="middle">
<text x="15.3" y="503.4">-1.5</text>
<text x="23.7" y="503.4">-1.0</text>
<text x="32.1" y="503.4">-0.5</text>
<text x="40.5" y="503.4">0.0</text>
<text x="48.9" y="503.4">0.5</text>
<text x="57.3" y="503.4">1.0</text>
<text x="65.7" y="503.4">1.5</text>
<text transform="translate(13.4,498.4) rotate(-90)">-1.5</text>
<text transform="translate(13.4,490.22) rotate(-90)">-1.0</text>
<text transform="translate(13.4,482.03) rotate(-90)">-0.5</text>
<text transform="translate(13.4,473.85) rotate(-90)">0.0</text>
<text transform="translate(13.4,465.67) rotate(-90)">0.5</text>
<text transform="translate(13.4,457.48) rotate(-90)">1.0</text>
<text transform="translate(13.4,449.3) rotate(-90)">1.5</text>
<text transform="translate(71.3,499.6) rotate(-72)" font-size="4.1">-1.5</text>
<text transform="translate(77.47,494.78) rotate(-72)" font-size="4.1">-1.0</text>
<text transform="translate(83.63,489.97) rotate(-72)" font-size="4.1">-0.5</text>
<text transform="translate(89.8,485.15) rotate(-72)" font-size="4.1">0.0</text>
<text transform="translate(95.97,480.33) rotate(-72)" font-size="4.1">0.5</text>
<text transform="translate(102.13,475.52) rotate(-72)" font-size="4.1">1.0</text>
<text transform="translate(108.3,470.7) rotate(-72)" font-size="4.1">1.5</text>
</g>
<path d="M77.3 450.98h0M66.04 455.49h0M52.04 469.76h0M55.53 461.98h0M36.48 469.21h0M87.83 446.47h0M74.22 453.66h0M52.8 467.01h0M65.49 454.56h0M86.1 449.26h0M29.84 469.8h0M43.23 463.78h0M78.81 451.97h0M60.74 460.73h0M36.94 467.06h0M59.97 460.64h0M58.34 455.48h0M61.69 453.78h0M57.12 454.31h0M80.21 452.6h0M74.69 454.63h0M80.93 461.01h0M71.04 450.45h0M28.78 468.25h0M86.22 450.56h0M52.4 464.94h0M44.73 466.06h0M39.89 473.07h0M51.05 457.15h0" stroke="#14ff3e" stroke-width="2.6" stroke-linecap="round"/>
<path d="M51.6 476.61h0M62.51 473.27h0M72.53 453.85h0M45.8 483.32h0M51.92 483.61h0M45.33 482.21h0M42.92 479.38h0M46.55 485.88h0M54.74 460.88h0M75.86 446.53h0M51.41 461.49h0M57.65 462.15h0M64.37 453.03h0M69.48 447.53h0M62.07 451.58h0" stroke="#5214ee" stroke-width="2.6" stroke-linecap="round"/>
<path d="M42.7 461.71h0M55.65 460.62h0M33.01 470.06h0M38.33 470.97h0M30.64 465.86h0M52.07 457.82h0M57.74 459.87h0M73.44 457.13h0M27.69 468.24h0M79.93 459.14h0M73.82 455.01h0M68.47 462.8h0M43.54 471.6h0M28.76 470.26h0M35.7 471.09h0M82.34 450.4h0M67.29 453.69h0M82.68 450.25h0" stroke="#14ff3e" stroke-width="2.6" stroke-linecap="round"/>
<path d="M69.32 445.38h0M52.54 479.3h0M68.09 446.31h0M53.57 468.74h0M67.49 438.45h0M57.11 475.03h0M51.84 473.1h0M72.72 436.75h0M66.72 447.3h0M43.8 481.37h0M58.68 451.76h0M56.56 458.57h0M56.69 461.75h0M54.08 482.31h0M72.4 449.44h0M68.77 435.4h0M60.47 463.78h0M69.53 438.62h0M48.08 452.28h0M72.23 452.73h0M69.03 441.98h0M49.84 465.28h0M54.93 480.62h0M75.04 444.59h0M80.31 452.18h0M50.47 464.84h0" stroke="#5214ee" stroke-width="2.6" stroke-linecap="round"/>
<path d="M86.48 452.57h0M32.21 469.01h0M63.82 459.15h0M46.96 462.07h0M60.88 456.03h0M34.59 468.01h0M43.36 474h0M43.33 464.15h0M37.24 465.96h0M28.69 471.49h0M27.88 469.25h0M39.06 466.52h0M43.77 456.23h0M49.26 461.45h0M36.75 465.81h0M28.62 473.07h0M28.99 472.65h0M52.55 456.62h0M59.17 460.64h0M63.91 457.74h0M30.9 464.27h0M86.98 447.32h0M47.35 463.38h0M52.32 457.29h0M84.98 449.46h0M34.74 464.05h0" stroke="#14ff3e" stroke-width="2.6" stroke-linecap="round"/>
<path d="M64.63 448.71h0M68.72 436.55h0M71.75 436.3h0M63.15 452.45h0M65.65 454.32h0M73.5 437.6h0M74.46 435.97h0M59.83 432.12h0M55.69 474.16h0M70.73 436.32h0M63.95 442.39h0M61.66 453.43h0M70.23 439.63h0M52.61 466.56h0M74.77 440.24h0M71.8 455.75h0M76.62 436.42h0M63.42 479.97h0" stroke="#5214ee" stroke-width="2.6" stroke-linecap="round"/>
<path d="M30.2 470.36h0M90.1 452.17h0M46.19 459.74h0M50.12 459.08h0M29.36 465.75h0M70.08 457.41h0M88.46 447.23h0M29.1 465.38h0M73.7 456.86h0M65.47 452.75h0M35.95 461.46h0M62.73 457.16h0M36.84 468.81h0M83.96 451.47h0M27.83 470.23h0M34.29 469.57h0M30.94 468.57h0M54.75 459.63h0M80.18 445.89h0M43.42 463.4h0M47.59 466.3h0M48.98 454.93h0M70.97 446.79h0" stroke="#14ff3e" stroke-width="2.6" stroke-linecap="round"/>
<path d="M60.44 473.32h0M65.23 459.5h0M71.77 458.39h0M52.63 477.37h0M56.4 472.92h0M52.08 445h0M71.08 475.75h0M56.45 476.41h0M62.19 471.79h0M49.49 440.12h0M49.78 458.77h0M55.05 476.83h0M71.06 449.07h0M59.79 446.9h0M49.57 459.96h0M44.72 479.01h0M65.01 452.09h0M40.28 445.4h0M38.19 477.63h0M64 453.76h0M51.56 462.67h0" stroke="#5214ee" stroke-width="2.6" stroke-linecap="round"/>
<path d="M84.99 449.07h0M86.36 450.35h0M63.35 456.99h0M30.87 470.69h0M86.9 446.23h0M41.95 463.14h0M37.43 470.73h0M74.87 449.5h0M53.8 463.45h0M46.58 458.08h0M70.39 464.52h0M34.26 461.79h0M83.54 450.93h0M40.03 466.6h0M68.18 454.15h0M54.1 456.88h0M38.03 465.84h0" stroke="#14ff3e" stroke-width="2.6" stroke-linecap="round"/>
<path d="M64.03 450.82h0M65.59 452.64h0M67.99 438.97h0M68.05 437.36h0M55.82 467.81h0M67.76 448.7h0M48.7 484.16h0M52.27 445.67h0M38.6 471.64h0M47.62 468.36h0M46.98 483.47h0M60.18 466.78h0M69.79 452.26h0M64.58 442.86h0M60.2 481.81h0M72.2 438h0M61.31 470.97h0M44.42 483.08h0M67.24 452.81h0M47.67 479.89h0M53.36 453.12h0M51.21 479.69h0M60.4 454.91h0M55.65 478.71h0M62.41 470.85h0M62.6 469.91h0M58.57 474.45h0" stroke="#5214ee" stroke-width="2.6" stroke-linecap="round"/>
<path d="M35.03 468.21h0M41.04 467.06h0M77.17 453.13h0M86.46 453.64h0M63.65 460.56h0M48.12 459.97h0M49.96 471.8h0M64.44 463.34h0M84.99 447.29h0M41.69 469.18h0M59.47 462.95h0M38.82 467.17h0M88.42 447.09h0M60.87 459.51h0M88.24 448.76h0M73.01 455.26h0M83.26 448.39h0M26.62 467.69h0M30.04 464.71h0M45.57 464.05h0M85.87 449.99h0" stroke="#14ff3e" stroke-width="2.6" stroke-linecap="round"/>
<path d="M67.3 454.9h0M52.92 475.63h0M51.24 469.71h0M66.36 459.16h0M67.38 454.81h0M52.38 461.96h0M55.95 465.61h0M45.59 447.64h0M56.65 479.67h0M62.43 467.42h0M56.18 449.98h0M55.36 464h0M59.19 472.31h0M56.76 478.65h0M51.89 482.33h0M55.61 473.63h0M75.3 440.33h0M53.18 477.16h0M49.02 482.26h0M43.94 482.73h0M61.05 479.37h0M66.33 442h0M59.59 448.01h0M53.1 465.24h0" stroke="#5214ee" stroke-width="2.6" stroke-linecap="round"/>
<path d="M47.82 459.31h0M45.53 462.77h0M32.09 465.3h0M27.9 471.27h0M31.2 467.37h0M70.55 455.94h0M85.22 453.09h0M44.45 465.24h0M53.73 458.05h0M63.64 448.59h0M34.5 472.04h0M41.56 466.93h0M82.9 447.84h0M65.38 456.9h0M37.57 462.69h0M86 451.95h0M68.35 453.39h0M51.14 458.29h0M40.5 463.21h0M76.77 451.54h0M58.95 457.51h0M41.06 468.31h0M44.26 459.26h0M33 470.01h0" stroke="#14ff3e" stroke-width="2.6" stroke-linecap="round"/>
<path d="M62.15 481.06h0M56.55 456.33h0M56.16 473.75h0M71.04 439.12h0M64.64 449.83h0M68.29 431.88h0M49.81 487.01h0M61.59 446.86h0M41.44 472.64h0M44.86 461.69h0M71.7 438h0M79.69 454.95h0M65.69 461.23h0M53.99 469.01h0M47.99 476.64h0M73.61 443.97h0M64.62 453.69h0M59.92 467.07h0M56.1 454.86h0M47.94 472.46h0" stroke="#5214ee" stroke-width="2.6" stroke-linecap="round"/>
<path d="M28.49 469.26h0M89.92 448.81h0M51.57 465.67h0M85.1 447.43h0M32.85 468.11h0M79.59 447.76h0M27.97 466.5h0M57.49 457.64h0M83.89 444.91h0M38.1 464.52h0M58.28 457.22h0M35.66 466.31h0M85.68 451.81h0M85.89 448.27h0M65.92 450.26h0M80.81 446.56h0M28.17 468.74h0M68.91 455.28h0M74.37 457.86h0M64.72 451.96h0M45.95 464.53h0M73.14 459.59h0M88.79 448.4h0M59.89 465.36h0M35.03 467.48h0" stroke="#14ff3e" stroke-width="2.6" stroke-linecap="round"/>
<path d="M66.02 457.56h0M74.52 451.91h0M64.3 449.85h0M56.67 454.57h0M53.77 486.24h0M47.52 463.78h0M56.7 453.5h0M73.13 436.29h0M51.83 483.88h0M51.2 479.3h0M55.46 467.27h0M48.15 469.78h0M56.27 446.01h0M72.96 444.91h0M75.85 438.35h0M59.69 437.74h0M63.83 448.17h0M58.22 459.39h0M65 464.94h0" stroke="#5214ee" stroke-width="2.6" stroke-linecap="round"/>
<path d="M44.87 462.98h0M88.72 447.7h0M48.93 456.26h0M31.5 472.23h0M59.08 458.59h0M50.14 467.41h0M74.39 450.06h0M58.96 466.28h0M82.95 455.32h0M51.11 461.09h0M57.98 463.01h0M36.19 468.55h0M81.36 459.17h0M35.36 472.57h0M89.18 449.97h0M88.15 446.38h0M63.06 454.12h0M62.05 457.07h0M49.78 466.22h0M29.16 471.37h0M85.42 451.1h0M50.65 460.29h0M35.03 466.86h0" stroke="#14ff3e" stroke-width="2.6" stroke-linecap="round"/>
<path d="M73.3 434.13h0M47.66 477.66h0M77.49 440.39h0M56.92 466.32h0M50.4 470.54h0M46.54 485.82h0M54.84 465.65h0M60.28 474.97h0M42.74 467.27h0M60.32 478.98h0M53.45 480.78h0M58.51 476.47h0M71.09 434.11h0M44.96 484.75h0M71.59 438.78h0M51.57 465.68h0M58.88 478.53h0M63.55 449.03h0M62.5 470.52h0M62.41 448.39h0M72.71 439.08h0" stroke="#5214ee" stroke-width="2.6" stroke-linecap="round"/>
<path d="M60.65 461.74h0M58.56 465.95h0M88.25 449.75h0M33.79 465.68h0M76.43 459.71h0M27.85 469.39h0M36.02 461.55h0M48.58 458.51h0M58.82 462.78h0M47.23 465.57h0M81.94 451.04h0M41.85 464.86h0M85.66 446.56h0M89.2 450.12h0M60.59 456.93h0M53.29 461.87h0M86.67 449.82h0M77.92 452.98h0" stroke="#14ff3e" stroke-width="2.6" stroke-linecap="round"/>
<path d="M73.1 441.25h0M77.83 446.23h0M69.99 435.35h0M70.51 436.87h0M62.59 466.81h0M56.86 482.02h0M48.68 481.89h0M74.88 437.41h0M56.62 465.48h0M63.14 466.92h0M66.2 454.09h0M42.49 471.63h0M59.58 452.06h0M51.8 471.6h0M59.79 471.17h0M72.55 466.3h0M60.14 448.71h0M54.35 464.57h0M69.4 442.02h0M67.37 442.03h0M45.1 447.12h0M78.37 459.32h0M47.49 481h0M60.56 472.63h0M60.69 442.19h0M46.89 464.19h0" stroke="#5214ee" stroke-width="2.6" stroke-linecap="round"/>
<path d="M88.84 445h0M72.36 459.31h0M85.54 448.21h0M31.27 464.2h0M81.01 449.99h0M87.45 449.41h0M72.96 456.05h0M38.23 471.35h0M27.57 470.16h0M62.43 461.12h0M43.38 463.39h0M40.6 464.23h0M62.97 453.13h0M50.67 465.47h0" stroke="#14ff3e" stroke-width="2.6" stroke-linecap="round"/>
<path d="M52.54 464.05h0M59.92 456.12h0M55.24 482.21h0M54.77 483.19h0M71.07 449.23h0M52.26 475.7h0M71.95 436.29h0M53.15 444.59h0M71.94 452.85h0M55.52 469.68h0M48.65 469.31h0M74.89 447.62h0M71.74 444.63h0M72.9 446.98h0M54.89 481.45h0M56.1 455.51h0M71.12 436.04h0M57.77 450.18h0M43.43 478.39h0M75.32 439.54h0M50.68 475.58h0M60.91 450.33h0M67.41 464.73h0M69.95 437.39h0M55.17 439.51h0M72.69 449.83h0M54.09 467.57h0M49.91 466.64h0M50.9 477.02h0M58.96 457.1h0" stroke="#5214ee" stroke-width="2.6" stroke-linecap="round"/>
<path d="M42.77 467.64h0M44.29 469.13h0M48.99 460.09h0M48.4 458.8h0M40.14 461.71h0M34.22 466.87h0M40.68 472.65h0M51.88 459.08h0M37.07 468.91h0M70.45 445.56h0M53.27 452.15h0M34.03 472.08h0" stroke="#14ff3e" stroke-width="2.6" stroke-linecap="round"/>
<path d="M72.97 439.93h0M60.25 460.09h0M56.07 470.42h0M73.95 446.48h0M45.56 473.04h0M62.84 461.04h0M40.99 458.41h0M67.25 446.09h0M52.23 472.31h0M53.48 460.25h0M49.46 475.41h0M52.86 483.97h0M56.27 456.13h0M73.03 448.58h0M51 482.62h0M83.1 460.09h0M51.28 459.98h0M71.57 435.5h0M56.67 461.97h0M50.97 460.27h0M57.22 450.12h0M75.53 438.38h0M61.55 461.37h0M72.37 451.65h0M50.38 481.73h0M80.1 451.48h0M58.73 443.13h0M52.8 454.38h0M49.46 485.76h0M58.54 443.22h0M45.8 479.02h0M68.26 432.84h0M43.8 465.2h0" stroke="#5214ee" stroke-width="2.6" stroke-linecap="round"/>
<path d="M131.7 498.4l37 -28.9M140.1 498.4l37 -28.9M148.5 498.4l37 -28.9M156.9 498.4l37 -28.9M165.3 498.4l37 -28.9M129.47 493.58h50.4M135.63 488.77h50.4M141.8 483.95h50.4M147.97 479.13h50.4M154.13 474.32h50.4" stroke="#c9c9c9" stroke-width="0.4" fill="none"/>
<path d="M123.3 449.3h50.4v49.1h-50.4zM160.3 420.4h50.4v49.1h-50.4zM123.3 449.3l37 -28.9M173.7 449.3l37 -28.9M123.3 498.4l37 -28.9M173.7 498.4l37 -28.9M123.3 498.4h-0.9M123.3 498.4v0.9M123.3 490.22h-0.9M131.7 498.4v0.9M123.3 482.03h-0.9M140.1 498.4v0.9M123.3 473.85h-0.9M148.5 498.4v0.9M123.3 465.67h-0.9M156.9 498.4v0.9M123.3 457.48h-0.9M165.3 498.4v0.9M123.3 449.3h-0.9M173.7 498.4v0.9" stroke="#262626" stroke-width="0.5" fill="none"/>
<g font-family="Liberation Sans, Arial, sans-serif" font-size="4.4" fill="#262626" text-anchor="middle">
<text x="123.3" y="503.4">-1.5</text>
<text x="131.7" y="503.4">-1.0</text>
<text x="140.1" y="503.4">-0.5</text>
<text x="148.5" y="503.4">0.0</text>
<text x="156.9" y="503.4">0.5</text>
<text x="165.3" y="503.4">1.0</text>
<text x="173.7" y="503.4">1.5</text>
<text transform="translate(121.4,498.4) rotate(-90)">-1.5</text>
<text transform="translate(121.4,490.22) rotate(-90)">-1.0</text>
<text transform="translate(121.4,482.03) rotate(-90)">-0.5</text>
<text transform="translate(121.4,473.85) rotate(-90)">0.0</text>
<text transform="translate(121.4,465.67) rotate(-90)">0.5</text>
<text transform="translate(121.4,457.48) rotate(-90)">1.0</text>
<text transform="translate(121.4,449.3) rotate(-90)">1.5</text>
<text transform="translate(179.3,499.6) rotate(-72)" font-size="4.1">-1.5</text>
<text transform="translate(185.47,494.78) rotate(-72)" font-size="4.1">-1.0</text>
<text transform="translate(191.63,489.97) rotate(-72)" font-size="4.1">-0.5</text>
<text transform="translate(197.8,485.15) rotate(-72)" font-size="4.1">0.0</text>
<text transform="translate(203.97,480.33) rotate(-72)" font-size="4.1">0.5</text>
<text transform="translate(210.13,475.52) rotate(-72)" font-size="4.1">1.0</text>
<text transform="translate(216.3,470.7) rotate(-72)" font-size="4.1">1.5</text>
</g>
<path d="M149.25 460h0M164.65 470.44h0M146.3 461.54h0M175 467.17h0M180.71 458.87h0M175.09 466.95h0M152.97 458.62h0M181.39 458.51h0M173.48 467.29h0M149.85 470.47h0M145.83 470.74h0M180.35 457.47h0M142.05 465.43h0M181.95 461.16h0M149.96 471.33h0M157.67 470.57h0M150.88 471.26h0M142.31 468.31h0M154.27 471.59h0M174.99 456.5h0M165.41 456.77h0M176.28 467.04h0M162.29 470.77h0M158 457.45h0M181.22 462.25h0" stroke="#14ff3e" stroke-width="2.4" stroke-linecap="round"/>
<path d="M180.54 439.94h0M168.39 441.62h0M182.08 445.15h0M178.61 465.9h0M170.51 473.9h0M163.4 452.46h0M181.06 457.24h0M182.12 452.25h0M166.76 473.55h0M163.5 470.59h0M179.25 463.23h0M165.24 447.44h0M163.04 454.74h0M174.56 437.08h0M168.92 440.84h0M171.94 437.76h0M164.09 449.34h0M182.1 443.74h0M165.93 445.04h0M170.27 439.68h0M181.2 456.71h0" stroke="#5214ee" stroke-width="2.4" stroke-linecap="round"/>
<path d="M162.74 470.37h0M149.45 470.83h0M179.39 465.36h0M181.82 462.13h0M143.51 462.92h0M158.84 457.89h0M143.32 469.09h0M158.21 471.18h0M178.72 458.44h0M144.78 471.18h0M159.88 470.76h0M181.46 459.39h0M182.12 462.7h0M148.14 471.1h0M181.74 458.68h0M181.44 459.79h0M170.53 469.19h0M143.69 463.55h0M168.51 455.93h0M181.79 458.67h0M169.99 456.36h0M149.79 471.23h0M157.42 457.6h0" stroke="#14ff3e" stroke-width="2.4" stroke-linecap="round"/>
<path d="M175.68 436.97h0M181.63 455.3h0M179.03 465.33h0M173.28 471.94h0M176.84 467.22h0M181.07 443.62h0M170.59 439.24h0M164.48 470.47h0M168 473.59h0M163.66 468.02h0M164.66 472.82h0M162.65 455.01h0M163.4 467.13h0M164.92 470.61h0M165.25 446.83h0M166.67 473.7h0M165.13 448.43h0M175.55 469.75h0M163.15 464.55h0M181.35 444.61h0M164.82 449.01h0M165.45 446.71h0M177.72 437.21h0" stroke="#5214ee" stroke-width="2.4" stroke-linecap="round"/>
<path d="M180.92 464.15h0M169.26 469.23h0M168.72 455.68h0M166.1 456.53h0M147.51 470.59h0M177 466.03h0M141.8 467.81h0M178.04 465.61h0M142.43 468.77h0M144.27 463.21h0M177.92 465.5h0M141.91 467h0M178.33 464.94h0M182.53 461.03h0M175.31 456.84h0M170.24 456.88h0M158.05 471.05h0M182.06 460.44h0M145.93 470.84h0M146.8 460.67h0M180.8 458.98h0M153.67 458.54h0" stroke="#14ff3e" stroke-width="2.4" stroke-linecap="round"/>
<path d="M174.7 437.38h0M180.16 461.11h0M174.92 470.82h0M175.16 436.43h0M180.71 440.65h0M181.19 455.03h0M168.47 474.09h0M171.24 473.8h0M180.75 440.49h0M173.48 472.21h0M163.91 451.83h0M162.92 466.11h0M177.66 437.49h0M163.28 453.07h0M169.5 440.47h0M181.65 449.4h0M163.14 461.78h0M173.85 471.74h0M175.08 436.83h0M178.68 464.5h0M162.59 456.88h0M180.04 460.13h0M167.22 442.99h0M172.48 473.29h0" stroke="#5214ee" stroke-width="2.4" stroke-linecap="round"/>
<path d="M182.19 459.58h0M180.17 457.82h0M146.58 460.58h0M141.8 467.41h0M172.11 468.67h0M153.63 457.88h0M182.63 459.87h0M181.48 463.09h0M141.9 467.09h0M161.66 471.9h0M181.43 463.19h0M160.91 456.82h0M159.09 457.04h0M181.8 458.97h0M175.02 466.6h0M146.24 470.64h0M180.15 457.76h0M142.17 465.28h0M160.29 470.29h0M173.85 467.69h0M155.69 470.97h0M143.71 468.75h0M141.69 467.2h0M174.49 455.63h0M150.73 470.85h0" stroke="#14ff3e" stroke-width="2.4" stroke-linecap="round"/>
<path d="M181.75 450.6h0M162.34 464.57h0M162.99 454.54h0M164.09 454.47h0M164.88 471.98h0M162.68 454.91h0M172.55 438.12h0M169.88 439.71h0M167.52 474.57h0M163.22 465.72h0M162.25 459.94h0M177.57 466.71h0M162.58 458.27h0M165.28 446.42h0M175.63 436.52h0M168.95 473.82h0M169.41 474.23h0M180.79 442.2h0M170.43 439.07h0M181.28 447.76h0M176.57 468.15h0M165.55 446.4h0" stroke="#5214ee" stroke-width="2.4" stroke-linecap="round"/>
<text transform="translate(108.6,472) rotate(-90)" font-family="Liberation Sans, Arial, sans-serif" font-size="4.4" fill="#444" text-anchor="middle">x<tspan font-size="3" dy="1">3</tspan></text>
<path fill="#1cf858" d="M251.8 422h111.93v7.08h-111.93zM260.75 429.05h1.52v7.08h-1.52zM315.96 429.05h1.52v7.08h-1.52zM350.27 429.05h1.52v7.08h-1.52zM359.22 429.05h1.52v7.08h-1.52zM402.49 429.05h1.52v7.08h-1.52zM251.8 436.1h8.98v7.08h-8.98zM262.24 436.1h53.74v7.08h-53.74zM317.45 436.1h32.85v7.08h-32.85zM351.76 436.1h7.49v7.08h-7.49zM360.72 436.1h3.01v7.08h-3.01zM402.49 436.1h1.52v7.08h-1.52zM254.78 443.15h3.01v7.08h-3.01zM260.75 443.15h4.51v7.08h-4.51zM266.72 443.15h1.52v7.08h-1.52zM280.15 443.15h3.01v7.08h-3.01zM284.62 443.15h4.51v7.08h-4.51zM292.08 443.15h3.01v7.08h-3.01zM298.05 443.15h3.01v7.08h-3.01zM302.53 443.15h4.51v7.08h-4.51zM312.97 443.15h1.52v7.08h-1.52zM317.45 443.15h1.52v7.08h-1.52zM320.43 443.15h1.52v7.08h-1.52zM324.91 443.15h3.01v7.08h-3.01zM329.38 443.15h4.51v7.08h-4.51zM335.35 443.15h3.01v7.08h-3.01zM341.32 443.15h3.01v7.08h-3.01zM353.26 443.15h1.52v7.08h-1.52zM357.73 443.15h1.52v7.08h-1.52zM366.68 443.15h1.52v7.08h-1.52zM372.65 443.15h3.01v7.08h-3.01zM377.13 443.15h1.52v7.08h-1.52zM384.59 443.15h1.52v7.08h-1.52zM393.54 443.15h3.01v7.08h-3.01zM398.02 443.15h6v7.08h-6zM405.48 443.15h1.52v7.08h-1.52zM408.46 443.15h1.52v7.08h-1.52zM412.94 443.15h6v7.08h-6zM421.89 443.15h4.51v7.08h-4.51zM429.35 443.15h4.51v7.08h-4.51zM435.32 443.15h3.01v7.08h-3.01zM441.28 443.15h3.01v7.08h-3.01zM445.76 443.15h3.01v7.08h-3.01zM454.71 443.15h1.52v7.08h-1.52zM457.7 443.15h3.01v7.08h-3.01zM462.17 443.15h1.52v7.08h-1.52zM465.16 443.15h3.01v7.08h-3.01zM469.63 443.15h4.51v7.08h-4.51zM251.8 450.2h8.98v7.08h-8.98zM262.24 450.2h3.01v7.08h-3.01zM266.72 450.2h49.27v7.08h-49.27zM317.45 450.2h10.47v7.08h-10.47zM329.38 450.2h20.92v7.08h-20.92zM351.76 450.2h7.49v7.08h-7.49zM360.72 450.2h3.01v7.08h-3.01zM251.8 457.25h64.19v7.08h-64.19zM317.45 457.25h32.85v7.08h-32.85zM351.76 457.25h7.49v7.08h-7.49zM360.72 457.25h3.01v7.08h-3.01zM251.8 464.3h8.98v7.08h-8.98zM262.24 464.3h53.74v7.08h-53.74zM317.45 464.3h26.89v7.08h-26.89zM345.8 464.3h4.51v7.08h-4.51zM351.76 464.3h7.49v7.08h-7.49zM360.72 464.3h3.01v7.08h-3.01zM372.65 464.3h1.52v7.08h-1.52zM402.49 464.3h1.52v7.08h-1.52zM251.8 471.35h64.19v7.08h-64.19zM317.45 471.35h32.85v7.08h-32.85zM351.76 471.35h7.49v7.08h-7.49zM360.72 471.35h3.01v7.08h-3.01zM402.49 471.35h1.52v7.08h-1.52zM254.78 478.4h3.01v7.08h-3.01zM260.75 478.4h4.51v7.08h-4.51zM266.72 478.4h1.52v7.08h-1.52zM280.15 478.4h3.01v7.08h-3.01zM284.62 478.4h4.51v7.08h-4.51zM292.08 478.4h3.01v7.08h-3.01zM298.05 478.4h3.01v7.08h-3.01zM302.53 478.4h4.51v7.08h-4.51zM312.97 478.4h1.52v7.08h-1.52zM317.45 478.4h1.52v7.08h-1.52zM320.43 478.4h1.52v7.08h-1.52zM324.91 478.4h3.01v7.08h-3.01zM329.38 478.4h4.51v7.08h-4.51zM335.35 478.4h3.01v7.08h-3.01zM341.32 478.4h3.01v7.08h-3.01zM353.26 478.4h1.52v7.08h-1.52zM357.73 478.4h1.52v7.08h-1.52zM366.68 478.4h1.52v7.08h-1.52zM372.65 478.4h3.01v7.08h-3.01zM377.13 478.4h1.52v7.08h-1.52zM384.59 478.4h1.52v7.08h-1.52zM393.54 478.4h3.01v7.08h-3.01zM398.02 478.4h6v7.08h-6zM405.48 478.4h1.52v7.08h-1.52zM408.46 478.4h1.52v7.08h-1.52zM412.94 478.4h6v7.08h-6zM421.89 478.4h4.51v7.08h-4.51zM429.35 478.4h4.51v7.08h-4.51zM435.32 478.4h3.01v7.08h-3.01zM441.28 478.4h3.01v7.08h-3.01zM445.76 478.4h3.01v7.08h-3.01zM454.71 478.4h1.52v7.08h-1.52zM457.7 478.4h3.01v7.08h-3.01zM462.17 478.4h1.52v7.08h-1.52zM465.16 478.4h3.01v7.08h-3.01zM469.63 478.4h4.51v7.08h-4.51zM251.8 485.45h64.19v7.08h-64.19zM317.45 485.45h41.81v7.08h-41.81zM360.72 485.45h3.01v7.08h-3.01zM380.11 485.45h1.52v7.08h-1.52z"/>
<path fill="#5218f5" d="M363.7 422h111.93v7.08h-111.93zM260.75 436.1h1.52v7.08h-1.52zM315.96 436.1h1.52v7.08h-1.52zM350.27 436.1h1.52v7.08h-1.52zM359.22 436.1h1.52v7.08h-1.52zM363.7 436.1h38.82v7.08h-38.82zM403.98 436.1h71.65v7.08h-71.65zM251.8 443.15h3.01v7.08h-3.01zM257.77 443.15h3.01v7.08h-3.01zM265.23 443.15h1.52v7.08h-1.52zM268.21 443.15h11.97v7.08h-11.97zM283.13 443.15h1.52v7.08h-1.52zM289.1 443.15h3.01v7.08h-3.01zM295.07 443.15h3.01v7.08h-3.01zM301.04 443.15h1.52v7.08h-1.52zM307 443.15h6v7.08h-6zM314.46 443.15h3.01v7.08h-3.01zM318.94 443.15h1.52v7.08h-1.52zM321.92 443.15h3.01v7.08h-3.01zM327.89 443.15h1.52v7.08h-1.52zM333.86 443.15h1.52v7.08h-1.52zM338.34 443.15h3.01v7.08h-3.01zM344.3 443.15h8.98v7.08h-8.98zM354.75 443.15h3.01v7.08h-3.01zM359.22 443.15h7.49v7.08h-7.49zM368.18 443.15h4.51v7.08h-4.51zM375.64 443.15h1.52v7.08h-1.52zM378.62 443.15h6v7.08h-6zM386.08 443.15h7.49v7.08h-7.49zM396.52 443.15h1.52v7.08h-1.52zM403.98 443.15h1.52v7.08h-1.52zM406.97 443.15h1.52v7.08h-1.52zM409.95 443.15h3.01v7.08h-3.01zM418.9 443.15h3.01v7.08h-3.01zM426.36 443.15h3.01v7.08h-3.01zM433.82 443.15h1.52v7.08h-1.52zM438.3 443.15h3.01v7.08h-3.01zM444.27 443.15h1.52v7.08h-1.52zM448.74 443.15h6v7.08h-6zM456.2 443.15h1.52v7.08h-1.52zM460.68 443.15h1.52v7.08h-1.52zM463.66 443.15h1.52v7.08h-1.52zM468.14 443.15h1.52v7.08h-1.52zM474.11 443.15h1.52v7.08h-1.52zM260.75 450.2h1.52v7.08h-1.52zM265.23 450.2h1.52v7.08h-1.52zM315.96 450.2h1.52v7.08h-1.52zM327.89 450.2h1.52v7.08h-1.52zM350.27 450.2h1.52v7.08h-1.52zM359.22 450.2h1.52v7.08h-1.52zM363.7 450.2h111.93v7.08h-111.93zM315.96 457.25h1.52v7.08h-1.52zM350.27 457.25h1.52v7.08h-1.52zM359.22 457.25h1.52v7.08h-1.52zM363.7 457.25h111.93v7.08h-111.93zM260.75 464.3h1.52v7.08h-1.52zM315.96 464.3h1.52v7.08h-1.52zM344.3 464.3h1.52v7.08h-1.52zM350.27 464.3h1.52v7.08h-1.52zM359.22 464.3h1.52v7.08h-1.52zM363.7 464.3h8.98v7.08h-8.98zM374.14 464.3h28.38v7.08h-28.38zM403.98 464.3h71.65v7.08h-71.65zM315.96 471.35h1.52v7.08h-1.52zM350.27 471.35h1.52v7.08h-1.52zM359.22 471.35h1.52v7.08h-1.52zM363.7 471.35h38.82v7.08h-38.82zM403.98 471.35h71.65v7.08h-71.65zM251.8 478.4h3.01v7.08h-3.01zM257.77 478.4h3.01v7.08h-3.01zM265.23 478.4h1.52v7.08h-1.52zM268.21 478.4h11.97v7.08h-11.97zM283.13 478.4h1.52v7.08h-1.52zM289.1 478.4h3.01v7.08h-3.01zM295.07 478.4h3.01v7.08h-3.01zM301.04 478.4h1.52v7.08h-1.52zM307 478.4h6v7.08h-6zM314.46 478.4h3.01v7.08h-3.01zM318.94 478.4h1.52v7.08h-1.52zM321.92 478.4h3.01v7.08h-3.01zM327.89 478.4h1.52v7.08h-1.52zM333.86 478.4h1.52v7.08h-1.52zM338.34 478.4h3.01v7.08h-3.01zM344.3 478.4h8.98v7.08h-8.98zM354.75 478.4h3.01v7.08h-3.01zM359.22 478.4h7.49v7.08h-7.49zM368.18 478.4h4.51v7.08h-4.51zM375.64 478.4h1.52v7.08h-1.52zM378.62 478.4h6v7.08h-6zM386.08 478.4h7.49v7.08h-7.49zM396.52 478.4h1.52v7.08h-1.52zM403.98 478.4h1.52v7.08h-1.52zM406.97 478.4h1.52v7.08h-1.52zM409.95 478.4h3.01v7.08h-3.01zM418.9 478.4h3.01v7.08h-3.01zM426.36 478.4h3.01v7.08h-3.01zM433.82 478.4h1.52v7.08h-1.52zM438.3 478.4h3.01v7.08h-3.01zM444.27 478.4h1.52v7.08h-1.52zM448.74 478.4h6v7.08h-6zM456.2 478.4h1.52v7.08h-1.52zM460.68 478.4h1.52v7.08h-1.52zM463.66 478.4h1.52v7.08h-1.52zM468.14 478.4h1.52v7.08h-1.52zM474.11 478.4h1.52v7.08h-1.52zM315.96 485.45h1.52v7.08h-1.52zM359.22 485.45h1.52v7.08h-1.52zM363.7 485.45h16.44v7.08h-16.44zM381.6 485.45h94.03v7.08h-94.03z"/>
<path fill="#f8fd14" d="M251.8 429.05h8.98v7.08h-8.98zM262.24 429.05h53.74v7.08h-53.74zM317.45 429.05h32.85v7.08h-32.85zM351.76 429.05h7.49v7.08h-7.49zM360.72 429.05h41.81v7.08h-41.81zM403.98 429.05h71.65v7.08h-71.65z"/>
<rect x="251.8" y="422" width="223.8" height="70.5" fill="url(#vgrid)"/>
<path d="M251.8 429.05H475.6M251.8 436.1H475.6M251.8 443.15H475.6M251.8 450.2H475.6M251.8 457.25H475.6M251.8 464.3H475.6M251.8 471.35H475.6M251.8 478.4H475.6M251.8 485.45H475.6" stroke="#fff" stroke-opacity="0.4" stroke-width="0.6"/>
<g font-family="Liberation Sans, Arial, sans-serif" font-size="3.9" fill="#333" text-anchor="end">
<text x="250.4" y="426.92">OrigCls</text>
<text x="250.4" y="433.97">Misclassified</text>
<text x="250.4" y="441.02">GrandMajority</text>
<text x="250.4" y="448.07">lda</text>
<text x="250.4" y="455.12">knn</text>
<text x="250.4" y="462.17">rf</text>
<text x="250.4" y="469.22">SVM</text>
<text x="250.4" y="476.27">nb</text>
<text x="250.4" y="483.32">Multinom</text>
<text x="250.4" y="490.37">JRip</text>
</g>
<path d="M248.5 494.1H475.6" stroke="#e2c4c4" stroke-width="0.45"/>
<text x="364" y="417.8" font-family="Liberation Sans, Arial, sans-serif" font-size="6.4" text-anchor="middle" fill="#111">Classes and misclassifications _ 101</text>
<rect x="477.2" y="421.1" width="54.4" height="71.7" fill="#fff" stroke="#999" stroke-width="0.5"/>
<rect x="477.4" y="430.15" width="1.5" height="4.7" fill="#d6cfb8" stroke="#b3aa92" stroke-width="0.3"/>
<rect x="477.4" y="437.2" width="1.3" height="4.7" fill="#d6cfb8" stroke="#b3aa92" stroke-width="0.3"/>
<rect x="477.4" y="444.25" width="26.7" height="4.7" fill="#d6cfb8" stroke="#b3aa92" stroke-width="0.3"/>
<rect x="477.4" y="451.3" width="0.8" height="4.7" fill="#d6cfb8" stroke="#b3aa92" stroke-width="0.3"/>
<rect x="477.4" y="458.35" width="0.8" height="4.7" fill="#d6cfb8" stroke="#b3aa92" stroke-width="0.3"/>
<rect x="477.4" y="465.4" width="1.5" height="4.7" fill="#d6cfb8" stroke="#b3aa92" stroke-width="0.3"/>
<rect x="477.4" y="472.45" width="0.8" height="4.7" fill="#d6cfb8" stroke="#b3aa92" stroke-width="0.3"/>
<rect x="477.4" y="479.5" width="26.7" height="4.7" fill="#d6cfb8" stroke="#b3aa92" stroke-width="0.3"/>
<rect x="477.4" y="486.55" width="0.8" height="4.7" fill="#d6cfb8" stroke="#b3aa92" stroke-width="0.3"/>
<path d="M477.2 492.8v1.4" stroke="#777" stroke-width="0.35"/>
<text transform="translate(478.5,494.8) rotate(-90)" text-anchor="end" font-family="Liberation Sans, Arial, sans-serif" font-size="3.6" fill="#333">0</text>
<path d="M493.6 492.8v1.4" stroke="#777" stroke-width="0.35"/>
<text transform="translate(494.9,494.8) rotate(-90)" text-anchor="end" font-family="Liberation Sans, Arial, sans-serif" font-size="3.6" fill="#333">50</text>
<path d="M510 492.8v1.4" stroke="#777" stroke-width="0.35"/>
<text transform="translate(511.3,494.8) rotate(-90)" text-anchor="end" font-family="Liberation Sans, Arial, sans-serif" font-size="3.6" fill="#333">100</text>
<path d="M526.4 492.8v1.4" stroke="#777" stroke-width="0.35"/>
<text transform="translate(527.7,494.8) rotate(-90)" text-anchor="end" font-family="Liberation Sans, Arial, sans-serif" font-size="3.6" fill="#333">150</text>
<text x="503.8" y="508" font-family="Liberation Sans, Arial, sans-serif" font-size="5.8" text-anchor="middle" fill="#222">Sum</text>
<rect x="534.2" y="449" width="5.3" height="5.35" fill="#5218f5"/>
<text x="540.8" y="453.2" font-family="Liberation Sans, Arial, sans-serif" font-size="4.5" fill="#333">2</text>
<rect x="534.2" y="454.3" width="5.3" height="5.35" fill="#1cf858"/>
<text x="540.8" y="458.5" font-family="Liberation Sans, Arial, sans-serif" font-size="4.5" fill="#333">1</text>
<rect x="534.2" y="459.6" width="5.3" height="5.35" fill="#f8fd14"/>
<text x="540.8" y="463.8" font-family="Liberation Sans, Arial, sans-serif" font-size="4.5" fill="#333">0</text>
<text x="8.8" y="517.5" font-family="Liberation Sans, Arial, sans-serif" font-weight="bold" font-size="7.4" fill="#111">F</text>
<path d="M23.7 597.4l37 -28.9M32.1 597.4l37 -28.9M40.5 597.4l37 -28.9M48.9 597.4l37 -28.9M57.3 597.4l37 -28.9M21.47 592.58h50.4M27.63 587.77h50.4M33.8 582.95h50.4M39.97 578.13h50.4M46.13 573.32h50.4" stroke="#c9c9c9" stroke-width="0.4" fill="none"/>
<path d="M15.3 548.3h50.4v49.1h-50.4zM52.3 519.4h50.4v49.1h-50.4zM15.3 548.3l37 -28.9M65.7 548.3l37 -28.9M15.3 597.4l37 -28.9M65.7 597.4l37 -28.9M15.3 597.4h-0.9M15.3 597.4v0.9M15.3 589.22h-0.9M23.7 597.4v0.9M15.3 581.03h-0.9M32.1 597.4v0.9M15.3 572.85h-0.9M40.5 597.4v0.9M15.3 564.67h-0.9M48.9 597.4v0.9M15.3 556.48h-0.9M57.3 597.4v0.9M15.3 548.3h-0.9M65.7 597.4v0.9" stroke="#262626" stroke-width="0.5" fill="none"/>
<g font-family="Liberation Sans, Arial, sans-serif" font-size="4.4" fill="#262626" text-anchor="middle">
<text x="15.3" y="602.4">-1.5</text>
<text x="23.7" y="602.4">-1.0</text>
<text x="32.1" y="602.4">-0.5</text>
<text x="40.5" y="602.4">0.0</text>
<text x="48.9" y="602.4">0.5</text>
<text x="57.3" y="602.4">1.0</text>
<text x="65.7" y="602.4">1.5</text>
<text transform="translate(13.4,597.4) rotate(-90)">-1.5</text>
<text transform="translate(13.4,589.22) rotate(-90)">-1.0</text>
<text transform="translate(13.4,581.03) rotate(-90)">-0.5</text>
<text transform="translate(13.4,572.85) rotate(-90)">0.0</text>
<text transform="translate(13.4,564.67) rotate(-90)">0.5</text>
<text transform="translate(13.4,556.48) rotate(-90)">1.0</text>
<text transform="translate(13.4,548.3) rotate(-90)">1.5</text>
<text transform="translate(71.3,598.6) rotate(-72)" font-size="4.1">-1.5</text>
<text transform="translate(77.47,593.78) rotate(-72)" font-size="4.1">-1.0</text>
<text transform="translate(83.63,588.97) rotate(-72)" font-size="4.1">-0.5</text>
<text transform="translate(89.8,584.15) rotate(-72)" font-size="4.1">0.0</text>
<text transform="translate(95.97,579.33) rotate(-72)" font-size="4.1">0.5</text>
<text transform="translate(102.13,574.52) rotate(-72)" font-size="4.1">1.0</text>
<text transform="translate(108.3,569.7) rotate(-72)" font-size="4.1">1.5</text>
</g>
<path d="M68.84 557.16h0M61.11 548.57h0M76.56 553.4h0M85.68 534.41h0M61.75 543.88h0M60.83 545.46h0M58.78 542.57h0M57.84 557h0M75.41 566.99h0M67.56 538.98h0M71.27 541.28h0M61.52 549.54h0M74.51 553.39h0M72.8 548.68h0M80.6 570.43h0M71.03 573.6h0M74.9 565.56h0M79.07 569.29h0M63.08 572.07h0M48.66 571.5h0M61.37 566.64h0M55.89 561.56h0M55.14 558.52h0M66.72 538.13h0M64.78 542h0M71.65 572h0M75.36 535.53h0M65.42 569.57h0M76.71 550.23h0M54.77 570.16h0M71.14 543.78h0M42.14 537.83h0M73.09 567.67h0M66.92 556.65h0M62.92 554.32h0M72.72 539.1h0M77.51 547.81h0M70.89 542.05h0M49.8 573.74h0M66.45 538.2h0M70.33 541.2h0M71.47 548.56h0M63.82 554.48h0M53.67 556.45h0M77.13 573.53h0M55.71 556.26h0M84.39 543.17h0M82.56 559.02h0M49.02 532.86h0M71.48 546.57h0" stroke="#5214ee" stroke-width="2.6" stroke-linecap="round"/>
<path d="M65.11 565.66h0M52.73 559.11h0M71.97 562.65h0M50.26 564.46h0M46.59 564.5h0M39.31 567.99h0M32.67 570.18h0M56.19 560.77h0M62.3 558.53h0M55.32 558.65h0M56.6 559.72h0" stroke="#14ff3e" stroke-width="2.6" stroke-linecap="round"/>
<path d="M62.51 554.15h0M61.47 538.92h0M64.44 540.44h0M64.95 539.83h0M68.02 537.03h0M56.53 537.11h0M49.25 550.92h0M58.96 557.05h0M70.52 553.5h0M51.28 556.79h0M69.24 570.23h0M53.24 538.26h0M74.73 552.51h0M71.45 567.52h0M54.17 543.27h0M69.73 538.96h0M72.74 570.13h0M57.86 547.95h0M72.23 549.53h0M70.5 549.87h0M70.51 542.61h0M52.76 569.26h0M68.25 551.81h0M67.92 556.42h0M81.05 538.57h0M67.01 555.26h0M65.53 543.85h0M57.11 573.48h0M80.45 566.29h0M72.13 573.1h0M57.15 545.74h0M65.84 542.14h0M57.87 568.35h0M81.51 543.84h0M60.58 541.96h0M68.89 560.83h0M54.58 540.68h0M64.34 555.47h0M68.17 538.58h0" stroke="#5214ee" stroke-width="2.6" stroke-linecap="round"/>
<path d="M41.07 562.22h0M56.73 566.66h0M45.4 564.14h0M37.62 569.2h0M37.23 572.68h0M39.98 571.78h0M29.43 568.33h0M49.45 565.11h0M68.72 556.17h0M40.65 559.72h0M43.47 566.84h0M32.72 570.97h0M83.68 555.37h0M76.08 562.97h0M36.69 563.75h0M29.23 565.64h0M74.16 557.02h0M27.39 567.76h0M69.53 559.38h0M49.11 565.45h0M61.8 562.67h0M84.07 554.83h0" stroke="#14ff3e" stroke-width="2.6" stroke-linecap="round"/>
<path d="M63.87 540.9h0M70.32 542.55h0M58.59 566.98h0M52.84 575.43h0M65.21 539.5h0M79.74 570.39h0M68.82 540.17h0M76.35 555.07h0M72.78 542.21h0M73.34 560.94h0M59.26 549.75h0M58.81 556.84h0M82.89 549.04h0M68.1 539.39h0M58.45 548.41h0M67.46 539.27h0M52.9 570.91h0M65.7 556.66h0M64.93 556.69h0M56.72 541.39h0M68.36 539.59h0M59.85 547.82h0M70.78 550.42h0M72.35 547.16h0M58.44 563.84h0M76.56 545.69h0M66.27 563.11h0M76.26 546.18h0" stroke="#5214ee" stroke-width="2.6" stroke-linecap="round"/>
<path d="M64.7 552.9h0M40.83 567.72h0M46.16 571.87h0M50.56 559.36h0M33.1 567.43h0M82.18 557.16h0M48.93 566.74h0M52.88 558.06h0M28.63 568.51h0M80.35 555.48h0M77.09 557.82h0M66.53 557.51h0M35.99 571.79h0M42.95 566.96h0M44.13 560.09h0M63.68 557.21h0M67.13 558.08h0M37.91 564.96h0" stroke="#14ff3e" stroke-width="2.6" stroke-linecap="round"/>
<path d="M59.47 574.21h0M53.82 570.26h0M61.11 542.94h0M63.39 539.31h0M72.3 545.36h0M61.6 554.32h0M71.12 542.45h0M60.75 545.79h0M55.04 553.84h0M63.26 555.25h0M63.82 569.54h0M61.13 538.94h0M56.76 571.17h0M60.66 544.41h0M54.52 541.29h0M58.39 572.23h0M69.43 538.42h0M75.17 568.8h0M55.68 542.59h0M59.1 558.43h0M64.12 540.76h0M71.76 569.31h0M52.36 573.41h0M61.22 546.01h0M49.46 572.28h0M71.25 571.61h0M80.2 538.26h0M55.37 567.08h0M69.32 573.78h0M61.18 541.89h0M61.8 548.54h0M69.28 554.62h0" stroke="#5214ee" stroke-width="2.6" stroke-linecap="round"/>
<path d="M75.71 559.09h0M28.78 567.13h0M33.4 568.83h0M38.89 567.35h0M47.91 561.77h0M72.37 564.21h0M79.84 556.41h0M75.73 560.81h0M29.05 572.87h0M71.09 556.75h0M67.48 556.48h0M38.8 567.31h0M33.21 567.77h0M70.14 559.46h0M70.39 558.49h0M79.35 558.87h0M44.95 571.37h0M53.44 570.5h0M69.8 557.52h0" stroke="#14ff3e" stroke-width="2.6" stroke-linecap="round"/>
<path d="M70.88 542.1h0M71.13 545.17h0M57.83 548.68h0M59.23 537.14h0M50.16 539.35h0M59.02 548.32h0M61.34 572.47h0M54.17 567.91h0M67.45 539.64h0M42.35 538.9h0M59.25 540.68h0M61.32 544.09h0M63.73 540.44h0M59.65 539.63h0M56.96 557.04h0M68.77 541.42h0M55.62 566.69h0M67.49 569.39h0M71.83 546.98h0M77.06 567.89h0M58.5 554.38h0M59.96 566.31h0M61.85 540.36h0M59.46 558.79h0M79.2 552.23h0M60.21 544.37h0M59.08 562.99h0M70.84 552.7h0M71.63 546.31h0M72.32 549.09h0M62.32 541.86h0" stroke="#5214ee" stroke-width="2.6" stroke-linecap="round"/>
<path d="M68.41 557.75h0M75.7 560.79h0M54.9 566.92h0M32.43 566.01h0M61.44 563.36h0M74.33 557.38h0M28.77 570.58h0M72.25 559.6h0M39.38 562.44h0M71.99 559.09h0M44.12 560.42h0" stroke="#14ff3e" stroke-width="2.6" stroke-linecap="round"/>
<path d="M69.95 559.74h0M58.22 561.01h0M63.57 541.15h0M61.01 545.65h0M71.6 554.47h0M56.61 558.83h0M67.88 568.92h0M62.29 538.72h0M60.17 550.02h0M61.74 550.65h0M62.31 553.3h0M67.87 572.04h0M68.68 568.41h0M70.6 571.69h0M75.37 544.78h0M68.22 556.19h0M66.23 538.67h0M62.97 545.94h0M74.97 560.64h0M71.09 545.72h0M71.33 549.2h0M66.31 555.95h0M59.59 570.2h0M82.64 536.79h0M75.02 571.63h0M59.2 571.62h0M71.99 545.95h0M57.26 557.2h0M59.94 552.99h0M68.68 540.74h0M65.79 541.27h0M67.13 538.59h0M62.93 552.13h0M49.79 569.73h0M65.64 539.2h0M71.71 574.24h0M64.16 567.72h0M78.63 545.5h0M58.03 536.52h0" stroke="#5214ee" stroke-width="2.6" stroke-linecap="round"/>
<path d="M77.45 560.63h0M59.11 567.65h0M33.2 567.8h0M62.44 559.82h0M39.19 562.59h0M73.98 556.74h0M38.12 568.68h0M79.12 555.6h0M72.55 565.84h0M51.47 561.02h0M46.85 565.81h0M48.52 561.82h0M58.69 566.29h0M58.54 569.74h0M82.41 556.83h0M29.37 570.23h0M27.15 569.33h0M41.52 568.42h0M34.11 563.07h0" stroke="#14ff3e" stroke-width="2.6" stroke-linecap="round"/>
<path d="M56.33 566.86h0M61.91 565.9h0M82.96 541.19h0M60.63 571.7h0M80.17 546.73h0M64.18 539.3h0M71.45 551.31h0M72.49 567.89h0M54.74 540.69h0M65.78 548.37h0M65.84 539.07h0M57.52 548.49h0M57.46 551.37h0M71.15 544.05h0M85.7 541.66h0M77.35 571.02h0M65.52 538.42h0M58.12 544.74h0M61.86 572.37h0M62.45 543.88h0M53.84 573.72h0M65.42 535.81h0M65.53 542.82h0M68.01 540.96h0M63.53 540.69h0M57.98 546.83h0M73.43 542.3h0M76.32 540.47h0M78.57 552.35h0M75.4 570h0M60.44 549.33h0" stroke="#5214ee" stroke-width="2.6" stroke-linecap="round"/>
<path d="M46.02 561h0M54.48 570.65h0M73.19 565.14h0M32.04 574.06h0M75.86 562.74h0M73.22 559.94h0M47.93 567.74h0M55.58 560.67h0M37.63 572.65h0M34.9 567.13h0M77.38 555.35h0M80.29 556.67h0M75.59 560.11h0M39.91 567.97h0M82.58 554.85h0M52.23 561.38h0M35.82 564.36h0" stroke="#14ff3e" stroke-width="2.6" stroke-linecap="round"/>
<path d="M63.87 539.97h0M70.22 556.35h0M80.23 555.21h0M67.44 553.83h0M64.38 539.37h0M65.37 537.89h0M49.13 572.41h0M60.07 571.32h0M60.96 537.55h0M75.74 539.32h0M54.99 562.01h0M65.1 556.5h0M49.29 570.21h0M58.57 544.63h0M72.79 543.72h0M68.83 554.84h0M79.05 548.42h0M81.86 558.5h0M61.74 550.94h0M62.25 539.67h0M70.39 554.6h0M82.09 556.04h0M73.18 571.39h0M85.11 549.47h0M57.86 563.54h0M65.51 558.47h0M60.07 547.99h0M64 571.12h0M69.95 553.91h0M64.87 556.89h0M90.81 559.82h0M69.54 553.52h0M57.9 561.79h0" stroke="#5214ee" stroke-width="2.6" stroke-linecap="round"/>
<path d="M47.25 565.08h0M67.03 565.07h0M68.39 563.89h0M52.29 564h0M48.62 559.86h0M73.29 557.77h0M41.52 569.97h0M69.73 565.84h0M76.24 558.99h0M44.16 567.32h0M82.54 556.88h0M78.71 560.87h0M60.51 559.51h0M47.37 566.05h0M69.39 558.1h0M74.75 555.65h0M58.39 554.82h0M50.8 558.54h0M64.48 552.02h0M52.58 564h0M37.9 567.32h0M57.01 560.86h0" stroke="#14ff3e" stroke-width="2.6" stroke-linecap="round"/>
<path d="M73.54 554.84h0M48.19 573.86h0M56.1 559.27h0M69.08 556.27h0M56.84 546.59h0M56.44 537.71h0M58.84 554.18h0M71.19 548.95h0M55.05 547.19h0M71.69 562.14h0M61.43 550.47h0M78.87 569.47h0M53.38 572.23h0M61.75 558.36h0M70.55 545.43h0M56.35 572h0M61.58 554.66h0M68.79 570.57h0M66.3 539.74h0M73.96 549.29h0M56.83 560.69h0M65.14 538.98h0M63.73 571.94h0M78.46 554.1h0M56.8 570.39h0M80.6 567.25h0M71.61 543.14h0M71.72 548.12h0" stroke="#5214ee" stroke-width="2.6" stroke-linecap="round"/>
<path d="M74.19 556.55h0M37.29 566.37h0M60.31 561.71h0M52.83 563.17h0M54.67 568.8h0M39.98 569.48h0M43.17 563.28h0M78.36 556.63h0M33.69 567.44h0M66.57 564.5h0M30.23 565.9h0M38.58 567.12h0M45.83 571.42h0M52.05 555.31h0M50.45 561.67h0M48.08 564.93h0M77.76 558.29h0" stroke="#14ff3e" stroke-width="2.6" stroke-linecap="round"/>
<path d="M63.59 540.75h0M58.32 554.86h0M62.64 551.72h0M60.86 549.08h0M58.76 552.42h0M79.39 567.99h0M59.96 566.5h0M64.38 542.7h0M59.12 549.99h0M65.46 541.79h0M48.38 570h0M66.94 567.28h0M65.92 555.72h0M44.15 536.59h0M65.61 566.63h0M62.07 573.65h0M75.74 573.29h0M70.66 540.81h0M56.86 550.36h0M76.34 571h0M70.35 559.51h0M57.68 570.9h0M56.61 562.55h0M52.09 542.31h0M91.5 555.25h0M67.18 537.79h0M72.54 550.84h0M55.58 546.54h0M83.19 552.91h0M56.77 551.73h0M62.03 547.73h0M52.76 539.65h0M57.76 538.04h0" stroke="#5214ee" stroke-width="2.6" stroke-linecap="round"/>
<path d="M62.48 567.07h0M58.69 562.4h0M53.3 554.92h0M66.5 555.49h0M68.25 558.41h0M35.21 565.09h0M71.4 556.29h0M85.41 562.52h0M42.65 559.64h0M30.45 570.17h0M76.51 560.92h0M54.13 567.57h0M35.37 569.06h0M44 560.86h0M46.53 560.96h0M62.7 561.16h0M42.71 567.17h0M35.51 565.32h0M76.59 560.68h0M49.9 566.11h0M60.76 558.8h0M45.95 564.65h0M70.2 559.65h0M37.18 564.27h0M58.6 564.15h0M77.65 554.52h0" stroke="#14ff3e" stroke-width="2.6" stroke-linecap="round"/>
<path d="M67.82 540.43h0M58.47 570.43h0M49.58 539.74h0M61.87 537.74h0M70.48 539.05h0M49.74 569.8h0M53.74 536.31h0M55.04 566.63h0M75.72 548.77h0M54.55 568.32h0M75.77 538.16h0M54.9 560.12h0M70.08 542.54h0M49.1 571.08h0M64.74 540.27h0M59.22 571.78h0M60.69 548.19h0M64.58 573.28h0M81.12 556.35h0M66.67 554.61h0M64.47 539.55h0M55.78 570.8h0M62.25 546.27h0M76.31 554.26h0" stroke="#5214ee" stroke-width="2.6" stroke-linecap="round"/>
<path d="M56.52 556.31h0M55.95 560h0M67.09 564.26h0M61.94 554.15h0M68.59 558.12h0M40.39 569.84h0M57.59 561.74h0M46.23 560.76h0M60.53 565.5h0M77.99 556.28h0M30.29 569.88h0M74.07 559.04h0M35.11 571.92h0M33.02 568h0M71.51 562.6h0M37.61 563.76h0M65.22 557.4h0M76.56 560.86h0M27.37 566.34h0M70.26 560.85h0M35.99 569.72h0M26.71 563.94h0M27.83 568.25h0M65.61 557.28h0M39.78 565.51h0M59.54 564.94h0M61.91 562.95h0M82.02 556.35h0M34.38 568.49h0M39.41 567.77h0M36.73 567.7h0M29.39 566.88h0M82.12 562.6h0M33.53 571.52h0M74.92 563.16h0M56.37 564.18h0M76.94 559.04h0M74.78 559.07h0M72.66 557.16h0M58.67 560.44h0M61.66 566.74h0M50.23 565.87h0M66.34 559.1h0M62.17 562.36h0M71.16 564.4h0M51.88 564.15h0M47.36 566.17h0M66.27 561.2h0" stroke="#14ff3e" stroke-width="2.6" stroke-linecap="round"/>
<path d="M67.46 536.62h0M62.82 554.56h0" stroke="#5214ee" stroke-width="2.6" stroke-linecap="round"/>
<path d="M131.7 597.4l37 -28.9M140.1 597.4l37 -28.9M148.5 597.4l37 -28.9M156.9 597.4l37 -28.9M165.3 597.4l37 -28.9M129.47 592.58h50.4M135.63 587.77h50.4M141.8 582.95h50.4M147.97 578.13h50.4M154.13 573.32h50.4" stroke="#c9c9c9" stroke-width="0.4" fill="none"/>
<path d="M123.3 548.3h50.4v49.1h-50.4zM160.3 519.4h50.4v49.1h-50.4zM123.3 548.3l37 -28.9M173.7 548.3l37 -28.9M123.3 597.4l37 -28.9M173.7 597.4l37 -28.9M123.3 597.4h-0.9M123.3 597.4v0.9M123.3 589.22h-0.9M131.7 597.4v0.9M123.3 581.03h-0.9M140.1 597.4v0.9M123.3 572.85h-0.9M148.5 597.4v0.9M123.3 564.67h-0.9M156.9 597.4v0.9M123.3 556.48h-0.9M165.3 597.4v0.9M123.3 548.3h-0.9M173.7 597.4v0.9" stroke="#262626" stroke-width="0.5" fill="none"/>
<g font-family="Liberation Sans, Arial, sans-serif" font-size="4.4" fill="#262626" text-anchor="middle">
<text x="123.3" y="602.4">-1.5</text>
<text x="131.7" y="602.4">-1.0</text>
<text x="140.1" y="602.4">-0.5</text>
<text x="148.5" y="602.4">0.0</text>
<text x="156.9" y="602.4">0.5</text>
<text x="165.3" y="602.4">1.0</text>
<text x="173.7" y="602.4">1.5</text>
<text transform="translate(121.4,597.4) rotate(-90)">-1.5</text>
<text transform="translate(121.4,589.22) rotate(-90)">-1.0</text>
<text transform="translate(121.4,581.03) rotate(-90)">-0.5</text>
<text transform="translate(121.4,572.85) rotate(-90)">0.0</text>
<text transform="translate(121.4,564.67) rotate(-90)">0.5</text>
<text transform="translate(121.4,556.48) rotate(-90)">1.0</text>
<text transform="translate(121.4,548.3) rotate(-90)">1.5</text>
<text transform="translate(179.3,598.6) rotate(-72)" font-size="4.1">-1.5</text>
<text transform="translate(185.47,593.78) rotate(-72)" font-size="4.1">-1.0</text>
<text transform="translate(191.63,588.97) rotate(-72)" font-size="4.1">-0.5</text>
<text transform="translate(197.8,584.15) rotate(-72)" font-size="4.1">0.0</text>
<text transform="translate(203.97,579.33) rotate(-72)" font-size="4.1">0.5</text>
<text transform="translate(210.13,574.52) rotate(-72)" font-size="4.1">1.0</text>
<text transform="translate(216.3,569.7) rotate(-72)" font-size="4.1">1.5</text>
</g>
<path d="M144.78 570.18h0M158.21 570.18h0M182.19 558.58h0M175.09 565.95h0M142.43 567.77h0M162.74 569.37h0M180.71 557.87h0M165.41 555.77h0M142.05 564.43h0M143.71 567.75h0M143.32 568.09h0M146.58 559.58h0M182.63 558.87h0M161.66 570.9h0M150.88 570.26h0M158.84 556.89h0M150.73 569.85h0M153.63 556.88h0M178.72 557.44h0M180.17 556.82h0M147.51 569.59h0M181.22 561.25h0M175 566.17h0" stroke="#14ff3e" stroke-width="2.4" stroke-linecap="round"/>
<path d="M163.4 566.13h0M179.25 562.23h0M169.88 538.71h0M164.82 548.01h0M163.15 563.55h0M168.47 573.09h0M181.06 556.24h0M176.57 567.15h0M167.22 541.99h0M180.16 560.11h0M180.54 538.94h0M164.09 553.47h0M181.2 555.71h0M177.72 536.21h0M163.04 553.74h0M179.03 564.33h0M164.66 571.82h0M164.88 570.98h0M173.28 570.94h0M175.08 535.83h0M167.52 573.57h0M180.71 539.65h0M176.84 566.22h0" stroke="#5214ee" stroke-width="2.4" stroke-linecap="round"/>
<path d="M166.1 555.53h0M149.96 570.33h0M169.26 568.23h0M173.85 566.69h0M181.74 557.68h0M159.88 569.76h0M149.79 570.23h0M180.15 556.76h0M173.48 566.29h0M141.8 566.81h0M160.29 569.29h0M144.27 562.21h0M181.46 558.39h0M162.29 569.77h0M164.65 569.44h0M152.97 557.62h0M178.04 564.61h0M181.82 561.13h0M177 565.03h0M170.24 555.88h0M148.14 570.1h0M174.49 554.63h0M175.31 555.84h0M181.8 557.97h0M153.67 557.54h0M145.83 569.74h0" stroke="#14ff3e" stroke-width="2.4" stroke-linecap="round"/>
<path d="M166.76 572.55h0M180.75 539.49h0M162.92 565.11h0M165.55 545.4h0M164.09 548.34h0M171.94 536.76h0M169.41 573.23h0M182.12 551.25h0M163.66 567.02h0M180.79 541.2h0M177.66 536.49h0M171.24 572.8h0M181.35 543.61h0M163.22 564.72h0M175.55 568.75h0M174.7 536.38h0M168.39 540.62h0M165.93 544.04h0M165.28 545.42h0M174.92 569.82h0" stroke="#5214ee" stroke-width="2.4" stroke-linecap="round"/>
<path d="M181.44 558.79h0M157.67 569.57h0M181.79 557.67h0M143.51 561.92h0M155.69 569.97h0M149.85 569.47h0M170.53 568.19h0M180.92 563.15h0M149.45 569.83h0M172.11 567.67h0M177.92 564.5h0M174.99 555.5h0M181.48 562.09h0M159.09 556.04h0M141.8 566.41h0M178.33 563.94h0M175.02 565.6h0M141.9 566.09h0M146.24 569.64h0M169.99 555.36h0M182.53 560.03h0M149.25 559h0M142.17 564.28h0M143.69 562.55h0" stroke="#14ff3e" stroke-width="2.4" stroke-linecap="round"/>
<path d="M168 572.59h0M170.27 538.68h0M168.95 572.82h0M163.4 551.46h0M175.63 535.52h0M181.28 546.76h0M165.13 547.43h0M170.43 538.07h0M181.63 554.3h0M162.59 555.88h0M175.16 535.43h0M162.68 553.91h0M170.51 572.9h0M163.14 560.78h0M162.25 558.94h0M177.57 565.71h0M168.92 539.84h0M163.28 552.07h0M181.65 548.4h0M165.45 545.71h0M166.67 572.7h0M172.48 572.29h0" stroke="#5214ee" stroke-width="2.4" stroke-linecap="round"/>
<path d="M158.05 570.05h0M141.91 566h0M181.43 562.19h0M179.39 564.36h0M182.12 561.7h0M160.91 555.82h0M141.69 566.2h0M142.31 567.31h0M154.27 570.59h0M181.95 560.16h0M168.72 554.68h0M181.39 557.51h0M180.8 557.98h0M146.8 559.67h0M180.35 556.47h0M176.28 566.04h0M145.93 569.84h0M182.06 559.44h0M157.42 556.6h0M158 556.45h0M168.51 554.93h0M146.3 560.54h0" stroke="#14ff3e" stroke-width="2.4" stroke-linecap="round"/>
<path d="M162.99 553.54h0M175.68 535.97h0M164.92 569.61h0M165.25 545.83h0M173.85 570.74h0M163.5 569.59h0M181.07 542.62h0M172.55 537.12h0M181.75 549.6h0M162.65 554.01h0M182.1 542.74h0M180.04 559.13h0M164.48 569.47h0M178.68 563.5h0M178.61 564.9h0M173.48 571.21h0M165.24 546.44h0M162.58 557.27h0M170.59 538.24h0M182.08 544.15h0M162.34 563.57h0M181.19 554.03h0M169.5 539.47h0M163.91 550.83h0M174.56 536.08h0" stroke="#5214ee" stroke-width="2.4" stroke-linecap="round"/>
<text transform="translate(108.6,571) rotate(-90)" font-family="Liberation Sans, Arial, sans-serif" font-size="4.4" fill="#444" text-anchor="middle">x<tspan font-size="3" dy="1">3</tspan></text>
<path fill="#1cf858" d="M251.8 521h111.93v7.08h-111.93zM372.65 528.05h1.52v7.08h-1.52zM402.49 528.05h1.52v7.08h-1.52zM409.95 528.05h1.52v7.08h-1.52zM468.14 528.05h1.52v7.08h-1.52zM251.8 535.1h111.93v7.08h-111.93zM372.65 535.1h1.52v7.08h-1.52zM402.49 535.1h1.52v7.08h-1.52zM409.95 535.1h1.52v7.08h-1.52zM468.14 535.1h1.52v7.08h-1.52zM253.29 542.15h4.51v7.08h-4.51zM262.24 542.15h1.52v7.08h-1.52zM266.72 542.15h3.01v7.08h-3.01zM272.69 542.15h3.01v7.08h-3.01zM277.16 542.15h6v7.08h-6zM287.61 542.15h1.52v7.08h-1.52zM290.59 542.15h4.51v7.08h-4.51zM296.56 542.15h6v7.08h-6zM304.02 542.15h3.01v7.08h-3.01zM308.5 542.15h3.01v7.08h-3.01zM315.96 542.15h3.01v7.08h-3.01zM320.43 542.15h1.52v7.08h-1.52zM324.91 542.15h6v7.08h-6zM332.37 542.15h1.52v7.08h-1.52zM335.35 542.15h4.51v7.08h-4.51zM341.32 542.15h1.52v7.08h-1.52zM345.8 542.15h1.52v7.08h-1.52zM348.78 542.15h1.52v7.08h-1.52zM351.76 542.15h7.49v7.08h-7.49zM362.21 542.15h1.52v7.08h-1.52zM365.19 542.15h4.51v7.08h-4.51zM371.16 542.15h3.01v7.08h-3.01zM375.64 542.15h3.01v7.08h-3.01zM386.08 542.15h3.01v7.08h-3.01zM390.56 542.15h1.52v7.08h-1.52zM393.54 542.15h1.52v7.08h-1.52zM402.49 542.15h1.52v7.08h-1.52zM409.95 542.15h1.52v7.08h-1.52zM412.94 542.15h1.52v7.08h-1.52zM417.41 542.15h3.01v7.08h-3.01zM421.89 542.15h4.51v7.08h-4.51zM430.84 542.15h1.52v7.08h-1.52zM435.32 542.15h1.52v7.08h-1.52zM439.79 542.15h1.52v7.08h-1.52zM442.78 542.15h1.52v7.08h-1.52zM445.76 542.15h3.01v7.08h-3.01zM450.24 542.15h19.43v7.08h-19.43zM471.12 542.15h1.52v7.08h-1.52zM474.11 542.15h1.52v7.08h-1.52zM251.8 549.2h56.73v7.08h-56.73zM309.99 549.2h53.74v7.08h-53.74zM372.65 549.2h1.52v7.08h-1.52zM402.49 549.2h1.52v7.08h-1.52zM409.95 549.2h1.52v7.08h-1.52zM468.14 549.2h1.52v7.08h-1.52zM251.8 556.25h14.95v7.08h-14.95zM268.21 556.25h40.31v7.08h-40.31zM309.99 556.25h53.74v7.08h-53.74zM372.65 556.25h1.52v7.08h-1.52zM402.49 556.25h1.52v7.08h-1.52zM468.14 556.25h1.52v7.08h-1.52zM251.8 563.3h25.39v7.08h-25.39zM278.66 563.3h29.87v7.08h-29.87zM309.99 563.3h10.47v7.08h-10.47zM321.92 563.3h41.81v7.08h-41.81zM372.65 563.3h1.52v7.08h-1.52zM402.49 563.3h1.52v7.08h-1.52zM468.14 563.3h1.52v7.08h-1.52zM251.8 570.35h111.93v7.08h-111.93zM372.65 570.35h1.52v7.08h-1.52zM402.49 570.35h1.52v7.08h-1.52zM468.14 570.35h1.52v7.08h-1.52zM253.29 577.4h4.51v7.08h-4.51zM262.24 577.4h1.52v7.08h-1.52zM266.72 577.4h3.01v7.08h-3.01zM272.69 577.4h3.01v7.08h-3.01zM277.16 577.4h6v7.08h-6zM287.61 577.4h1.52v7.08h-1.52zM290.59 577.4h4.51v7.08h-4.51zM296.56 577.4h6v7.08h-6zM304.02 577.4h3.01v7.08h-3.01zM308.5 577.4h3.01v7.08h-3.01zM315.96 577.4h3.01v7.08h-3.01zM320.43 577.4h1.52v7.08h-1.52zM324.91 577.4h6v7.08h-6zM332.37 577.4h1.52v7.08h-1.52zM335.35 577.4h4.51v7.08h-4.51zM341.32 577.4h1.52v7.08h-1.52zM345.8 577.4h1.52v7.08h-1.52zM348.78 577.4h1.52v7.08h-1.52zM351.76 577.4h7.49v7.08h-7.49zM362.21 577.4h1.52v7.08h-1.52zM365.19 577.4h4.51v7.08h-4.51zM371.16 577.4h3.01v7.08h-3.01zM375.64 577.4h3.01v7.08h-3.01zM386.08 577.4h3.01v7.08h-3.01zM390.56 577.4h1.52v7.08h-1.52zM393.54 577.4h1.52v7.08h-1.52zM402.49 577.4h1.52v7.08h-1.52zM409.95 577.4h1.52v7.08h-1.52zM412.94 577.4h1.52v7.08h-1.52zM417.41 577.4h3.01v7.08h-3.01zM421.89 577.4h4.51v7.08h-4.51zM430.84 577.4h1.52v7.08h-1.52zM435.32 577.4h1.52v7.08h-1.52zM439.79 577.4h1.52v7.08h-1.52zM442.78 577.4h1.52v7.08h-1.52zM445.76 577.4h3.01v7.08h-3.01zM450.24 577.4h19.43v7.08h-19.43zM471.12 577.4h1.52v7.08h-1.52zM474.11 577.4h1.52v7.08h-1.52zM251.8 584.45h14.95v7.08h-14.95zM268.21 584.45h22.41v7.08h-22.41zM292.08 584.45h7.49v7.08h-7.49zM301.04 584.45h62.69v7.08h-62.69zM372.65 584.45h1.52v7.08h-1.52zM402.49 584.45h1.52v7.08h-1.52zM409.95 584.45h1.52v7.08h-1.52zM468.14 584.45h1.52v7.08h-1.52z"/>
<path fill="#5218f5" d="M363.7 521h111.93v7.08h-111.93zM363.7 535.1h8.98v7.08h-8.98zM374.14 535.1h28.38v7.08h-28.38zM403.98 535.1h6v7.08h-6zM411.44 535.1h56.73v7.08h-56.73zM469.63 535.1h6v7.08h-6zM251.8 542.15h1.52v7.08h-1.52zM257.77 542.15h4.51v7.08h-4.51zM263.74 542.15h3.01v7.08h-3.01zM269.7 542.15h3.01v7.08h-3.01zM275.67 542.15h1.52v7.08h-1.52zM283.13 542.15h4.51v7.08h-4.51zM289.1 542.15h1.52v7.08h-1.52zM295.07 542.15h1.52v7.08h-1.52zM302.53 542.15h1.52v7.08h-1.52zM307 542.15h1.52v7.08h-1.52zM311.48 542.15h4.51v7.08h-4.51zM318.94 542.15h1.52v7.08h-1.52zM321.92 542.15h3.01v7.08h-3.01zM330.88 542.15h1.52v7.08h-1.52zM333.86 542.15h1.52v7.08h-1.52zM339.83 542.15h1.52v7.08h-1.52zM342.81 542.15h3.01v7.08h-3.01zM347.29 542.15h1.52v7.08h-1.52zM350.27 542.15h1.52v7.08h-1.52zM359.22 542.15h3.01v7.08h-3.01zM363.7 542.15h1.52v7.08h-1.52zM369.67 542.15h1.52v7.08h-1.52zM374.14 542.15h1.52v7.08h-1.52zM378.62 542.15h7.49v7.08h-7.49zM389.06 542.15h1.52v7.08h-1.52zM392.05 542.15h1.52v7.08h-1.52zM395.03 542.15h7.49v7.08h-7.49zM403.98 542.15h6v7.08h-6zM411.44 542.15h1.52v7.08h-1.52zM414.43 542.15h3.01v7.08h-3.01zM420.4 542.15h1.52v7.08h-1.52zM426.36 542.15h4.51v7.08h-4.51zM432.33 542.15h3.01v7.08h-3.01zM436.81 542.15h3.01v7.08h-3.01zM441.28 542.15h1.52v7.08h-1.52zM444.27 542.15h1.52v7.08h-1.52zM448.74 542.15h1.52v7.08h-1.52zM469.63 542.15h1.52v7.08h-1.52zM472.62 542.15h1.52v7.08h-1.52zM308.5 549.2h1.52v7.08h-1.52zM363.7 549.2h8.98v7.08h-8.98zM374.14 549.2h28.38v7.08h-28.38zM403.98 549.2h6v7.08h-6zM411.44 549.2h56.73v7.08h-56.73zM469.63 549.2h6v7.08h-6zM266.72 556.25h1.52v7.08h-1.52zM308.5 556.25h1.52v7.08h-1.52zM363.7 556.25h8.98v7.08h-8.98zM374.14 556.25h28.38v7.08h-28.38zM403.98 556.25h64.19v7.08h-64.19zM469.63 556.25h6v7.08h-6zM277.16 563.3h1.52v7.08h-1.52zM308.5 563.3h1.52v7.08h-1.52zM320.43 563.3h1.52v7.08h-1.52zM363.7 563.3h8.98v7.08h-8.98zM374.14 563.3h28.38v7.08h-28.38zM403.98 563.3h64.19v7.08h-64.19zM469.63 563.3h6v7.08h-6zM363.7 570.35h8.98v7.08h-8.98zM374.14 570.35h28.38v7.08h-28.38zM403.98 570.35h64.19v7.08h-64.19zM469.63 570.35h6v7.08h-6zM251.8 577.4h1.52v7.08h-1.52zM257.77 577.4h4.51v7.08h-4.51zM263.74 577.4h3.01v7.08h-3.01zM269.7 577.4h3.01v7.08h-3.01zM275.67 577.4h1.52v7.08h-1.52zM283.13 577.4h4.51v7.08h-4.51zM289.1 577.4h1.52v7.08h-1.52zM295.07 577.4h1.52v7.08h-1.52zM302.53 577.4h1.52v7.08h-1.52zM307 577.4h1.52v7.08h-1.52zM311.48 577.4h4.51v7.08h-4.51zM318.94 577.4h1.52v7.08h-1.52zM321.92 577.4h3.01v7.08h-3.01zM330.88 577.4h1.52v7.08h-1.52zM333.86 577.4h1.52v7.08h-1.52zM339.83 577.4h1.52v7.08h-1.52zM342.81 577.4h3.01v7.08h-3.01zM347.29 577.4h1.52v7.08h-1.52zM350.27 577.4h1.52v7.08h-1.52zM359.22 577.4h3.01v7.08h-3.01zM363.7 577.4h1.52v7.08h-1.52zM369.67 577.4h1.52v7.08h-1.52zM374.14 577.4h1.52v7.08h-1.52zM378.62 577.4h7.49v7.08h-7.49zM389.06 577.4h1.52v7.08h-1.52zM392.05 577.4h1.52v7.08h-1.52zM395.03 577.4h7.49v7.08h-7.49zM403.98 577.4h6v7.08h-6zM411.44 577.4h1.52v7.08h-1.52zM414.43 577.4h3.01v7.08h-3.01zM420.4 577.4h1.52v7.08h-1.52zM426.36 577.4h4.51v7.08h-4.51zM432.33 577.4h3.01v7.08h-3.01zM436.81 577.4h3.01v7.08h-3.01zM441.28 577.4h1.52v7.08h-1.52zM444.27 577.4h1.52v7.08h-1.52zM448.74 577.4h1.52v7.08h-1.52zM469.63 577.4h1.52v7.08h-1.52zM472.62 577.4h1.52v7.08h-1.52zM266.72 584.45h1.52v7.08h-1.52zM290.59 584.45h1.52v7.08h-1.52zM299.54 584.45h1.52v7.08h-1.52zM363.7 584.45h8.98v7.08h-8.98zM374.14 584.45h28.38v7.08h-28.38zM403.98 584.45h6v7.08h-6zM411.44 584.45h56.73v7.08h-56.73zM469.63 584.45h6v7.08h-6z"/>
<path fill="#f8fd14" d="M251.8 528.05h120.88v7.08h-120.88zM374.14 528.05h28.38v7.08h-28.38zM403.98 528.05h6v7.08h-6zM411.44 528.05h56.73v7.08h-56.73zM469.63 528.05h6v7.08h-6z"/>
<rect x="251.8" y="521" width="223.8" height="70.5" fill="url(#vgrid)"/>
<path d="M251.8 528.05H475.6M251.8 535.1H475.6M251.8 542.15H475.6M251.8 549.2H475.6M251.8 556.25H475.6M251.8 563.3H475.6M251.8 570.35H475.6M251.8 577.4H475.6M251.8 584.45H475.6" stroke="#fff" stroke-opacity="0.4" stroke-width="0.6"/>
<g font-family="Liberation Sans, Arial, sans-serif" font-size="3.9" fill="#333" text-anchor="end">
<text x="250.4" y="525.92">OrigCls</text>
<text x="250.4" y="532.97">Misclassified</text>
<text x="250.4" y="540.02">GrandMajority</text>
<text x="250.4" y="547.07">lda</text>
<text x="250.4" y="554.12">knn</text>
<text x="250.4" y="561.17">rf</text>
<text x="250.4" y="568.22">SVM</text>
<text x="250.4" y="575.27">nb</text>
<text x="250.4" y="582.32">Multinom</text>
<text x="250.4" y="589.38">JRip</text>
</g>
<path d="M248.5 593.1H475.6" stroke="#e2c4c4" stroke-width="0.45"/>
<text x="364" y="516.8" font-family="Liberation Sans, Arial, sans-serif" font-size="6.4" text-anchor="middle" fill="#111">Classes and misclassifications _ 011</text>
<rect x="477.2" y="520.1" width="54.4" height="71.7" fill="#fff" stroke="#999" stroke-width="0.5"/>
<rect x="477.4" y="529.15" width="1.3" height="4.7" fill="#d6cfb8" stroke="#b3aa92" stroke-width="0.3"/>
<rect x="477.4" y="536.2" width="1.3" height="4.7" fill="#d6cfb8" stroke="#b3aa92" stroke-width="0.3"/>
<rect x="477.4" y="543.25" width="23.3" height="4.7" fill="#d6cfb8" stroke="#b3aa92" stroke-width="0.3"/>
<rect x="477.4" y="550.3" width="1.1" height="4.7" fill="#d6cfb8" stroke="#b3aa92" stroke-width="0.3"/>
<rect x="477.4" y="557.35" width="0.8" height="4.7" fill="#d6cfb8" stroke="#b3aa92" stroke-width="0.3"/>
<rect x="477.4" y="564.4" width="1.5" height="4.7" fill="#d6cfb8" stroke="#b3aa92" stroke-width="0.3"/>
<rect x="477.4" y="571.45" width="0.8" height="4.7" fill="#d6cfb8" stroke="#b3aa92" stroke-width="0.3"/>
<rect x="477.4" y="578.5" width="23.3" height="4.7" fill="#d6cfb8" stroke="#b3aa92" stroke-width="0.3"/>
<rect x="477.4" y="585.55" width="1.3" height="4.7" fill="#d6cfb8" stroke="#b3aa92" stroke-width="0.3"/>
<path d="M477.2 591.8v1.4" stroke="#777" stroke-width="0.35"/>
<text transform="translate(478.5,593.8) rotate(-90)" text-anchor="end" font-family="Liberation Sans, Arial, sans-serif" font-size="3.6" fill="#333">0</text>
<path d="M493.6 591.8v1.4" stroke="#777" stroke-width="0.35"/>
<text transform="translate(494.9,593.8) rotate(-90)" text-anchor="end" font-family="Liberation Sans, Arial, sans-serif" font-size="3.6" fill="#333">50</text>
<path d="M510 591.8v1.4" stroke="#777" stroke-width="0.35"/>
<text transform="translate(511.3,593.8) rotate(-90)" text-anchor="end" font-family="Liberation Sans, Arial, sans-serif" font-size="3.6" fill="#333">100</text>
<path d="M526.4 591.8v1.4" stroke="#777" stroke-width="0.35"/>
<text transform="translate(527.7,593.8) rotate(-90)" text-anchor="end" font-family="Liberation Sans, Arial, sans-serif" font-size="3.6" fill="#333">150</text>
<text x="503.8" y="607" font-family="Liberation Sans, Arial, sans-serif" font-size="5.8" text-anchor="middle" fill="#222">Sum</text>
<rect x="534.2" y="548" width="5.3" height="5.35" fill="#5218f5"/>
<text x="540.8" y="552.2" font-family="Liberation Sans, Arial, sans-serif" font-size="4.5" fill="#333">2</text>
<rect x="534.2" y="553.3" width="5.3" height="5.35" fill="#1cf858"/>
<text x="540.8" y="557.5" font-family="Liberation Sans, Arial, sans-serif" font-size="4.5" fill="#333">1</text>
<rect x="534.2" y="558.6" width="5.3" height="5.35" fill="#f8fd14"/>
<text x="540.8" y="562.8" font-family="Liberation Sans, Arial, sans-serif" font-size="4.5" fill="#333">0</text>
<text x="8.8" y="616.5" font-family="Liberation Sans, Arial, sans-serif" font-weight="bold" font-size="7.4" fill="#111">G</text>
<path d="M23.7 696.4l37 -28.9M32.1 696.4l37 -28.9M40.5 696.4l37 -28.9M48.9 696.4l37 -28.9M57.3 696.4l37 -28.9M21.47 691.58h50.4M27.63 686.77h50.4M33.8 681.95h50.4M39.97 677.13h50.4M46.13 672.32h50.4" stroke="#c9c9c9" stroke-width="0.4" fill="none"/>
<path d="M15.3 647.3h50.4v49.1h-50.4zM52.3 618.4h50.4v49.1h-50.4zM15.3 647.3l37 -28.9M65.7 647.3l37 -28.9M15.3 696.4l37 -28.9M65.7 696.4l37 -28.9M15.3 696.4h-0.9M15.3 696.4v0.9M15.3 688.22h-0.9M23.7 696.4v0.9M15.3 680.03h-0.9M32.1 696.4v0.9M15.3 671.85h-0.9M40.5 696.4v0.9M15.3 663.67h-0.9M48.9 696.4v0.9M15.3 655.48h-0.9M57.3 696.4v0.9M15.3 647.3h-0.9M65.7 696.4v0.9" stroke="#262626" stroke-width="0.5" fill="none"/>
<g font-family="Liberation Sans, Arial, sans-serif" font-size="4.4" fill="#262626" text-anchor="middle">
<text x="15.3" y="701.4">-1.5</text>
<text x="23.7" y="701.4">-1.0</text>
<text x="32.1" y="701.4">-0.5</text>
<text x="40.5" y="701.4">0.0</text>
<text x="48.9" y="701.4">0.5</text>
<text x="57.3" y="701.4">1.0</text>
<text x="65.7" y="701.4">1.5</text>
<text transform="translate(13.4,696.4) rotate(-90)">-1.5</text>
<text transform="translate(13.4,688.22) rotate(-90)">-1.0</text>
<text transform="translate(13.4,680.03) rotate(-90)">-0.5</text>
<text transform="translate(13.4,671.85) rotate(-90)">0.0</text>
<text transform="translate(13.4,663.67) rotate(-90)">0.5</text>
<text transform="translate(13.4,655.48) rotate(-90)">1.0</text>
<text transform="translate(13.4,647.3) rotate(-90)">1.5</text>
<text transform="translate(71.3,697.6) rotate(-72)" font-size="4.1">-1.5</text>
<text transform="translate(77.47,692.78) rotate(-72)" font-size="4.1">-1.0</text>
<text transform="translate(83.63,687.97) rotate(-72)" font-size="4.1">-0.5</text>
<text transform="translate(89.8,683.15) rotate(-72)" font-size="4.1">0.0</text>
<text transform="translate(95.97,678.33) rotate(-72)" font-size="4.1">0.5</text>
<text transform="translate(102.13,673.52) rotate(-72)" font-size="4.1">1.0</text>
<text transform="translate(108.3,668.7) rotate(-72)" font-size="4.1">1.5</text>
</g>
<path d="M71.78 654.65h0M42.33 658.06h0M54.24 668.85h0M66.67 653.6h0M64.54 653.67h0M39.23 667.4h0M58.27 668.36h0M74.67 655.44h0M37.61 666.81h0M73.34 660.81h0M73.09 657.63h0M35.58 664.96h0M35.41 666.13h0M40.02 667.15h0M60.83 652.44h0M53.16 669.84h0M48.48 654.27h0M66.68 654.18h0M40.47 659.37h0M73.66 656.06h0M49.34 668.59h0M72.69 660.06h0M57.3 653.56h0M43.63 655.21h0M74.33 658.91h0M61.36 667.34h0M64.92 654.93h0M68.41 663.39h0" stroke="#14ff3e" stroke-width="2.6" stroke-linecap="round"/>
<path d="M62.95 638.93h0M70.41 635.92h0M69.2 663.84h0M64.1 639.1h0M62.74 673.3h0M70.02 636.76h0M73.64 638.52h0M62.26 673.36h0M68.32 668.05h0M56.27 665.78h0M56.5 656.92h0M62.33 641h0M56.36 654.63h0M72.98 648.3h0M57.38 668.25h0M65.71 637.05h0M54.83 659.6h0M73.32 638h0M62.53 672.6h0M70.87 636.26h0M68.63 666.82h0M68.28 669.32h0M69.34 664.39h0M71.99 659.54h0M62.1 673.17h0" stroke="#5214ee" stroke-width="2.6" stroke-linecap="round"/>
<path d="M42.69 657.52h0M57.68 653.89h0M35.7 666.28h0M42.41 669.78h0M76.12 659.45h0M62.76 665.16h0M66.69 653.71h0M67.32 662.04h0M35.72 665.72h0M60.71 653.2h0M50.18 654.46h0M36.23 661.87h0M53.27 654.09h0M38.99 659.86h0M35.35 662.51h0M36.47 667.28h0M72.95 654.2h0M65.31 654.07h0M74.75 655.59h0M70.86 653.73h0" stroke="#14ff3e" stroke-width="2.6" stroke-linecap="round"/>
<path d="M74.2 643.59h0M61.75 641.58h0M73.06 644.53h0M57.26 670.81h0M57.2 652.71h0M61.63 642.75h0M61.76 671.94h0M67.93 636.17h0M56.02 663.58h0M59.02 671.07h0M60.56 672.22h0M56.69 650.74h0M72.43 637.97h0M55.07 666.93h0M58.36 672.47h0M57.15 667.55h0M64.68 637.22h0M70.8 660.58h0M63.21 639.69h0M69.87 662.76h0M67.19 668.64h0M55.61 658.49h0M72.27 656.61h0M73.97 644.03h0M64.58 670.2h0M64.66 638.74h0M56.99 673.56h0M73.65 639.62h0M73.41 652.73h0M74.1 643.54h0M68.62 636.75h0M69.85 664.25h0M59.46 671.21h0" stroke="#5214ee" stroke-width="2.6" stroke-linecap="round"/>
<path d="M34.95 664.92h0M36.95 662.21h0M37.21 661.34h0M65.84 665.45h0M37.88 659.98h0M74.3 659.78h0M38.11 667.47h0M36.71 660.75h0M72.49 653.54h0M36.53 660.95h0M43.57 657.78h0M35.04 665.3h0M36.24 668.06h0M75.15 658.92h0M37.01 667.23h0M63.75 652.99h0M57.67 651.81h0M47.35 655.98h0M54.45 667.87h0M71.41 654.38h0M45.71 656.84h0M35.48 660.59h0M35.27 665.84h0M69.5 663.6h0M45.8 668.2h0M45.9 656.07h0M47.75 669.52h0M35.37 662.91h0" stroke="#14ff3e" stroke-width="2.6" stroke-linecap="round"/>
<path d="M56.58 664.76h0M72.88 638.38h0M66.96 669.44h0M69.07 636.01h0M55.58 659.87h0M70.93 636.84h0M71.79 638.05h0M56.12 665.1h0M55.52 661.77h0M62.8 638.46h0M63.85 638.37h0M56.96 667.77h0M73.5 650.28h0M56.3 654.49h0M71.19 660.81h0M60.21 642.92h0M71.51 659.69h0M58.12 651.66h0M65.6 668.97h0M64.69 672.06h0M59.07 645.02h0M71.62 637.34h0M58.46 672.75h0M59.74 647.44h0M64.8 668.87h0M73.99 639.51h0" stroke="#5214ee" stroke-width="2.6" stroke-linecap="round"/>
<path d="M50.79 668h0M35.56 667.95h0M75.99 656.55h0M38.47 666.88h0M73.04 653.68h0M69.65 662.38h0M64.21 651.01h0M36.09 664.01h0M40.29 668.44h0M46.28 657.15h0M73.32 656.52h0M52.97 653.67h0M75.03 656.32h0M38.55 668.15h0M74.12 654.49h0M49.9 654.89h0M41.51 657.38h0M57.69 666.5h0M73.5 660.92h0M74.21 660.57h0M75.59 655.75h0M45.84 655.68h0M54.16 654.9h0M40.64 656.63h0M72.77 660.56h0M52.93 653.53h0M74.38 659.51h0M56.07 653.79h0M74.62 656.17h0M51.94 667.64h0M75.39 657.8h0" stroke="#14ff3e" stroke-width="2.6" stroke-linecap="round"/>
<path d="M61.92 672.56h0M67.76 668.43h0M59.34 647.35h0M71.89 659.04h0M68.05 668.7h0M57.09 661.29h0M59.61 672.35h0M69.12 664.85h0M73.02 642.68h0M58.68 648.66h0M70.25 665.58h0M70.62 636.34h0M66.98 669.74h0M62.6 639.85h0M55.16 661.99h0M72.09 643.43h0M61.52 640.23h0M62.69 639.63h0M66.12 669.27h0M62.07 673.52h0M73.46 645h0M64.5 670.15h0" stroke="#5214ee" stroke-width="2.6" stroke-linecap="round"/>
<path d="M73.76 655.46h0M40.62 658.87h0M66.6 663.7h0M50.12 669.3h0M70.63 663.32h0M34.48 666.76h0M38.38 666.19h0M55.97 655.28h0M74.8 655.89h0M58.29 667.45h0M38.68 660.8h0M45.18 655.28h0M46.3 668.67h0M57.79 652.78h0M39.51 657.53h0M34.97 665.59h0M58.61 666.11h0M40.98 659.16h0M65.79 654.14h0M74.15 658.05h0M63.43 653.08h0M34.79 663.93h0M53.91 653.53h0M35.29 660.26h0M73.7 655.06h0M73.98 657.94h0M36.31 664.2h0M74.16 655.24h0M75.38 659.08h0" stroke="#14ff3e" stroke-width="2.6" stroke-linecap="round"/>
<path d="M69.58 662.63h0M74.28 651.54h0M72.14 657.66h0M55.55 661.66h0M69.17 667.53h0M67.72 668.16h0M62.73 637.65h0M56.25 669.63h0M69.91 635.41h0M64.51 637.18h0M68.33 636.02h0M56.84 666.27h0M73.45 639.07h0M66.59 636.91h0M65.08 671.32h0M64.6 671.17h0M64.31 671.7h0M73.21 645.73h0M58.98 651.36h0M66.53 667.6h0M58.06 650.78h0M64.87 669.96h0M64.41 640.11h0M59.98 672.04h0" stroke="#5214ee" stroke-width="2.6" stroke-linecap="round"/>
<path d="M59.9 652.48h0M42.66 657.15h0M41.5 668.62h0M65.03 666.05h0M59.81 652.5h0M34.56 663.86h0M49.58 655.07h0M44.46 655.56h0M67.82 664.68h0M38.22 666.48h0M37.47 658.89h0M76.64 657.66h0M34.05 662.09h0M45.22 656.93h0M39.33 661.76h0M52.17 667.17h0M37.67 659.6h0M39.71 667.7h0M75.27 657.6h0M73.45 660.29h0M42.34 659.04h0M75.65 656.6h0M34.97 662.12h0M44.27 669.47h0M75.39 657.26h0M57.03 666.16h0M73.71 660.11h0M44.66 657.27h0" stroke="#14ff3e" stroke-width="2.6" stroke-linecap="round"/>
<path d="M59.27 647.85h0M72 657.64h0M62.58 673.42h0M68.76 667.41h0M60.68 672.23h0M74.65 643.26h0M68.1 636.26h0M63.98 671.99h0M64.55 671.58h0M61.49 673.97h0M56.12 654.63h0M73.87 642.76h0M60.66 673.48h0M74.1 639.6h0M55.8 667.96h0M55.13 664.41h0M55.07 664.35h0M58.83 671.69h0M55.59 661.32h0M60.14 672.93h0M67.39 669.11h0M55.74 657.1h0M74.22 644.89h0M66.41 636.73h0M64.39 671.72h0M66.08 636.16h0" stroke="#5214ee" stroke-width="2.6" stroke-linecap="round"/>
<path d="M57.75 668.19h0M35.26 665.3h0M74.93 657.7h0M68.64 653.46h0M52.98 653.94h0M56.8 652.34h0M62.04 664.54h0M39.3 667.17h0M34.83 663.9h0M61.86 652.36h0M73.23 654.86h0M74.73 656.84h0M72.6 660.87h0M62.58 653.2h0M47.98 669.7h0M77.18 657.07h0M34.07 665.98h0M74.78 658.71h0M42.78 668.91h0M54.57 653.66h0M71.62 654.14h0M72.27 661.71h0M62.32 653.38h0M74.53 656.45h0M36.08 666.95h0M38.78 666.78h0" stroke="#14ff3e" stroke-width="2.6" stroke-linecap="round"/>
<path d="M72.34 652.15h0M73.97 651.49h0M69.33 665.28h0M60.16 641.86h0M71.98 662.41h0M68.53 669.32h0M64.4 637.04h0M57.41 649.33h0M56.42 658.4h0M60.65 672.92h0M69.15 635.68h0M65.14 672.16h0M57.27 652.71h0M69.37 635.46h0M57.3 668.48h0M73.51 652.31h0M64.04 635.87h0M67.4 666.91h0M56.9 659.11h0M72.83 652.01h0M66.16 635.22h0M58.24 672.45h0M69.64 636.03h0M58.5 673.65h0M58.08 646.71h0M62.49 640.59h0M73.23 640.68h0" stroke="#5214ee" stroke-width="2.6" stroke-linecap="round"/>
<path d="M50.73 653.39h0M34.38 664.03h0M69.71 653.57h0M42.51 657.31h0M42.3 656.68h0M52.44 667.64h0M76.43 657.14h0M63.26 652.74h0M70.94 661.28h0M63.36 664.42h0M51.2 669.72h0M71.81 663.6h0M50.21 655.14h0M64.43 654.17h0M69.59 665.75h0M36.05 663.23h0M35.12 662.23h0M75.67 657.47h0M40.46 666.81h0M71.27 653.89h0M39.9 668.42h0" stroke="#14ff3e" stroke-width="2.6" stroke-linecap="round"/>
<path d="M70.15 636.9h0M72.88 659.48h0M59.01 669.72h0M72.93 652.66h0M67.79 665.93h0M69.15 666.26h0M64.32 671.18h0M59.08 648.66h0M71.24 658.26h0M72.82 658.72h0M63.8 672.63h0M70.12 635.96h0M73.21 649.88h0M73.66 642.08h0M62.87 671.4h0M71.93 656.33h0M57.98 668.41h0M73.39 654.74h0M72.31 638.99h0M73.4 643.02h0M68.3 668.39h0M57.21 653.07h0M55.24 656.2h0M56.12 667.26h0M73.5 637.04h0M56.11 668.59h0M56.04 657.39h0M64.02 639.14h0M56.44 665.66h0M67 669.77h0M64.11 641.26h0M70.77 658.36h0" stroke="#5214ee" stroke-width="2.6" stroke-linecap="round"/>
<path d="M73.01 662.49h0M40.62 658.58h0M74.69 656.9h0M35.63 666.8h0M55.07 668.79h0M65.21 663.96h0M38.99 666.63h0M36.81 666.46h0M36.3 664.59h0M36.16 663.33h0M67.88 653.14h0M47.54 669.58h0M34.02 665.68h0M61.29 666.64h0M67.98 665.06h0M64.64 652.57h0M38.64 659.06h0M56.67 668.31h0M48.34 668.24h0M39.12 658.7h0M61.68 664.34h0M59.81 651.83h0M53.28 668.52h0M70.58 663.23h0M71.95 660.13h0M54.76 654.73h0M74.36 657.97h0M35.57 664.93h0M73.97 659.29h0M35.66 666.47h0M36.92 667.78h0M42.94 667.8h0M62.48 653.03h0M67.76 662.76h0M37 662.68h0" stroke="#14ff3e" stroke-width="2.6" stroke-linecap="round"/>
<path d="M68.73 634.97h0M72.34 638.6h0M56.99 658.26h0M72.4 636.52h0M59.64 671.32h0M70.43 636.28h0M67.81 667.23h0M72.45 639.71h0M60.55 672.55h0M67.59 667.6h0M68.99 636.13h0M60.49 672.48h0M70.88 660.42h0M73.81 639.56h0M58.96 650.75h0M61.91 645.58h0M73.07 648.92h0M74.72 646.28h0M59.13 647.68h0" stroke="#5214ee" stroke-width="2.6" stroke-linecap="round"/>
<path d="M61.32 666.88h0M66.5 654.72h0M62.13 653.58h0M73.93 661.2h0M72.85 654.22h0M69.98 663.87h0M69.64 663.63h0M55.02 653.24h0M48.12 668.36h0M49.61 669.16h0M76.31 660.13h0M72.2 653.67h0M51.75 668.43h0M60.84 653.92h0M49.72 654.09h0M52.93 654.15h0M75.45 658.31h0M44.1 667.3h0M55.79 666.88h0M51.9 654.21h0M44.64 667.7h0" stroke="#14ff3e" stroke-width="2.6" stroke-linecap="round"/>
<path d="M63.3 640.46h0M73.18 641.97h0M68.39 665.54h0M70.61 661.07h0M65.22 637.77h0M56.6 655.48h0M70.48 635.07h0M68.18 635.92h0M56.38 666.13h0M66.4 636.73h0M67.5 635.69h0M68.34 668.25h0M61.17 672.1h0M56.25 659.12h0M67.71 670.56h0M62.34 643.09h0M73.05 651.47h0M74.36 651.15h0M62.89 638.61h0M63.61 640.08h0M72.91 658.43h0M62.41 640.47h0M74.5 645.01h0M69.96 638.25h0M58.11 672.14h0M66.78 634.08h0M68.76 663.66h0M56.83 669.27h0M58.15 668.87h0M58.98 672.11h0M73.58 646.21h0M72.28 637.29h0" stroke="#5214ee" stroke-width="2.6" stroke-linecap="round"/>
<path d="M34.6 664.19h0M47.43 655.75h0M64.1 653.33h0M63.98 665.18h0M40.91 667.38h0M61.89 653.81h0M74.4 655.87h0M72.19 661.48h0M40.01 658.02h0M34.99 662.8h0M48.79 669.78h0M63.92 652.21h0M73.75 659.86h0M74.18 658.79h0M59.35 667.13h0M35.2 663.81h0M35.04 663.68h0M75.81 660.29h0M49.66 668.36h0M38.83 667.48h0M57.73 652.29h0M53.61 668.09h0" stroke="#14ff3e" stroke-width="2.6" stroke-linecap="round"/>
<path d="M72.48 660.42h0M72.1 655.2h0M60.06 671.86h0M73.35 652.89h0M73.1 643.53h0M68.16 636.87h0M67.5 635.77h0M72.33 637.45h0M57.18 671.04h0M58.08 653.25h0M55.79 658.56h0M74.01 650.47h0M58.47 671.04h0M70.68 635.99h0M72.29 652.14h0M67.25 635.9h0M72.14 655.28h0M71.36 636.17h0M56.86 661.86h0M57.07 666.43h0M68.69 635.2h0M72.8 654.84h0M66.39 635.91h0M56.28 669.15h0M72.02 637.64h0M74.3 646.98h0M73.96 639.71h0M73.68 643.38h0M56.48 666.24h0M58.69 670.51h0M60.31 645.84h0" stroke="#5214ee" stroke-width="2.6" stroke-linecap="round"/>
<path d="M68.6 653.91h0M62.04 665.87h0M63.76 652.71h0M51.35 653.25h0M74.42 655.9h0M75.02 656.87h0M35.18 663.71h0M49.81 669.86h0M46.81 669.89h0M73.22 659.92h0M72.33 660.22h0M73.02 654.64h0M72.05 661h0M35.55 661.31h0M52.87 654.4h0M35.32 665.23h0M65.95 663.95h0M69.38 663.55h0M74.67 659.02h0M73.25 661.22h0M63.08 654.08h0M48.73 654.3h0M71.34 654.93h0M70.52 663.12h0M41.29 658.9h0M68.37 653.14h0M69.73 654.04h0M35.56 665h0M66.28 665.59h0M54.9 667.16h0M63.45 652.37h0" stroke="#14ff3e" stroke-width="2.6" stroke-linecap="round"/>
<path d="M66.3 637.4h0M73.21 639.28h0M62.85 671.14h0M60.2 647.72h0M59.7 648.93h0M73.6 637.69h0M60.44 673.06h0M68.66 635.44h0M72.23 659.92h0M73.67 649.64h0M60.62 673.48h0M62.49 672.86h0M61.02 644.97h0M72.04 656.18h0M73.53 653.36h0M69.51 635.77h0M73.48 645.91h0M56.64 666.88h0M74.19 648.84h0M57.01 667.92h0M57.29 666.83h0M56.74 663.9h0M62.88 638.12h0" stroke="#5214ee" stroke-width="2.6" stroke-linecap="round"/>
<path d="M131.7 696.4l37 -28.9M140.1 696.4l37 -28.9M148.5 696.4l37 -28.9M156.9 696.4l37 -28.9M165.3 696.4l37 -28.9M129.47 691.58h50.4M135.63 686.77h50.4M141.8 681.95h50.4M147.97 677.13h50.4M154.13 672.32h50.4" stroke="#c9c9c9" stroke-width="0.4" fill="none"/>
<path d="M123.3 647.3h50.4v49.1h-50.4zM160.3 618.4h50.4v49.1h-50.4zM123.3 647.3l37 -28.9M173.7 647.3l37 -28.9M123.3 696.4l37 -28.9M173.7 696.4l37 -28.9M123.3 696.4h-0.9M123.3 696.4v0.9M123.3 688.22h-0.9M131.7 696.4v0.9M123.3 680.03h-0.9M140.1 696.4v0.9M123.3 671.85h-0.9M148.5 696.4v0.9M123.3 663.67h-0.9M156.9 696.4v0.9M123.3 655.48h-0.9M165.3 696.4v0.9M123.3 647.3h-0.9M173.7 696.4v0.9" stroke="#262626" stroke-width="0.5" fill="none"/>
<g font-family="Liberation Sans, Arial, sans-serif" font-size="4.4" fill="#262626" text-anchor="middle">
<text x="123.3" y="701.4">-1.5</text>
<text x="131.7" y="701.4">-1.0</text>
<text x="140.1" y="701.4">-0.5</text>
<text x="148.5" y="701.4">0.0</text>
<text x="156.9" y="701.4">0.5</text>
<text x="165.3" y="701.4">1.0</text>
<text x="173.7" y="701.4">1.5</text>
<text transform="translate(121.4,696.4) rotate(-90)">-1.5</text>
<text transform="translate(121.4,688.22) rotate(-90)">-1.0</text>
<text transform="translate(121.4,680.03) rotate(-90)">-0.5</text>
<text transform="translate(121.4,671.85) rotate(-90)">0.0</text>
<text transform="translate(121.4,663.67) rotate(-90)">0.5</text>
<text transform="translate(121.4,655.48) rotate(-90)">1.0</text>
<text transform="translate(121.4,647.3) rotate(-90)">1.5</text>
<text transform="translate(179.3,697.6) rotate(-72)" font-size="4.1">-1.5</text>
<text transform="translate(185.47,692.78) rotate(-72)" font-size="4.1">-1.0</text>
<text transform="translate(191.63,687.97) rotate(-72)" font-size="4.1">-0.5</text>
<text transform="translate(197.8,683.15) rotate(-72)" font-size="4.1">0.0</text>
<text transform="translate(203.97,678.33) rotate(-72)" font-size="4.1">0.5</text>
<text transform="translate(210.13,673.52) rotate(-72)" font-size="4.1">1.0</text>
<text transform="translate(216.3,668.7) rotate(-72)" font-size="4.1">1.5</text>
</g>
<path d="M158.84 655.89h0M181.82 660.13h0M182.06 658.44h0M181.46 657.39h0M169.26 667.23h0M149.79 669.23h0M143.51 660.92h0M175.02 664.6h0M182.12 660.7h0M182.19 657.58h0M172.11 666.67h0M161.66 669.9h0M179.39 663.36h0M170.24 654.88h0M182.63 657.87h0M175.31 654.84h0M159.09 655.04h0M145.93 668.84h0M168.72 653.68h0M157.67 668.57h0M144.27 661.21h0M158.21 669.18h0M168.51 653.93h0M146.3 659.54h0M145.83 668.74h0" stroke="#14ff3e" stroke-width="2.4" stroke-linecap="round"/>
<path d="M171.94 635.76h0M164.82 647.01h0M173.48 670.21h0M163.15 662.55h0M162.25 657.94h0M181.2 654.71h0M177.72 635.21h0M163.28 651.07h0M175.08 634.83h0M182.12 650.25h0M163.14 659.78h0M177.66 635.49h0M163.4 665.13h0M180.75 638.49h0M165.13 646.43h0M165.45 644.71h0M179.03 663.33h0M162.92 664.11h0M178.68 662.5h0M163.04 652.74h0M168.47 672.09h0" stroke="#5214ee" stroke-width="2.4" stroke-linecap="round"/>
<path d="M162.74 668.37h0M141.8 665.41h0M181.43 661.19h0M173.48 665.29h0M181.79 656.67h0M170.53 667.19h0M142.05 663.43h0M142.43 666.77h0M180.8 656.98h0M158.05 669.05h0M173.85 665.69h0M155.69 668.97h0M178.04 663.61h0M178.33 662.94h0M162.29 668.77h0M160.29 668.29h0M146.8 658.67h0M143.71 666.75h0M180.92 662.15h0M152.97 656.62h0M150.88 669.26h0M180.35 655.47h0M182.53 659.03h0M176.28 665.04h0M157.42 655.6h0" stroke="#14ff3e" stroke-width="2.4" stroke-linecap="round"/>
<path d="M180.71 638.65h0M180.16 659.11h0M164.09 647.34h0M165.28 644.42h0M175.63 634.52h0M182.1 641.74h0M181.65 647.4h0M167.22 640.99h0M168.95 671.82h0M175.68 634.97h0M163.5 668.59h0M168 671.59h0M171.24 671.8h0M163.66 666.02h0M172.55 636.12h0M182.08 643.15h0M175.55 667.75h0M165.25 644.83h0M173.28 669.94h0M180.54 637.94h0M165.24 645.44h0" stroke="#5214ee" stroke-width="2.4" stroke-linecap="round"/>
<path d="M154.27 669.59h0M180.17 655.82h0M164.65 668.44h0M143.69 661.55h0M181.95 659.16h0M181.48 661.09h0M175.09 664.95h0M141.8 665.81h0M181.74 656.68h0M142.17 663.28h0M177.92 663.5h0M141.69 665.2h0M178.72 656.44h0M149.96 669.33h0M149.85 668.47h0M153.63 655.88h0M180.15 655.76h0M181.22 660.25h0M165.41 654.77h0M174.99 654.5h0M166.1 654.53h0M141.9 665.09h0" stroke="#14ff3e" stroke-width="2.4" stroke-linecap="round"/>
<path d="M181.75 648.6h0M168.92 638.84h0M176.84 665.22h0M173.85 669.74h0M179.25 661.23h0M175.16 634.43h0M167.52 672.57h0M162.65 653.01h0M164.48 668.47h0M180.79 640.2h0M174.7 635.38h0M169.41 672.23h0M172.48 671.29h0M168.39 639.62h0M169.88 637.71h0M181.28 645.76h0M181.07 641.62h0M170.51 671.9h0M170.59 637.24h0M162.99 652.54h0M164.09 652.47h0M166.67 671.7h0M181.19 653.03h0M169.5 638.47h0" stroke="#5214ee" stroke-width="2.4" stroke-linecap="round"/>
<path d="M169.99 654.36h0M147.51 668.59h0M174.49 653.63h0M144.78 669.18h0M150.73 668.85h0M158 655.45h0M180.71 656.87h0M181.39 656.51h0M160.91 654.82h0M177 664.03h0M181.8 656.97h0M149.25 658h0M142.31 666.31h0M146.24 668.64h0M175 665.17h0M146.58 658.58h0M159.88 668.76h0M141.91 665h0M153.67 656.54h0M143.32 667.09h0M148.14 669.1h0M149.45 668.83h0M181.44 657.79h0" stroke="#14ff3e" stroke-width="2.4" stroke-linecap="round"/>
<path d="M174.92 668.82h0M162.59 654.88h0M164.66 670.82h0M165.55 644.4h0M181.06 655.24h0M165.93 643.04h0M181.35 642.61h0M166.76 671.55h0M163.91 649.83h0M162.58 656.27h0M170.27 637.68h0M163.22 663.72h0M164.92 668.61h0M177.57 664.71h0M164.88 669.98h0M163.4 650.46h0M162.68 652.91h0M180.04 658.13h0M176.57 666.15h0M174.56 635.08h0M181.63 653.3h0M162.34 662.57h0M178.61 663.9h0M170.43 637.07h0" stroke="#5214ee" stroke-width="2.4" stroke-linecap="round"/>
<text transform="translate(108.6,670) rotate(-90)" font-family="Liberation Sans, Arial, sans-serif" font-size="4.4" fill="#444" text-anchor="middle">x<tspan font-size="3" dy="1">3</tspan></text>
<path fill="#1cf858" d="M251.8 620h111.93v7.08h-111.93zM359.22 627.05h1.52v7.08h-1.52zM251.8 634.1h107.45v7.08h-107.45zM360.72 634.1h3.01v7.08h-3.01zM254.78 641.15h3.01v7.08h-3.01zM262.24 641.15h3.01v7.08h-3.01zM269.7 641.15h1.52v7.08h-1.52zM272.69 641.15h1.52v7.08h-1.52zM278.66 641.15h6v7.08h-6zM289.1 641.15h1.52v7.08h-1.52zM292.08 641.15h3.01v7.08h-3.01zM296.56 641.15h3.01v7.08h-3.01zM301.04 641.15h1.52v7.08h-1.52zM304.02 641.15h3.01v7.08h-3.01zM308.5 641.15h1.52v7.08h-1.52zM315.96 641.15h3.01v7.08h-3.01zM320.43 641.15h1.52v7.08h-1.52zM324.91 641.15h6v7.08h-6zM332.37 641.15h1.52v7.08h-1.52zM335.35 641.15h1.52v7.08h-1.52zM341.32 641.15h3.01v7.08h-3.01zM347.29 641.15h3.01v7.08h-3.01zM351.76 641.15h7.49v7.08h-7.49zM362.21 641.15h1.52v7.08h-1.52zM368.18 641.15h3.01v7.08h-3.01zM374.14 641.15h4.51v7.08h-4.51zM386.08 641.15h3.01v7.08h-3.01zM390.56 641.15h1.52v7.08h-1.52zM395.03 641.15h1.52v7.08h-1.52zM402.49 641.15h1.52v7.08h-1.52zM409.95 641.15h1.52v7.08h-1.52zM412.94 641.15h1.52v7.08h-1.52zM417.41 641.15h1.52v7.08h-1.52zM421.89 641.15h4.51v7.08h-4.51zM435.32 641.15h1.52v7.08h-1.52zM442.78 641.15h1.52v7.08h-1.52zM447.25 641.15h1.52v7.08h-1.52zM450.24 641.15h3.01v7.08h-3.01zM454.71 641.15h6v7.08h-6zM462.17 641.15h6v7.08h-6zM469.63 641.15h1.52v7.08h-1.52zM472.62 641.15h1.52v7.08h-1.52zM251.8 648.2h111.93v7.08h-111.93zM251.8 655.25h107.45v7.08h-107.45zM360.72 655.25h3.01v7.08h-3.01zM251.8 662.3h107.45v7.08h-107.45zM360.72 662.3h3.01v7.08h-3.01zM251.8 669.35h107.45v7.08h-107.45zM360.72 669.35h3.01v7.08h-3.01zM254.78 676.4h3.01v7.08h-3.01zM262.24 676.4h3.01v7.08h-3.01zM269.7 676.4h1.52v7.08h-1.52zM272.69 676.4h1.52v7.08h-1.52zM278.66 676.4h6v7.08h-6zM289.1 676.4h1.52v7.08h-1.52zM292.08 676.4h3.01v7.08h-3.01zM296.56 676.4h3.01v7.08h-3.01zM301.04 676.4h1.52v7.08h-1.52zM304.02 676.4h3.01v7.08h-3.01zM308.5 676.4h1.52v7.08h-1.52zM315.96 676.4h3.01v7.08h-3.01zM320.43 676.4h1.52v7.08h-1.52zM324.91 676.4h6v7.08h-6zM332.37 676.4h1.52v7.08h-1.52zM335.35 676.4h1.52v7.08h-1.52zM341.32 676.4h3.01v7.08h-3.01zM347.29 676.4h3.01v7.08h-3.01zM351.76 676.4h7.49v7.08h-7.49zM362.21 676.4h1.52v7.08h-1.52zM368.18 676.4h3.01v7.08h-3.01zM374.14 676.4h4.51v7.08h-4.51zM386.08 676.4h3.01v7.08h-3.01zM390.56 676.4h1.52v7.08h-1.52zM395.03 676.4h1.52v7.08h-1.52zM402.49 676.4h1.52v7.08h-1.52zM409.95 676.4h1.52v7.08h-1.52zM412.94 676.4h1.52v7.08h-1.52zM417.41 676.4h1.52v7.08h-1.52zM421.89 676.4h4.51v7.08h-4.51zM435.32 676.4h1.52v7.08h-1.52zM442.78 676.4h1.52v7.08h-1.52zM447.25 676.4h1.52v7.08h-1.52zM450.24 676.4h3.01v7.08h-3.01zM454.71 676.4h6v7.08h-6zM462.17 676.4h6v7.08h-6zM469.63 676.4h1.52v7.08h-1.52zM472.62 676.4h1.52v7.08h-1.52zM251.8 683.45h111.93v7.08h-111.93z"/>
<path fill="#5218f5" d="M363.7 620h111.93v7.08h-111.93zM359.22 634.1h1.52v7.08h-1.52zM363.7 634.1h111.93v7.08h-111.93zM251.8 641.15h3.01v7.08h-3.01zM257.77 641.15h4.51v7.08h-4.51zM265.23 641.15h4.51v7.08h-4.51zM271.2 641.15h1.52v7.08h-1.52zM274.18 641.15h4.51v7.08h-4.51zM284.62 641.15h4.51v7.08h-4.51zM290.59 641.15h1.52v7.08h-1.52zM295.07 641.15h1.52v7.08h-1.52zM299.54 641.15h1.52v7.08h-1.52zM302.53 641.15h1.52v7.08h-1.52zM307 641.15h1.52v7.08h-1.52zM309.99 641.15h6v7.08h-6zM318.94 641.15h1.52v7.08h-1.52zM321.92 641.15h3.01v7.08h-3.01zM330.88 641.15h1.52v7.08h-1.52zM333.86 641.15h1.52v7.08h-1.52zM336.84 641.15h4.51v7.08h-4.51zM344.3 641.15h3.01v7.08h-3.01zM350.27 641.15h1.52v7.08h-1.52zM359.22 641.15h3.01v7.08h-3.01zM363.7 641.15h4.51v7.08h-4.51zM371.16 641.15h3.01v7.08h-3.01zM378.62 641.15h7.49v7.08h-7.49zM389.06 641.15h1.52v7.08h-1.52zM392.05 641.15h3.01v7.08h-3.01zM396.52 641.15h6v7.08h-6zM403.98 641.15h6v7.08h-6zM411.44 641.15h1.52v7.08h-1.52zM414.43 641.15h3.01v7.08h-3.01zM418.9 641.15h3.01v7.08h-3.01zM426.36 641.15h8.98v7.08h-8.98zM436.81 641.15h6v7.08h-6zM444.27 641.15h3.01v7.08h-3.01zM448.74 641.15h1.52v7.08h-1.52zM453.22 641.15h1.52v7.08h-1.52zM460.68 641.15h1.52v7.08h-1.52zM468.14 641.15h1.52v7.08h-1.52zM471.12 641.15h1.52v7.08h-1.52zM474.11 641.15h1.52v7.08h-1.52zM363.7 648.2h111.93v7.08h-111.93zM359.22 655.25h1.52v7.08h-1.52zM363.7 655.25h111.93v7.08h-111.93zM359.22 662.3h1.52v7.08h-1.52zM363.7 662.3h111.93v7.08h-111.93zM359.22 669.35h1.52v7.08h-1.52zM363.7 669.35h111.93v7.08h-111.93zM251.8 676.4h3.01v7.08h-3.01zM257.77 676.4h4.51v7.08h-4.51zM265.23 676.4h4.51v7.08h-4.51zM271.2 676.4h1.52v7.08h-1.52zM274.18 676.4h4.51v7.08h-4.51zM284.62 676.4h4.51v7.08h-4.51zM290.59 676.4h1.52v7.08h-1.52zM295.07 676.4h1.52v7.08h-1.52zM299.54 676.4h1.52v7.08h-1.52zM302.53 676.4h1.52v7.08h-1.52zM307 676.4h1.52v7.08h-1.52zM309.99 676.4h6v7.08h-6zM318.94 676.4h1.52v7.08h-1.52zM321.92 676.4h3.01v7.08h-3.01zM330.88 676.4h1.52v7.08h-1.52zM333.86 676.4h1.52v7.08h-1.52zM336.84 676.4h4.51v7.08h-4.51zM344.3 676.4h3.01v7.08h-3.01zM350.27 676.4h1.52v7.08h-1.52zM359.22 676.4h3.01v7.08h-3.01zM363.7 676.4h4.51v7.08h-4.51zM371.16 676.4h3.01v7.08h-3.01zM378.62 676.4h7.49v7.08h-7.49zM389.06 676.4h1.52v7.08h-1.52zM392.05 676.4h3.01v7.08h-3.01zM396.52 676.4h6v7.08h-6zM403.98 676.4h6v7.08h-6zM411.44 676.4h1.52v7.08h-1.52zM414.43 676.4h3.01v7.08h-3.01zM418.9 676.4h3.01v7.08h-3.01zM426.36 676.4h8.98v7.08h-8.98zM436.81 676.4h6v7.08h-6zM444.27 676.4h3.01v7.08h-3.01zM448.74 676.4h1.52v7.08h-1.52zM453.22 676.4h1.52v7.08h-1.52zM460.68 676.4h1.52v7.08h-1.52zM468.14 676.4h1.52v7.08h-1.52zM471.12 676.4h1.52v7.08h-1.52zM474.11 676.4h1.52v7.08h-1.52zM363.7 683.45h111.93v7.08h-111.93z"/>
<path fill="#f8fd14" d="M251.8 627.05h107.45v7.08h-107.45zM360.72 627.05h114.91v7.08h-114.91z"/>
<rect x="251.8" y="620" width="223.8" height="70.5" fill="url(#vgrid)"/>
<path d="M251.8 627.05H475.6M251.8 634.1H475.6M251.8 641.15H475.6M251.8 648.2H475.6M251.8 655.25H475.6M251.8 662.3H475.6M251.8 669.35H475.6M251.8 676.4H475.6M251.8 683.45H475.6" stroke="#fff" stroke-opacity="0.4" stroke-width="0.6"/>
<g font-family="Liberation Sans, Arial, sans-serif" font-size="3.9" fill="#333" text-anchor="end">
<text x="250.4" y="624.92">OrigCls</text>
<text x="250.4" y="631.97">Misclassified</text>
<text x="250.4" y="639.02">GrandMajority</text>
<text x="250.4" y="646.07">lda</text>
<text x="250.4" y="653.12">knn</text>
<text x="250.4" y="660.17">rf</text>
<text x="250.4" y="667.22">SVM</text>
<text x="250.4" y="674.27">nb</text>
<text x="250.4" y="681.32">Multinom</text>
<text x="250.4" y="688.38">JRip</text>
</g>
<path d="M248.5 692.1H475.6" stroke="#e2c4c4" stroke-width="0.45"/>
<text x="364" y="615.8" font-family="Liberation Sans, Arial, sans-serif" font-size="6.4" text-anchor="middle" fill="#111">Classes and misclassifications _ 111</text>
<rect x="477.2" y="619.1" width="54.4" height="71.7" fill="#fff" stroke="#999" stroke-width="0.5"/>
<rect x="477.4" y="628.15" width="0.6" height="4.7" fill="#d6cfb8" stroke="#b3aa92" stroke-width="0.3"/>
<rect x="477.4" y="635.2" width="0.6" height="4.7" fill="#d6cfb8" stroke="#b3aa92" stroke-width="0.3"/>
<rect x="477.4" y="642.25" width="22.2" height="4.7" fill="#d6cfb8" stroke="#b3aa92" stroke-width="0.3"/>
<rect x="477.4" y="649.3" width="0.3" height="4.7" fill="#d6cfb8" stroke="#b3aa92" stroke-width="0.3"/>
<rect x="477.4" y="656.35" width="0.3" height="4.7" fill="#d6cfb8" stroke="#b3aa92" stroke-width="0.3"/>
<rect x="477.4" y="663.4" width="0.3" height="4.7" fill="#d6cfb8" stroke="#b3aa92" stroke-width="0.3"/>
<rect x="477.4" y="670.45" width="0.3" height="4.7" fill="#d6cfb8" stroke="#b3aa92" stroke-width="0.3"/>
<rect x="477.4" y="677.5" width="22.2" height="4.7" fill="#d6cfb8" stroke="#b3aa92" stroke-width="0.3"/>
<rect x="477.4" y="684.55" width="0.3" height="4.7" fill="#d6cfb8" stroke="#b3aa92" stroke-width="0.3"/>
<path d="M477.2 690.8v1.4" stroke="#777" stroke-width="0.35"/>
<text transform="translate(478.5,692.8) rotate(-90)" text-anchor="end" font-family="Liberation Sans, Arial, sans-serif" font-size="3.6" fill="#333">0</text>
<path d="M493.6 690.8v1.4" stroke="#777" stroke-width="0.35"/>
<text transform="translate(494.9,692.8) rotate(-90)" text-anchor="end" font-family="Liberation Sans, Arial, sans-serif" font-size="3.6" fill="#333">50</text>
<path d="M510 690.8v1.4" stroke="#777" stroke-width="0.35"/>
<text transform="translate(511.3,692.8) rotate(-90)" text-anchor="end" font-family="Liberation Sans, Arial, sans-serif" font-size="3.6" fill="#333">100</text>
<path d="M526.4 690.8v1.4" stroke="#777" stroke-width="0.35"/>
<text transform="translate(527.7,692.8) rotate(-90)" text-anchor="end" font-family="Liberation Sans, Arial, sans-serif" font-size="3.6" fill="#333">150</text>
<text x="503.8" y="706" font-family="Liberation Sans, Arial, sans-serif" font-size="5.8" text-anchor="middle" fill="#222">Sum</text>
<rect x="534.2" y="647" width="5.3" height="5.35" fill="#5218f5"/>
<text x="540.8" y="651.2" font-family="Liberation Sans, Arial, sans-serif" font-size="4.5" fill="#333">2</text>
<rect x="534.2" y="652.3" width="5.3" height="5.35" fill="#1cf858"/>
<text x="540.8" y="656.5" font-family="Liberation Sans, Arial, sans-serif" font-size="4.5" fill="#333">1</text>
<rect x="534.2" y="657.6" width="5.3" height="5.35" fill="#f8fd14"/>
<text x="540.8" y="661.8" font-family="Liberation Sans, Arial, sans-serif" font-size="4.5" fill="#333">0</text>
</svg>
</body></html>
